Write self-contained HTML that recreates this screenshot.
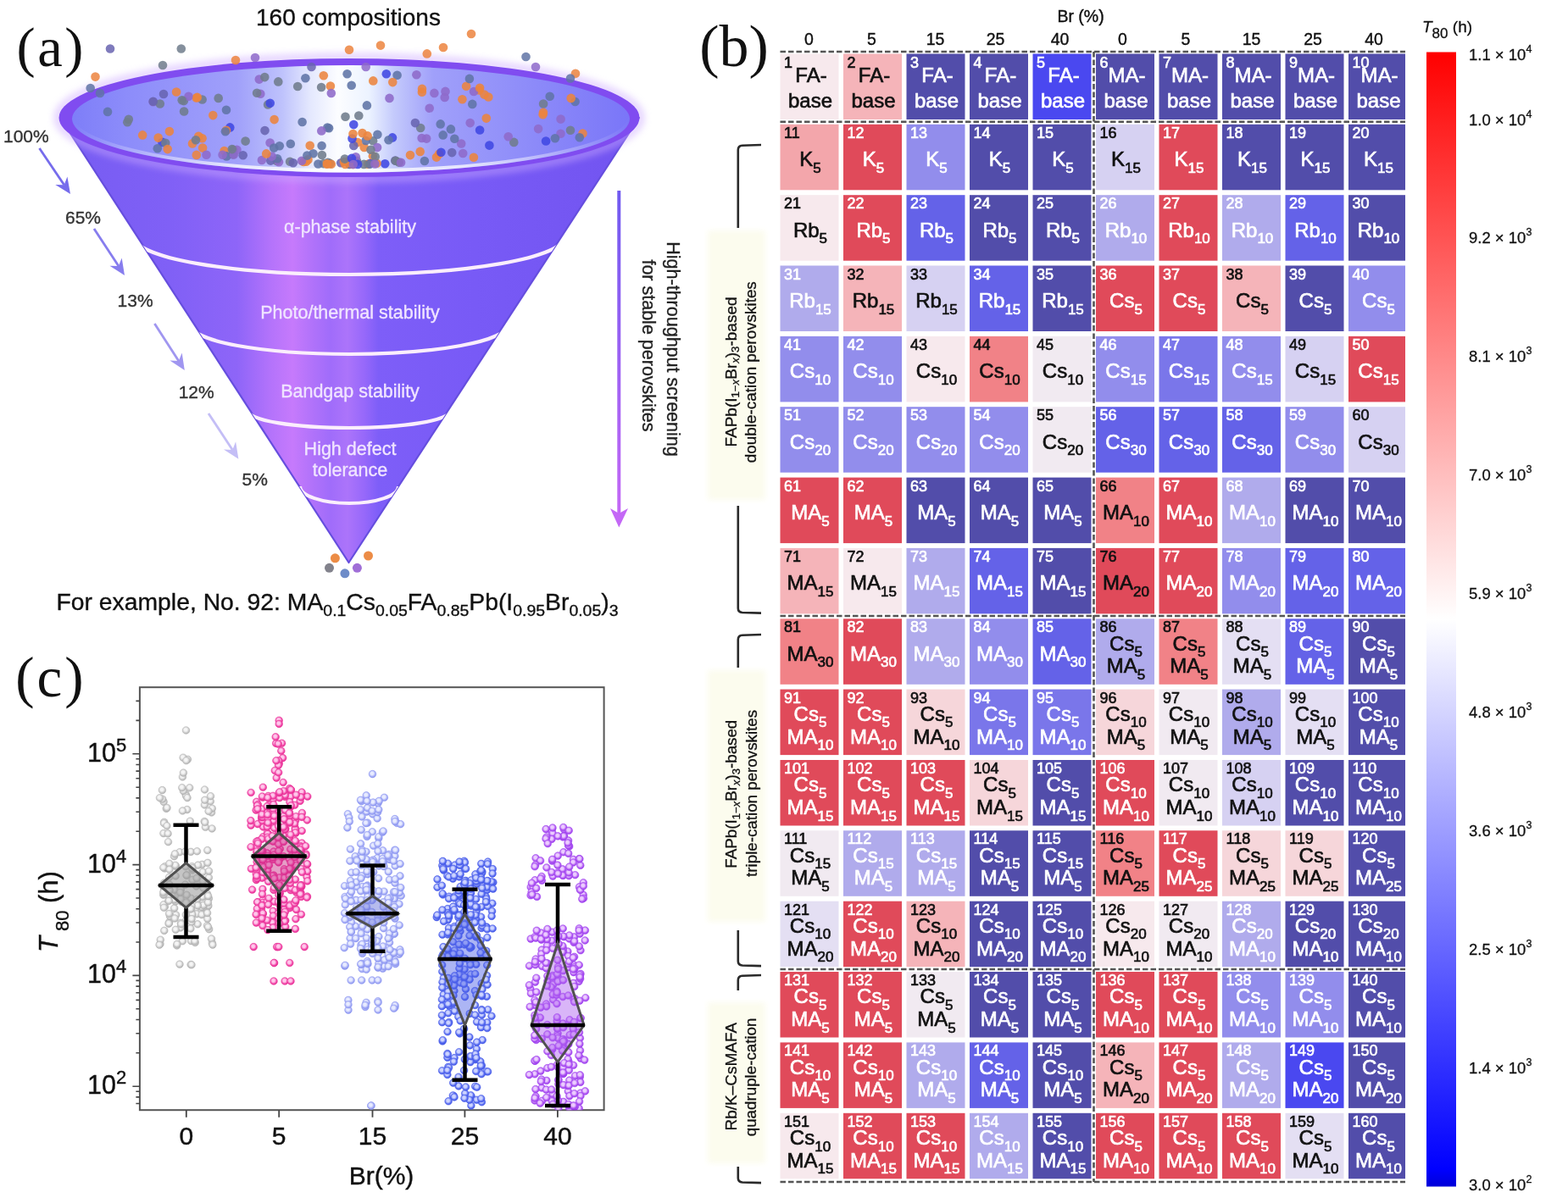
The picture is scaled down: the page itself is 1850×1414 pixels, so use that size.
<!DOCTYPE html>
<html><head><meta charset="utf-8"><title>Figure</title>
<style>html,body{margin:0;padding:0;background:#fff;}svg{display:block;}</style></head>
<body>
<svg width="1850" height="1414" viewBox="0 0 1850 1414" font-family="'Liberation Sans', Arial, Helvetica, sans-serif" fill="#111">
<rect width="1850" height="1414" fill="#fff"/>
<text x="19.6" y="77.5" font-family="'Liberation Serif', 'Times New Roman', serif" font-size="66.5" letter-spacing="2.5">(a)</text>
<text x="825.2" y="77.8" font-family="'Liberation Serif', 'Times New Roman', serif" font-size="70">(b)</text>
<text x="18.3" y="821.7" font-family="'Liberation Serif', 'Times New Roman', serif" font-size="67" letter-spacing="3">(c)</text>
<defs>
<linearGradient id="cone" gradientUnits="userSpaceOnUse" x1="72" y1="0" x2="753" y2="0">
<stop offset="0" stop-color="rgb(118,92,242)"/>
<stop offset="0.188" stop-color="rgb(128,96,246)"/>
<stop offset="0.305" stop-color="rgb(142,101,248)"/>
<stop offset="0.364" stop-color="rgb(180,115,251)"/>
<stop offset="0.401" stop-color="rgb(198,122,252)"/>
<stop offset="0.437" stop-color="rgb(176,114,250)"/>
<stop offset="0.467" stop-color="rgb(160,108,250)"/>
<stop offset="0.496" stop-color="rgb(172,116,250)"/>
<stop offset="0.526" stop-color="rgb(150,104,250)"/>
<stop offset="0.55" stop-color="rgb(126,94,248)"/>
<stop offset="0.717" stop-color="rgb(120,90,246)"/>
<stop offset="1" stop-color="rgb(114,84,240)"/>
</linearGradient>
<linearGradient id="mouth" gradientUnits="userSpaceOnUse" x1="82" y1="0" x2="742" y2="0">
<stop offset="0" stop-color="rgb(125,125,248)"/>
<stop offset="0.10" stop-color="rgb(140,140,250)"/>
<stop offset="0.30" stop-color="rgb(160,160,250)"/>
<stop offset="0.38" stop-color="rgb(190,194,252)"/>
<stop offset="0.43" stop-color="rgb(228,232,254)"/>
<stop offset="0.48" stop-color="rgb(252,253,255)"/>
<stop offset="0.535" stop-color="rgb(236,243,255)"/>
<stop offset="0.58" stop-color="rgb(196,202,252)"/>
<stop offset="0.65" stop-color="rgb(160,160,250)"/>
<stop offset="1" stop-color="rgb(122,118,248)"/>
</linearGradient>
<linearGradient id="varrow" x1="0" y1="0" x2="0" y2="1">
<stop offset="0" stop-color="rgb(112,90,240)"/><stop offset="1" stop-color="rgb(196,104,246)"/>
</linearGradient>
<filter id="glow" x="-10%" y="-30%" width="120%" height="160%"><feGaussianBlur stdDeviation="4"/></filter>
<filter id="soft" x="-10%" y="-10%" width="120%" height="120%"><feGaussianBlur stdDeviation="0.6"/></filter>
</defs>
<path d="M71 139 L411.5 664 L754 139 Z" fill="url(#cone)" stroke="rgb(102,78,222)" stroke-width="2.2" stroke-linejoin="round"/>
<ellipse cx="412" cy="139" rx="344" ry="72" fill="none" stroke="rgb(205,170,255)" stroke-width="8" filter="url(#glow)" opacity="0.6"/>
<ellipse cx="412" cy="139" rx="342.5" ry="70" fill="rgb(128,76,240)"/>
<ellipse cx="414" cy="140.3" rx="329" ry="63.3" fill="url(#mouth)"/>
<defs><linearGradient id="lip" gradientUnits="userSpaceOnUse" x1="85" y1="0" x2="743" y2="0"><stop offset="0" stop-color="#fff" stop-opacity="0"/><stop offset="0.3" stop-color="#fff" stop-opacity="0.75"/><stop offset="0.7" stop-color="#fff" stop-opacity="0.75"/><stop offset="1" stop-color="#fff" stop-opacity="0"/></linearGradient></defs>
<path d="M85 140.3 A329 63.3 0 0 0 743 140.3" fill="none" stroke="url(#lip)" stroke-width="4" transform="translate(0 -2.2)"/>
<defs><clipPath id="coneclip"><path d="M71 139 L411.5 664 L754 139 Z"/></clipPath><clipPath id="mouthclip"><ellipse cx="414" cy="140.3" rx="329" ry="63.3"/></clipPath></defs><g clip-path="url(#coneclip)">
<path d="M159.0 280.0 A253.0 44.0 0 0 0 665.0 280.0" fill="none" stroke="#fbeefc" stroke-width="4.2"/>
<path d="M226.0 384.0 A186.0 34.0 0 0 0 598.0 384.0" fill="none" stroke="#fbeefc" stroke-width="4.2"/>
<path d="M293.0 485.0 A119.0 20.0 0 0 0 531.0 485.0" fill="none" stroke="#fbeefc" stroke-width="4.2"/>
<path d="M354.0 574.0 A58.0 20.0 0 0 0 470.0 574.0" fill="none" stroke="#fbeefc" stroke-width="4.2"/>
</g>
<g clip-path="url(#mouthclip)">
<circle cx="264.6" cy="178.1" r="5.3" fill="rgb(236,132,62)" opacity="0.88"/>
<circle cx="418.6" cy="192.8" r="5.3" fill="rgb(96,116,166)" opacity="0.88"/>
<circle cx="414.6" cy="193.1" r="5.3" fill="rgb(236,132,62)" opacity="0.88"/>
<circle cx="191.5" cy="167.9" r="5.3" fill="rgb(64,72,226)" opacity="0.88"/>
<circle cx="402.2" cy="192.2" r="5.3" fill="rgb(104,100,176)" opacity="0.88"/>
<circle cx="358.2" cy="190.9" r="5.3" fill="rgb(236,132,62)" opacity="0.88"/>
<circle cx="440.3" cy="95.4" r="5.3" fill="rgb(236,132,62)" opacity="0.88"/>
<circle cx="577.4" cy="171.6" r="5.3" fill="rgb(64,72,226)" opacity="0.88"/>
<circle cx="307.3" cy="110.7" r="5.3" fill="rgb(142,106,202)" opacity="0.88"/>
<circle cx="326.6" cy="190.0" r="5.3" fill="rgb(112,124,140)" opacity="0.88"/>
<circle cx="238.6" cy="117.5" r="5.3" fill="rgb(112,124,140)" opacity="0.88"/>
<circle cx="496.2" cy="151.0" r="5.3" fill="rgb(112,124,140)" opacity="0.88"/>
<circle cx="429.7" cy="173.9" r="5.3" fill="rgb(236,132,62)" opacity="0.88"/>
<circle cx="381.8" cy="193.1" r="5.3" fill="rgb(112,124,140)" opacity="0.88"/>
<circle cx="318.6" cy="168.5" r="5.3" fill="rgb(142,106,202)" opacity="0.88"/>
<circle cx="386.3" cy="150.5" r="5.3" fill="rgb(96,116,166)" opacity="0.88"/>
<circle cx="533.2" cy="180.1" r="5.3" fill="rgb(104,100,176)" opacity="0.88"/>
<circle cx="439.9" cy="184.2" r="5.3" fill="rgb(236,132,62)" opacity="0.88"/>
<circle cx="525.5" cy="107.9" r="5.3" fill="rgb(142,106,202)" opacity="0.88"/>
<circle cx="546.2" cy="181.0" r="5.3" fill="rgb(142,106,202)" opacity="0.88"/>
<circle cx="544.2" cy="169.5" r="5.3" fill="rgb(142,106,202)" opacity="0.88"/>
<circle cx="412.2" cy="189.6" r="5.3" fill="rgb(236,132,62)" opacity="0.88"/>
<circle cx="573.8" cy="139.6" r="5.3" fill="rgb(236,132,62)" opacity="0.88"/>
<circle cx="635.1" cy="152.1" r="5.3" fill="rgb(142,106,202)" opacity="0.88"/>
<circle cx="495.7" cy="178.9" r="5.3" fill="rgb(236,132,62)" opacity="0.88"/>
<circle cx="388.1" cy="151.2" r="5.3" fill="rgb(96,116,166)" opacity="0.88"/>
<circle cx="648.7" cy="113.7" r="5.3" fill="rgb(96,116,166)" opacity="0.88"/>
<circle cx="503.2" cy="163.6" r="5.3" fill="rgb(142,106,202)" opacity="0.88"/>
<circle cx="436.4" cy="193.1" r="5.3" fill="rgb(64,72,226)" opacity="0.88"/>
<circle cx="455.8" cy="87.3" r="5.3" fill="rgb(64,72,226)" opacity="0.88"/>
<circle cx="369.5" cy="181.2" r="5.3" fill="rgb(96,116,166)" opacity="0.88"/>
<circle cx="412.7" cy="193.8" r="5.3" fill="rgb(142,106,202)" opacity="0.88"/>
<circle cx="329.0" cy="191.2" r="5.3" fill="rgb(142,106,202)" opacity="0.88"/>
<circle cx="361.2" cy="190.7" r="5.3" fill="rgb(236,132,62)" opacity="0.88"/>
<circle cx="208.1" cy="108.5" r="5.3" fill="rgb(236,132,62)" opacity="0.88"/>
<circle cx="440.1" cy="166.3" r="5.3" fill="rgb(112,124,140)" opacity="0.88"/>
<circle cx="565.4" cy="106.5" r="5.3" fill="rgb(236,132,62)" opacity="0.88"/>
<circle cx="303.1" cy="109.8" r="5.3" fill="rgb(112,124,140)" opacity="0.88"/>
<circle cx="342.8" cy="169.8" r="5.3" fill="rgb(96,116,166)" opacity="0.88"/>
<circle cx="305.8" cy="93.6" r="5.3" fill="rgb(142,106,202)" opacity="0.88"/>
<circle cx="363.5" cy="188.4" r="5.3" fill="rgb(236,132,62)" opacity="0.88"/>
<circle cx="463.0" cy="162.4" r="5.3" fill="rgb(64,72,226)" opacity="0.88"/>
<circle cx="231.8" cy="182.9" r="5.3" fill="rgb(236,132,62)" opacity="0.88"/>
<circle cx="445.1" cy="174.1" r="5.3" fill="rgb(142,106,202)" opacity="0.88"/>
<circle cx="423.3" cy="136.5" r="5.3" fill="rgb(112,124,140)" opacity="0.88"/>
<circle cx="519.7" cy="146.4" r="5.3" fill="rgb(96,116,166)" opacity="0.88"/>
<circle cx="454.2" cy="193.2" r="5.3" fill="rgb(64,72,226)" opacity="0.88"/>
<circle cx="559.0" cy="108.0" r="5.3" fill="rgb(142,106,202)" opacity="0.88"/>
<circle cx="379.6" cy="172.0" r="5.3" fill="rgb(96,116,166)" opacity="0.88"/>
<circle cx="150.3" cy="144.2" r="5.3" fill="rgb(112,124,140)" opacity="0.88"/>
<circle cx="389.3" cy="192.9" r="5.3" fill="rgb(112,124,140)" opacity="0.88"/>
<circle cx="275.3" cy="176.7" r="5.3" fill="rgb(112,124,140)" opacity="0.88"/>
<circle cx="319.3" cy="189.6" r="5.3" fill="rgb(104,100,176)" opacity="0.88"/>
<circle cx="434.0" cy="193.8" r="5.3" fill="rgb(236,132,62)" opacity="0.88"/>
<circle cx="356.0" cy="189.8" r="5.3" fill="rgb(142,106,202)" opacity="0.88"/>
<circle cx="239.1" cy="174.6" r="5.3" fill="rgb(236,132,62)" opacity="0.88"/>
<circle cx="409.6" cy="87.3" r="5.3" fill="rgb(96,116,166)" opacity="0.88"/>
<circle cx="186.7" cy="162.6" r="5.3" fill="rgb(236,132,62)" opacity="0.88"/>
<circle cx="386.9" cy="191.8" r="5.3" fill="rgb(112,124,140)" opacity="0.88"/>
<circle cx="231.7" cy="115.5" r="5.3" fill="rgb(236,132,62)" opacity="0.88"/>
<circle cx="436.1" cy="193.8" r="5.3" fill="rgb(96,116,166)" opacity="0.88"/>
<circle cx="421.0" cy="189.9" r="5.3" fill="rgb(112,124,140)" opacity="0.88"/>
<circle cx="687.5" cy="157.5" r="5.3" fill="rgb(236,132,62)" opacity="0.88"/>
<circle cx="512.4" cy="109.9" r="5.3" fill="rgb(142,106,202)" opacity="0.88"/>
<circle cx="379.9" cy="183.0" r="5.3" fill="rgb(112,124,140)" opacity="0.88"/>
<circle cx="432.9" cy="124.4" r="5.3" fill="rgb(96,116,166)" opacity="0.88"/>
<circle cx="316.1" cy="123.4" r="5.3" fill="rgb(112,124,140)" opacity="0.88"/>
<circle cx="515.0" cy="185.6" r="5.3" fill="rgb(236,132,62)" opacity="0.88"/>
<circle cx="571.4" cy="111.6" r="5.3" fill="rgb(236,132,62)" opacity="0.88"/>
<circle cx="545.4" cy="117.2" r="5.3" fill="rgb(236,132,62)" opacity="0.88"/>
<circle cx="419.8" cy="185.3" r="5.3" fill="rgb(142,106,202)" opacity="0.88"/>
<circle cx="385.9" cy="193.7" r="5.3" fill="rgb(236,132,62)" opacity="0.88"/>
<circle cx="484.0" cy="183.1" r="5.3" fill="rgb(236,132,62)" opacity="0.88"/>
<circle cx="644.1" cy="166.5" r="5.3" fill="rgb(64,72,226)" opacity="0.88"/>
<circle cx="491.4" cy="88.2" r="5.3" fill="rgb(142,106,202)" opacity="0.88"/>
<circle cx="323.2" cy="174.6" r="5.3" fill="rgb(96,116,166)" opacity="0.88"/>
<circle cx="327.2" cy="187.2" r="5.3" fill="rgb(96,116,166)" opacity="0.88"/>
<circle cx="566.1" cy="103.7" r="5.3" fill="rgb(236,132,62)" opacity="0.88"/>
<circle cx="497.6" cy="163.0" r="5.3" fill="rgb(142,106,202)" opacity="0.88"/>
<circle cx="180.7" cy="120.2" r="5.3" fill="rgb(142,106,202)" opacity="0.88"/>
<circle cx="661.6" cy="140.6" r="5.3" fill="rgb(142,106,202)" opacity="0.88"/>
<circle cx="557.3" cy="122.9" r="5.3" fill="rgb(96,116,166)" opacity="0.88"/>
<circle cx="238.6" cy="163.2" r="5.3" fill="rgb(236,132,62)" opacity="0.88"/>
<circle cx="318.7" cy="121.8" r="5.3" fill="rgb(64,72,226)" opacity="0.88"/>
<circle cx="678.6" cy="120.0" r="5.3" fill="rgb(96,116,166)" opacity="0.88"/>
<circle cx="365.7" cy="171.7" r="5.3" fill="rgb(236,132,62)" opacity="0.88"/>
<circle cx="217.1" cy="131.5" r="5.3" fill="rgb(112,124,140)" opacity="0.88"/>
<circle cx="342.1" cy="190.8" r="5.3" fill="rgb(112,124,140)" opacity="0.88"/>
<circle cx="216.9" cy="119.1" r="5.3" fill="rgb(112,124,140)" opacity="0.88"/>
<circle cx="673.7" cy="115.9" r="5.3" fill="rgb(236,132,62)" opacity="0.88"/>
<circle cx="323.6" cy="141.1" r="5.3" fill="rgb(236,132,62)" opacity="0.88"/>
<circle cx="199.9" cy="155.1" r="5.3" fill="rgb(236,132,62)" opacity="0.88"/>
<circle cx="429.3" cy="193.9" r="5.3" fill="rgb(112,124,140)" opacity="0.88"/>
<circle cx="661.5" cy="157.7" r="5.3" fill="rgb(142,106,202)" opacity="0.88"/>
<circle cx="606.3" cy="167.9" r="5.3" fill="rgb(112,124,140)" opacity="0.88"/>
<circle cx="257.7" cy="115.9" r="5.3" fill="rgb(112,124,140)" opacity="0.88"/>
<circle cx="362.4" cy="183.6" r="5.3" fill="rgb(96,116,166)" opacity="0.88"/>
<circle cx="271.3" cy="150.4" r="5.3" fill="rgb(64,72,226)" opacity="0.88"/>
<circle cx="227.0" cy="169.4" r="5.3" fill="rgb(236,132,62)" opacity="0.88"/>
<circle cx="351.2" cy="102.0" r="5.3" fill="rgb(112,124,140)" opacity="0.88"/>
<circle cx="458.5" cy="165.3" r="5.3" fill="rgb(96,116,166)" opacity="0.88"/>
<circle cx="379.1" cy="103.0" r="5.3" fill="rgb(112,124,140)" opacity="0.88"/>
<circle cx="414.7" cy="100.7" r="5.3" fill="rgb(96,116,166)" opacity="0.88"/>
<circle cx="427.5" cy="157.1" r="5.3" fill="rgb(236,132,62)" opacity="0.88"/>
<circle cx="412.3" cy="193.9" r="5.3" fill="rgb(96,116,166)" opacity="0.88"/>
<circle cx="416.3" cy="194.0" r="5.3" fill="rgb(236,132,62)" opacity="0.88"/>
<circle cx="536.3" cy="163.7" r="5.3" fill="rgb(96,116,166)" opacity="0.88"/>
<circle cx="312.5" cy="154.1" r="5.3" fill="rgb(104,100,176)" opacity="0.88"/>
<circle cx="445.4" cy="158.7" r="5.3" fill="rgb(96,116,166)" opacity="0.88"/>
<circle cx="188.8" cy="122.5" r="5.3" fill="rgb(112,124,140)" opacity="0.88"/>
<circle cx="267.0" cy="153.7" r="5.3" fill="rgb(236,132,62)" opacity="0.88"/>
<circle cx="518.0" cy="181.8" r="5.3" fill="rgb(236,132,62)" opacity="0.88"/>
<circle cx="566.1" cy="153.5" r="5.3" fill="rgb(64,72,226)" opacity="0.88"/>
<circle cx="389.9" cy="101.6" r="5.3" fill="rgb(236,132,62)" opacity="0.88"/>
<circle cx="417.3" cy="147.1" r="5.3" fill="rgb(64,72,226)" opacity="0.88"/>
<circle cx="522.7" cy="159.4" r="5.3" fill="rgb(96,116,166)" opacity="0.88"/>
<circle cx="431.6" cy="166.0" r="5.3" fill="rgb(96,116,166)" opacity="0.88"/>
<circle cx="654.9" cy="163.2" r="5.3" fill="rgb(96,116,166)" opacity="0.88"/>
<circle cx="640.6" cy="135.2" r="5.3" fill="rgb(236,132,62)" opacity="0.88"/>
<circle cx="328.3" cy="96.4" r="5.3" fill="rgb(112,124,140)" opacity="0.88"/>
<circle cx="673.0" cy="153.8" r="5.3" fill="rgb(112,124,140)" opacity="0.88"/>
<circle cx="222.5" cy="113.7" r="5.3" fill="rgb(142,106,202)" opacity="0.88"/>
<circle cx="405.9" cy="191.0" r="5.3" fill="rgb(236,132,62)" opacity="0.88"/>
<circle cx="267.3" cy="184.4" r="5.3" fill="rgb(96,116,166)" opacity="0.88"/>
<circle cx="641.1" cy="122.6" r="5.3" fill="rgb(112,124,140)" opacity="0.88"/>
<circle cx="466.3" cy="189.5" r="5.3" fill="rgb(104,100,176)" opacity="0.88"/>
<circle cx="500.9" cy="190.0" r="5.3" fill="rgb(96,116,166)" opacity="0.88"/>
<circle cx="558.9" cy="185.8" r="5.3" fill="rgb(236,132,62)" opacity="0.88"/>
<circle cx="683.8" cy="162.2" r="5.3" fill="rgb(96,116,166)" opacity="0.88"/>
<circle cx="232.8" cy="114.9" r="5.3" fill="rgb(236,132,62)" opacity="0.88"/>
<circle cx="422.0" cy="168.1" r="5.3" fill="rgb(236,132,62)" opacity="0.88"/>
<circle cx="279.5" cy="176.8" r="5.3" fill="rgb(142,106,202)" opacity="0.88"/>
<circle cx="127.0" cy="131.9" r="5.3" fill="rgb(96,116,166)" opacity="0.88"/>
<circle cx="379.3" cy="154.4" r="5.3" fill="rgb(142,106,202)" opacity="0.88"/>
<circle cx="407.3" cy="193.9" r="5.3" fill="rgb(236,132,62)" opacity="0.88"/>
<circle cx="168.2" cy="159.4" r="5.3" fill="rgb(236,132,62)" opacity="0.88"/>
<circle cx="468.6" cy="88.7" r="5.3" fill="rgb(96,116,166)" opacity="0.88"/>
<circle cx="312.3" cy="91.1" r="5.3" fill="rgb(112,124,140)" opacity="0.88"/>
<circle cx="243.5" cy="182.7" r="5.3" fill="rgb(142,106,202)" opacity="0.88"/>
<circle cx="274.9" cy="182.3" r="5.3" fill="rgb(96,116,166)" opacity="0.88"/>
<circle cx="550.1" cy="101.8" r="5.3" fill="rgb(236,132,62)" opacity="0.88"/>
<circle cx="286.7" cy="183.2" r="5.3" fill="rgb(104,100,176)" opacity="0.88"/>
<circle cx="531.9" cy="152.4" r="5.3" fill="rgb(96,116,166)" opacity="0.88"/>
<circle cx="345.9" cy="192.2" r="5.3" fill="rgb(104,100,176)" opacity="0.88"/>
<circle cx="195.3" cy="168.8" r="5.3" fill="rgb(112,124,140)" opacity="0.88"/>
<circle cx="463.3" cy="97.1" r="5.3" fill="rgb(236,132,62)" opacity="0.88"/>
<circle cx="180.7" cy="119.8" r="5.3" fill="rgb(104,100,176)" opacity="0.88"/>
<circle cx="193.0" cy="111.0" r="5.3" fill="rgb(104,100,176)" opacity="0.88"/>
<circle cx="390.8" cy="110.0" r="5.3" fill="rgb(142,106,202)" opacity="0.88"/>
<circle cx="437.5" cy="176.8" r="5.3" fill="rgb(112,124,140)" opacity="0.88"/>
<circle cx="275.8" cy="182.5" r="5.3" fill="rgb(142,106,202)" opacity="0.88"/>
<circle cx="320.7" cy="184.6" r="5.3" fill="rgb(142,106,202)" opacity="0.88"/>
<circle cx="385.7" cy="193.3" r="5.3" fill="rgb(236,132,62)" opacity="0.88"/>
<circle cx="520.4" cy="179.7" r="5.3" fill="rgb(64,72,226)" opacity="0.88"/>
<circle cx="234.3" cy="160.7" r="5.3" fill="rgb(236,132,62)" opacity="0.88"/>
<circle cx="197.7" cy="176.1" r="5.3" fill="rgb(236,132,62)" opacity="0.88"/>
<circle cx="422.1" cy="193.9" r="5.3" fill="rgb(64,72,226)" opacity="0.88"/>
<circle cx="406.8" cy="187.6" r="5.3" fill="rgb(112,124,140)" opacity="0.88"/>
<circle cx="470.7" cy="191.6" r="5.3" fill="rgb(112,124,140)" opacity="0.88"/>
<circle cx="599.7" cy="161.3" r="5.3" fill="rgb(142,106,202)" opacity="0.88"/>
<circle cx="417.3" cy="171.9" r="5.3" fill="rgb(104,100,176)" opacity="0.88"/>
<circle cx="381.8" cy="89.2" r="5.3" fill="rgb(236,132,62)" opacity="0.88"/>
<circle cx="524.7" cy="115.0" r="5.3" fill="rgb(142,106,202)" opacity="0.88"/>
<circle cx="356.6" cy="144.0" r="5.3" fill="rgb(96,116,166)" opacity="0.88"/>
<circle cx="273.8" cy="176.1" r="5.3" fill="rgb(112,124,140)" opacity="0.88"/>
<circle cx="444.5" cy="192.8" r="5.3" fill="rgb(236,132,62)" opacity="0.88"/>
<circle cx="308.9" cy="189.0" r="5.3" fill="rgb(142,106,202)" opacity="0.88"/>
<circle cx="497.9" cy="108.7" r="5.3" fill="rgb(236,132,62)" opacity="0.88"/>
<circle cx="314.2" cy="181.4" r="5.3" fill="rgb(236,132,62)" opacity="0.88"/>
<circle cx="231.0" cy="165.2" r="5.3" fill="rgb(112,124,140)" opacity="0.88"/>
<circle cx="289.6" cy="166.6" r="5.3" fill="rgb(112,124,140)" opacity="0.88"/>
<circle cx="553.9" cy="92.9" r="5.3" fill="rgb(96,116,166)" opacity="0.88"/>
<circle cx="265.9" cy="155.3" r="5.3" fill="rgb(96,116,166)" opacity="0.88"/>
<circle cx="360.4" cy="92.2" r="5.3" fill="rgb(96,116,166)" opacity="0.88"/>
<circle cx="185.8" cy="175.3" r="5.3" fill="rgb(96,116,166)" opacity="0.88"/>
<circle cx="415.5" cy="163.6" r="5.3" fill="rgb(64,72,226)" opacity="0.88"/>
<circle cx="415.0" cy="186.9" r="5.3" fill="rgb(64,72,226)" opacity="0.88"/>
<circle cx="262.6" cy="182.8" r="5.3" fill="rgb(142,106,202)" opacity="0.88"/>
<circle cx="375.4" cy="193.5" r="5.3" fill="rgb(96,116,166)" opacity="0.88"/>
<circle cx="442.7" cy="184.9" r="5.3" fill="rgb(112,124,140)" opacity="0.88"/>
<circle cx="506.7" cy="127.7" r="5.3" fill="rgb(142,106,202)" opacity="0.88"/>
<circle cx="641.0" cy="132.8" r="5.3" fill="rgb(236,132,62)" opacity="0.88"/>
<circle cx="329.8" cy="172.3" r="5.3" fill="rgb(96,116,166)" opacity="0.88"/>
<circle cx="466.8" cy="189.7" r="5.3" fill="rgb(112,124,140)" opacity="0.88"/>
<circle cx="442.3" cy="193.5" r="5.3" fill="rgb(142,106,202)" opacity="0.88"/>
<circle cx="554.7" cy="145.1" r="5.3" fill="rgb(142,106,202)" opacity="0.88"/>
<circle cx="214.7" cy="118.2" r="5.3" fill="rgb(112,124,140)" opacity="0.88"/>
<circle cx="416.5" cy="158.0" r="5.3" fill="rgb(236,132,62)" opacity="0.88"/>
<circle cx="576.3" cy="114.5" r="5.3" fill="rgb(236,132,62)" opacity="0.88"/>
<circle cx="459.5" cy="115.9" r="5.3" fill="rgb(142,106,202)" opacity="0.88"/>
<circle cx="498.0" cy="104.9" r="5.3" fill="rgb(236,132,62)" opacity="0.88"/>
<circle cx="251.3" cy="136.1" r="5.3" fill="rgb(236,132,62)" opacity="0.88"/>
<circle cx="390.8" cy="193.7" r="5.3" fill="rgb(236,132,62)" opacity="0.88"/>
<circle cx="473.1" cy="191.7" r="5.3" fill="rgb(142,106,202)" opacity="0.88"/>
<circle cx="489.9" cy="145.1" r="5.3" fill="rgb(104,100,176)" opacity="0.88"/>
<circle cx="407.5" cy="137.8" r="5.3" fill="rgb(112,124,140)" opacity="0.88"/>
<circle cx="416.8" cy="194.0" r="5.3" fill="rgb(142,106,202)" opacity="0.88"/>
<circle cx="433.7" cy="160.4" r="5.3" fill="rgb(236,132,62)" opacity="0.88"/>
<circle cx="151.8" cy="140.8" r="5.3" fill="rgb(112,124,140)" opacity="0.88"/>
<circle cx="267.0" cy="129.7" r="5.3" fill="rgb(96,116,166)" opacity="0.88"/>
</g>
<circle cx="130.0" cy="57.5" r="5.3" fill="rgb(104,100,176)" opacity="0.85"/>
<circle cx="213.8" cy="57.5" r="5.3" fill="rgb(112,124,140)" opacity="0.85"/>
<circle cx="192.0" cy="77.0" r="5.3" fill="rgb(112,124,140)" opacity="0.85"/>
<circle cx="278.0" cy="71.0" r="5.3" fill="rgb(236,132,62)" opacity="0.85"/>
<circle cx="301.0" cy="68.0" r="5.3" fill="rgb(142,106,202)" opacity="0.85"/>
<circle cx="412.0" cy="58.7" r="5.3" fill="rgb(236,132,62)" opacity="0.85"/>
<circle cx="449.0" cy="53.6" r="5.3" fill="rgb(236,132,62)" opacity="0.85"/>
<circle cx="503.8" cy="63.4" r="5.3" fill="rgb(236,132,62)" opacity="0.85"/>
<circle cx="523.0" cy="56.0" r="5.3" fill="rgb(236,132,62)" opacity="0.85"/>
<circle cx="620.5" cy="67.0" r="5.3" fill="rgb(96,116,166)" opacity="0.85"/>
<circle cx="632.0" cy="79.0" r="5.3" fill="rgb(142,106,202)" opacity="0.85"/>
<circle cx="679.0" cy="86.7" r="5.3" fill="rgb(236,132,62)" opacity="0.85"/>
<circle cx="673.0" cy="92.5" r="5.3" fill="rgb(96,116,166)" opacity="0.85"/>
<circle cx="112.5" cy="90.6" r="5.3" fill="rgb(236,132,62)" opacity="0.85"/>
<circle cx="118.0" cy="110.0" r="5.3" fill="rgb(96,116,166)" opacity="0.85"/>
<circle cx="106.7" cy="104.0" r="5.3" fill="rgb(96,116,166)" opacity="0.85"/>
<circle cx="367.5" cy="79.0" r="5.3" fill="rgb(104,100,176)" opacity="0.85"/>
<circle cx="431.7" cy="79.0" r="5.3" fill="rgb(142,106,202)" opacity="0.85"/>
<circle cx="556.0" cy="40.0" r="5.3" fill="rgb(236,132,62)" opacity="0.85"/>
<circle cx="395.4" cy="658.8" r="5.5" fill="rgb(236,140,70)"/>
<circle cx="434.5" cy="656.0" r="5.5" fill="rgb(236,140,70)"/>
<circle cx="388.5" cy="670.3" r="5.5" fill="rgb(130,130,140)"/>
<circle cx="406.9" cy="676.8" r="5.5" fill="rgb(110,140,200)"/>
<circle cx="421.4" cy="670.3" r="5.5" fill="rgb(160,110,215)"/>
<text x="413" y="275" fill="rgb(240,228,255)" font-size="21.5" text-anchor="middle" stroke="rgb(240,228,255)" stroke-width="0.35">α-phase stability</text>
<text x="413" y="376" fill="rgb(240,228,255)" font-size="21.5" text-anchor="middle" stroke="rgb(240,228,255)" stroke-width="0.35">Photo/thermal stability</text>
<text x="413" y="469" fill="rgb(240,228,255)" font-size="21.5" text-anchor="middle" stroke="rgb(240,228,255)" stroke-width="0.35">Bandgap stability</text>
<text x="413" y="537" fill="rgb(240,228,255)" font-size="21.5" text-anchor="middle" stroke="rgb(240,228,255)" stroke-width="0.35">High defect</text>
<text x="413" y="562" fill="rgb(240,228,255)" font-size="21.5" text-anchor="middle" stroke="rgb(240,228,255)" stroke-width="0.35">tolerance</text>
<text x="4.0" y="168.0" fill="#333" font-size="21" stroke="#333" stroke-width="0.35">100%</text>
<text x="77.0" y="264.0" fill="#333" font-size="21" stroke="#333" stroke-width="0.35">65%</text>
<text x="138.6" y="362.0" fill="#333" font-size="21" stroke="#333" stroke-width="0.35">13%</text>
<text x="210.7" y="470.0" fill="#333" font-size="21" stroke="#333" stroke-width="0.35">12%</text>
<text x="285.6" y="573.0" fill="#333" font-size="21" stroke="#333" stroke-width="0.35">5%</text>
<line x1="46.5" y1="175.0" x2="75.7" y2="218.2" stroke="rgb(118,108,236)" stroke-width="2.8"/>
<path d="M83.0 229.0 L65.3 218.0 L75.7 218.2 L79.4 208.5 Z" fill="rgb(118,108,236)"/>
<line x1="111.0" y1="270.0" x2="139.9" y2="314.1" stroke="rgb(135,125,238)" stroke-width="2.8"/>
<path d="M147.0 325.0 L129.5 313.8 L139.9 314.1 L143.7 304.4 Z" fill="rgb(135,125,238)"/>
<line x1="182.4" y1="382.0" x2="210.8" y2="426.1" stroke="rgb(160,150,240)" stroke-width="2.8"/>
<path d="M217.8 437.0 L200.4 425.6 L210.8 426.1 L214.7 416.4 Z" fill="rgb(160,150,240)"/>
<line x1="246.0" y1="488.0" x2="274.3" y2="530.9" stroke="rgb(196,190,246)" stroke-width="2.8"/>
<path d="M281.4 541.8 L263.9 530.6 L274.3 530.9 L278.1 521.3 Z" fill="rgb(196,190,246)"/>
<rect x="728.3" y="225" width="4" height="382" fill="url(#varrow)"/>
<path d="M720 600 L730.3 622.5 L741 600 L730.3 606 Z" fill="rgb(196,104,246)"/>
<text transform="translate(787 412) rotate(90)" font-size="21.5" text-anchor="middle" fill="#222" stroke="#222" stroke-width="0.35">High-throughput screening</text>
<text transform="translate(758 408) rotate(90)" font-size="21.5" text-anchor="middle" fill="#222" stroke="#222" stroke-width="0.35">for stable perovskites</text>
<text x="302" y="29.8" font-size="28" fill="#111" stroke="#111" stroke-width="0.35">160 compositions</text>
<text x="66.5" y="720" font-size="27.7" fill="#111" textLength="663" lengthAdjust="spacingAndGlyphs" stroke="#111" stroke-width="0.35">For example, No. 92: MA<tspan font-size="19" dy="7">0.1</tspan><tspan dy="-7">Cs</tspan><tspan font-size="19" dy="7">0.05</tspan><tspan dy="-7">FA</tspan><tspan font-size="19" dy="7">0.85</tspan><tspan dy="-7">Pb(I</tspan><tspan font-size="19" dy="7">0.95</tspan><tspan dy="-7">Br</tspan><tspan font-size="19" dy="7">0.05</tspan><tspan dy="-7">)</tspan><tspan font-size="19" dy="7">3</tspan></text>
<line x1="920.5" y1="61.0" x2="1658" y2="61.0" stroke="#555" stroke-width="2.6" stroke-dasharray="6.5 3" fill="none"/>
<line x1="920.5" y1="143.8" x2="1658" y2="143.8" stroke="#555" stroke-width="2.6" stroke-dasharray="6.5 3" fill="none"/>
<line x1="920.5" y1="727.0" x2="1658" y2="727.0" stroke="#555" stroke-width="2.6" stroke-dasharray="6.5 3" fill="none"/>
<line x1="920.5" y1="1144.0" x2="1658" y2="1144.0" stroke="#555" stroke-width="2.6" stroke-dasharray="6.5 3" fill="none"/>
<line x1="920.5" y1="1395.0" x2="1658" y2="1395.0" stroke="#555" stroke-width="2.6" stroke-dasharray="6.5 3" fill="none"/>
<line x1="1290.5" y1="61" x2="1290.5" y2="1395" stroke="#555" stroke-width="2.6" stroke-dasharray="6.5 3" fill="none"/>
<rect x="920.5" y="63.5" width="69.0" height="77.5" fill="rgb(247,233,237)"/>
<g fill="#111" stroke="#111" stroke-width="0.65">
<text x="925.0" y="79.5" font-size="18">1</text>
<text x="957.0" y="97.0" font-size="24" text-anchor="middle">FA-</text>
<text x="956.0" y="127.0" font-size="24" text-anchor="middle">base</text>
</g>
<rect x="995.0" y="63.5" width="69.0" height="77.5" fill="rgb(245,180,185)"/>
<g fill="#111" stroke="#111" stroke-width="0.65">
<text x="999.5" y="79.5" font-size="18">2</text>
<text x="1031.5" y="97.0" font-size="24" text-anchor="middle">FA-</text>
<text x="1030.5" y="127.0" font-size="24" text-anchor="middle">base</text>
</g>
<rect x="1069.5" y="63.5" width="69.0" height="77.5" fill="rgb(82,77,170)"/>
<g fill="#fff" stroke="#fff" stroke-width="0.65">
<text x="1074.0" y="79.5" font-size="18">3</text>
<text x="1106.0" y="97.0" font-size="24" text-anchor="middle">FA-</text>
<text x="1105.0" y="127.0" font-size="24" text-anchor="middle">base</text>
</g>
<rect x="1144.0" y="63.5" width="69.0" height="77.5" fill="rgb(82,77,170)"/>
<g fill="#fff" stroke="#fff" stroke-width="0.65">
<text x="1148.5" y="79.5" font-size="18">4</text>
<text x="1180.5" y="97.0" font-size="24" text-anchor="middle">FA-</text>
<text x="1179.5" y="127.0" font-size="24" text-anchor="middle">base</text>
</g>
<rect x="1218.5" y="63.5" width="69.0" height="77.5" fill="rgb(74,72,240)"/>
<g fill="#fff" stroke="#fff" stroke-width="0.65">
<text x="1223.0" y="79.5" font-size="18">5</text>
<text x="1255.0" y="97.0" font-size="24" text-anchor="middle">FA-</text>
<text x="1254.0" y="127.0" font-size="24" text-anchor="middle">base</text>
</g>
<rect x="1293.0" y="63.5" width="69.0" height="77.5" fill="rgb(82,77,170)"/>
<g fill="#fff" stroke="#fff" stroke-width="0.65">
<text x="1297.5" y="79.5" font-size="18">6</text>
<text x="1329.5" y="97.0" font-size="24" text-anchor="middle">MA-</text>
<text x="1328.5" y="127.0" font-size="24" text-anchor="middle">base</text>
</g>
<rect x="1367.5" y="63.5" width="69.0" height="77.5" fill="rgb(82,77,170)"/>
<g fill="#fff" stroke="#fff" stroke-width="0.65">
<text x="1372.0" y="79.5" font-size="18">7</text>
<text x="1404.0" y="97.0" font-size="24" text-anchor="middle">MA-</text>
<text x="1403.0" y="127.0" font-size="24" text-anchor="middle">base</text>
</g>
<rect x="1442.0" y="63.5" width="69.0" height="77.5" fill="rgb(82,77,170)"/>
<g fill="#fff" stroke="#fff" stroke-width="0.65">
<text x="1446.5" y="79.5" font-size="18">8</text>
<text x="1478.5" y="97.0" font-size="24" text-anchor="middle">MA-</text>
<text x="1477.5" y="127.0" font-size="24" text-anchor="middle">base</text>
</g>
<rect x="1516.5" y="63.5" width="69.0" height="77.5" fill="rgb(82,77,170)"/>
<g fill="#fff" stroke="#fff" stroke-width="0.65">
<text x="1521.0" y="79.5" font-size="18">9</text>
<text x="1553.0" y="97.0" font-size="24" text-anchor="middle">MA-</text>
<text x="1552.0" y="127.0" font-size="24" text-anchor="middle">base</text>
</g>
<rect x="1591.0" y="63.5" width="67.0" height="77.5" fill="rgb(82,77,170)"/>
<g fill="#fff" stroke="#fff" stroke-width="0.65">
<text x="1595.5" y="79.5" font-size="18">10</text>
<text x="1627.5" y="97.0" font-size="24" text-anchor="middle">MA-</text>
<text x="1626.5" y="127.0" font-size="24" text-anchor="middle">base</text>
</g>
<rect x="920.5" y="146.8" width="69.0" height="77.5" fill="rgb(243,166,171)"/>
<g fill="#111" stroke="#111" stroke-width="0.65">
<text x="925.0" y="162.8" font-size="18">11</text>
<text x="956.0" y="196.3" font-size="24" text-anchor="middle">K<tspan font-size="17" dy="7.5">5</tspan></text>
</g>
<rect x="995.0" y="146.8" width="69.0" height="77.5" fill="rgb(224,74,90)"/>
<g fill="#fff" stroke="#fff" stroke-width="0.65">
<text x="999.5" y="162.8" font-size="18">12</text>
<text x="1030.5" y="196.3" font-size="24" text-anchor="middle">K<tspan font-size="17" dy="7.5">5</tspan></text>
</g>
<rect x="1069.5" y="146.8" width="69.0" height="77.5" fill="rgb(146,141,236)"/>
<g fill="#fff" stroke="#fff" stroke-width="0.65">
<text x="1074.0" y="162.8" font-size="18">13</text>
<text x="1105.0" y="196.3" font-size="24" text-anchor="middle">K<tspan font-size="17" dy="7.5">5</tspan></text>
</g>
<rect x="1144.0" y="146.8" width="69.0" height="77.5" fill="rgb(82,77,170)"/>
<g fill="#fff" stroke="#fff" stroke-width="0.65">
<text x="1148.5" y="162.8" font-size="18">14</text>
<text x="1179.5" y="196.3" font-size="24" text-anchor="middle">K<tspan font-size="17" dy="7.5">5</tspan></text>
</g>
<rect x="1218.5" y="146.8" width="69.0" height="77.5" fill="rgb(82,77,170)"/>
<g fill="#fff" stroke="#fff" stroke-width="0.65">
<text x="1223.0" y="162.8" font-size="18">15</text>
<text x="1254.0" y="196.3" font-size="24" text-anchor="middle">K<tspan font-size="17" dy="7.5">5</tspan></text>
</g>
<rect x="1293.0" y="146.8" width="69.0" height="77.5" fill="rgb(214,209,242)"/>
<g fill="#111" stroke="#111" stroke-width="0.65">
<text x="1297.5" y="162.8" font-size="18">16</text>
<text x="1328.5" y="196.3" font-size="24" text-anchor="middle">K<tspan font-size="17" dy="7.5">15</tspan></text>
</g>
<rect x="1367.5" y="146.8" width="69.0" height="77.5" fill="rgb(224,74,90)"/>
<g fill="#fff" stroke="#fff" stroke-width="0.65">
<text x="1372.0" y="162.8" font-size="18">17</text>
<text x="1403.0" y="196.3" font-size="24" text-anchor="middle">K<tspan font-size="17" dy="7.5">15</tspan></text>
</g>
<rect x="1442.0" y="146.8" width="69.0" height="77.5" fill="rgb(82,77,170)"/>
<g fill="#fff" stroke="#fff" stroke-width="0.65">
<text x="1446.5" y="162.8" font-size="18">18</text>
<text x="1477.5" y="196.3" font-size="24" text-anchor="middle">K<tspan font-size="17" dy="7.5">15</tspan></text>
</g>
<rect x="1516.5" y="146.8" width="69.0" height="77.5" fill="rgb(82,77,170)"/>
<g fill="#fff" stroke="#fff" stroke-width="0.65">
<text x="1521.0" y="162.8" font-size="18">19</text>
<text x="1552.0" y="196.3" font-size="24" text-anchor="middle">K<tspan font-size="17" dy="7.5">15</tspan></text>
</g>
<rect x="1591.0" y="146.8" width="67.0" height="77.5" fill="rgb(82,77,170)"/>
<g fill="#fff" stroke="#fff" stroke-width="0.65">
<text x="1595.5" y="162.8" font-size="18">20</text>
<text x="1626.5" y="196.3" font-size="24" text-anchor="middle">K<tspan font-size="17" dy="7.5">15</tspan></text>
</g>
<rect x="920.5" y="230.2" width="69.0" height="77.5" fill="rgb(247,233,237)"/>
<g fill="#111" stroke="#111" stroke-width="0.65">
<text x="925.0" y="246.2" font-size="18">21</text>
<text x="956.0" y="279.7" font-size="24" text-anchor="middle">Rb<tspan font-size="17" dy="7.5">5</tspan></text>
</g>
<rect x="995.0" y="230.2" width="69.0" height="77.5" fill="rgb(224,74,90)"/>
<g fill="#fff" stroke="#fff" stroke-width="0.65">
<text x="999.5" y="246.2" font-size="18">22</text>
<text x="1030.5" y="279.7" font-size="24" text-anchor="middle">Rb<tspan font-size="17" dy="7.5">5</tspan></text>
</g>
<rect x="1069.5" y="230.2" width="69.0" height="77.5" fill="rgb(100,98,232)"/>
<g fill="#fff" stroke="#fff" stroke-width="0.65">
<text x="1074.0" y="246.2" font-size="18">23</text>
<text x="1105.0" y="279.7" font-size="24" text-anchor="middle">Rb<tspan font-size="17" dy="7.5">5</tspan></text>
</g>
<rect x="1144.0" y="230.2" width="69.0" height="77.5" fill="rgb(82,77,170)"/>
<g fill="#fff" stroke="#fff" stroke-width="0.65">
<text x="1148.5" y="246.2" font-size="18">24</text>
<text x="1179.5" y="279.7" font-size="24" text-anchor="middle">Rb<tspan font-size="17" dy="7.5">5</tspan></text>
</g>
<rect x="1218.5" y="230.2" width="69.0" height="77.5" fill="rgb(82,77,170)"/>
<g fill="#fff" stroke="#fff" stroke-width="0.65">
<text x="1223.0" y="246.2" font-size="18">25</text>
<text x="1254.0" y="279.7" font-size="24" text-anchor="middle">Rb<tspan font-size="17" dy="7.5">5</tspan></text>
</g>
<rect x="1293.0" y="230.2" width="69.0" height="77.5" fill="rgb(176,171,236)"/>
<g fill="#fff" stroke="#fff" stroke-width="0.65">
<text x="1297.5" y="246.2" font-size="18">26</text>
<text x="1328.5" y="279.7" font-size="24" text-anchor="middle">Rb<tspan font-size="17" dy="7.5">10</tspan></text>
</g>
<rect x="1367.5" y="230.2" width="69.0" height="77.5" fill="rgb(224,74,90)"/>
<g fill="#fff" stroke="#fff" stroke-width="0.65">
<text x="1372.0" y="246.2" font-size="18">27</text>
<text x="1403.0" y="279.7" font-size="24" text-anchor="middle">Rb<tspan font-size="17" dy="7.5">10</tspan></text>
</g>
<rect x="1442.0" y="230.2" width="69.0" height="77.5" fill="rgb(176,171,236)"/>
<g fill="#fff" stroke="#fff" stroke-width="0.65">
<text x="1446.5" y="246.2" font-size="18">28</text>
<text x="1477.5" y="279.7" font-size="24" text-anchor="middle">Rb<tspan font-size="17" dy="7.5">10</tspan></text>
</g>
<rect x="1516.5" y="230.2" width="69.0" height="77.5" fill="rgb(100,98,232)"/>
<g fill="#fff" stroke="#fff" stroke-width="0.65">
<text x="1521.0" y="246.2" font-size="18">29</text>
<text x="1552.0" y="279.7" font-size="24" text-anchor="middle">Rb<tspan font-size="17" dy="7.5">10</tspan></text>
</g>
<rect x="1591.0" y="230.2" width="67.0" height="77.5" fill="rgb(82,77,170)"/>
<g fill="#fff" stroke="#fff" stroke-width="0.65">
<text x="1595.5" y="246.2" font-size="18">30</text>
<text x="1626.5" y="279.7" font-size="24" text-anchor="middle">Rb<tspan font-size="17" dy="7.5">10</tspan></text>
</g>
<rect x="920.5" y="313.5" width="69.0" height="77.5" fill="rgb(176,171,236)"/>
<g fill="#fff" stroke="#fff" stroke-width="0.65">
<text x="925.0" y="329.5" font-size="18">31</text>
<text x="956.0" y="363.0" font-size="24" text-anchor="middle">Rb<tspan font-size="17" dy="7.5">15</tspan></text>
</g>
<rect x="995.0" y="313.5" width="69.0" height="77.5" fill="rgb(245,180,185)"/>
<g fill="#111" stroke="#111" stroke-width="0.65">
<text x="999.5" y="329.5" font-size="18">32</text>
<text x="1030.5" y="363.0" font-size="24" text-anchor="middle">Rb<tspan font-size="17" dy="7.5">15</tspan></text>
</g>
<rect x="1069.5" y="313.5" width="69.0" height="77.5" fill="rgb(214,209,242)"/>
<g fill="#111" stroke="#111" stroke-width="0.65">
<text x="1074.0" y="329.5" font-size="18">33</text>
<text x="1105.0" y="363.0" font-size="24" text-anchor="middle">Rb<tspan font-size="17" dy="7.5">15</tspan></text>
</g>
<rect x="1144.0" y="313.5" width="69.0" height="77.5" fill="rgb(100,98,232)"/>
<g fill="#fff" stroke="#fff" stroke-width="0.65">
<text x="1148.5" y="329.5" font-size="18">34</text>
<text x="1179.5" y="363.0" font-size="24" text-anchor="middle">Rb<tspan font-size="17" dy="7.5">15</tspan></text>
</g>
<rect x="1218.5" y="313.5" width="69.0" height="77.5" fill="rgb(82,77,170)"/>
<g fill="#fff" stroke="#fff" stroke-width="0.65">
<text x="1223.0" y="329.5" font-size="18">35</text>
<text x="1254.0" y="363.0" font-size="24" text-anchor="middle">Rb<tspan font-size="17" dy="7.5">15</tspan></text>
</g>
<rect x="1293.0" y="313.5" width="69.0" height="77.5" fill="rgb(224,74,90)"/>
<g fill="#fff" stroke="#fff" stroke-width="0.65">
<text x="1297.5" y="329.5" font-size="18">36</text>
<text x="1328.5" y="363.0" font-size="24" text-anchor="middle">Cs<tspan font-size="17" dy="7.5">5</tspan></text>
</g>
<rect x="1367.5" y="313.5" width="69.0" height="77.5" fill="rgb(224,74,90)"/>
<g fill="#fff" stroke="#fff" stroke-width="0.65">
<text x="1372.0" y="329.5" font-size="18">37</text>
<text x="1403.0" y="363.0" font-size="24" text-anchor="middle">Cs<tspan font-size="17" dy="7.5">5</tspan></text>
</g>
<rect x="1442.0" y="313.5" width="69.0" height="77.5" fill="rgb(245,180,185)"/>
<g fill="#111" stroke="#111" stroke-width="0.65">
<text x="1446.5" y="329.5" font-size="18">38</text>
<text x="1477.5" y="363.0" font-size="24" text-anchor="middle">Cs<tspan font-size="17" dy="7.5">5</tspan></text>
</g>
<rect x="1516.5" y="313.5" width="69.0" height="77.5" fill="rgb(82,77,170)"/>
<g fill="#fff" stroke="#fff" stroke-width="0.65">
<text x="1521.0" y="329.5" font-size="18">39</text>
<text x="1552.0" y="363.0" font-size="24" text-anchor="middle">Cs<tspan font-size="17" dy="7.5">5</tspan></text>
</g>
<rect x="1591.0" y="313.5" width="67.0" height="77.5" fill="rgb(146,141,236)"/>
<g fill="#fff" stroke="#fff" stroke-width="0.65">
<text x="1595.5" y="329.5" font-size="18">40</text>
<text x="1626.5" y="363.0" font-size="24" text-anchor="middle">Cs<tspan font-size="17" dy="7.5">5</tspan></text>
</g>
<rect x="920.5" y="396.9" width="69.0" height="77.5" fill="rgb(146,141,236)"/>
<g fill="#fff" stroke="#fff" stroke-width="0.65">
<text x="925.0" y="412.9" font-size="18">41</text>
<text x="956.0" y="446.4" font-size="24" text-anchor="middle">Cs<tspan font-size="17" dy="7.5">10</tspan></text>
</g>
<rect x="995.0" y="396.9" width="69.0" height="77.5" fill="rgb(146,141,236)"/>
<g fill="#fff" stroke="#fff" stroke-width="0.65">
<text x="999.5" y="412.9" font-size="18">42</text>
<text x="1030.5" y="446.4" font-size="24" text-anchor="middle">Cs<tspan font-size="17" dy="7.5">10</tspan></text>
</g>
<rect x="1069.5" y="396.9" width="69.0" height="77.5" fill="rgb(247,233,237)"/>
<g fill="#111" stroke="#111" stroke-width="0.65">
<text x="1074.0" y="412.9" font-size="18">43</text>
<text x="1105.0" y="446.4" font-size="24" text-anchor="middle">Cs<tspan font-size="17" dy="7.5">10</tspan></text>
</g>
<rect x="1144.0" y="396.9" width="69.0" height="77.5" fill="rgb(241,130,135)"/>
<g fill="#111" stroke="#111" stroke-width="0.65">
<text x="1148.5" y="412.9" font-size="18">44</text>
<text x="1179.5" y="446.4" font-size="24" text-anchor="middle">Cs<tspan font-size="17" dy="7.5">10</tspan></text>
</g>
<rect x="1218.5" y="396.9" width="69.0" height="77.5" fill="rgb(241,234,241)"/>
<g fill="#111" stroke="#111" stroke-width="0.65">
<text x="1223.0" y="412.9" font-size="18">45</text>
<text x="1254.0" y="446.4" font-size="24" text-anchor="middle">Cs<tspan font-size="17" dy="7.5">10</tspan></text>
</g>
<rect x="1293.0" y="396.9" width="69.0" height="77.5" fill="rgb(146,141,236)"/>
<g fill="#fff" stroke="#fff" stroke-width="0.65">
<text x="1297.5" y="412.9" font-size="18">46</text>
<text x="1328.5" y="446.4" font-size="24" text-anchor="middle">Cs<tspan font-size="17" dy="7.5">15</tspan></text>
</g>
<rect x="1367.5" y="396.9" width="69.0" height="77.5" fill="rgb(122,118,234)"/>
<g fill="#fff" stroke="#fff" stroke-width="0.65">
<text x="1372.0" y="412.9" font-size="18">47</text>
<text x="1403.0" y="446.4" font-size="24" text-anchor="middle">Cs<tspan font-size="17" dy="7.5">15</tspan></text>
</g>
<rect x="1442.0" y="396.9" width="69.0" height="77.5" fill="rgb(146,141,236)"/>
<g fill="#fff" stroke="#fff" stroke-width="0.65">
<text x="1446.5" y="412.9" font-size="18">48</text>
<text x="1477.5" y="446.4" font-size="24" text-anchor="middle">Cs<tspan font-size="17" dy="7.5">15</tspan></text>
</g>
<rect x="1516.5" y="396.9" width="69.0" height="77.5" fill="rgb(214,209,242)"/>
<g fill="#111" stroke="#111" stroke-width="0.65">
<text x="1521.0" y="412.9" font-size="18">49</text>
<text x="1552.0" y="446.4" font-size="24" text-anchor="middle">Cs<tspan font-size="17" dy="7.5">15</tspan></text>
</g>
<rect x="1591.0" y="396.9" width="67.0" height="77.5" fill="rgb(224,74,90)"/>
<g fill="#fff" stroke="#fff" stroke-width="0.65">
<text x="1595.5" y="412.9" font-size="18">50</text>
<text x="1626.5" y="446.4" font-size="24" text-anchor="middle">Cs<tspan font-size="17" dy="7.5">15</tspan></text>
</g>
<rect x="920.5" y="480.2" width="69.0" height="77.5" fill="rgb(146,141,236)"/>
<g fill="#fff" stroke="#fff" stroke-width="0.65">
<text x="925.0" y="496.2" font-size="18">51</text>
<text x="956.0" y="529.8" font-size="24" text-anchor="middle">Cs<tspan font-size="17" dy="7.5">20</tspan></text>
</g>
<rect x="995.0" y="480.2" width="69.0" height="77.5" fill="rgb(146,141,236)"/>
<g fill="#fff" stroke="#fff" stroke-width="0.65">
<text x="999.5" y="496.2" font-size="18">52</text>
<text x="1030.5" y="529.8" font-size="24" text-anchor="middle">Cs<tspan font-size="17" dy="7.5">20</tspan></text>
</g>
<rect x="1069.5" y="480.2" width="69.0" height="77.5" fill="rgb(146,141,236)"/>
<g fill="#fff" stroke="#fff" stroke-width="0.65">
<text x="1074.0" y="496.2" font-size="18">53</text>
<text x="1105.0" y="529.8" font-size="24" text-anchor="middle">Cs<tspan font-size="17" dy="7.5">20</tspan></text>
</g>
<rect x="1144.0" y="480.2" width="69.0" height="77.5" fill="rgb(146,141,236)"/>
<g fill="#fff" stroke="#fff" stroke-width="0.65">
<text x="1148.5" y="496.2" font-size="18">54</text>
<text x="1179.5" y="529.8" font-size="24" text-anchor="middle">Cs<tspan font-size="17" dy="7.5">20</tspan></text>
</g>
<rect x="1218.5" y="480.2" width="69.0" height="77.5" fill="rgb(241,234,241)"/>
<g fill="#111" stroke="#111" stroke-width="0.65">
<text x="1223.0" y="496.2" font-size="18">55</text>
<text x="1254.0" y="529.8" font-size="24" text-anchor="middle">Cs<tspan font-size="17" dy="7.5">20</tspan></text>
</g>
<rect x="1293.0" y="480.2" width="69.0" height="77.5" fill="rgb(100,98,232)"/>
<g fill="#fff" stroke="#fff" stroke-width="0.65">
<text x="1297.5" y="496.2" font-size="18">56</text>
<text x="1328.5" y="529.8" font-size="24" text-anchor="middle">Cs<tspan font-size="17" dy="7.5">30</tspan></text>
</g>
<rect x="1367.5" y="480.2" width="69.0" height="77.5" fill="rgb(100,98,232)"/>
<g fill="#fff" stroke="#fff" stroke-width="0.65">
<text x="1372.0" y="496.2" font-size="18">57</text>
<text x="1403.0" y="529.8" font-size="24" text-anchor="middle">Cs<tspan font-size="17" dy="7.5">30</tspan></text>
</g>
<rect x="1442.0" y="480.2" width="69.0" height="77.5" fill="rgb(100,98,232)"/>
<g fill="#fff" stroke="#fff" stroke-width="0.65">
<text x="1446.5" y="496.2" font-size="18">58</text>
<text x="1477.5" y="529.8" font-size="24" text-anchor="middle">Cs<tspan font-size="17" dy="7.5">30</tspan></text>
</g>
<rect x="1516.5" y="480.2" width="69.0" height="77.5" fill="rgb(146,141,236)"/>
<g fill="#fff" stroke="#fff" stroke-width="0.65">
<text x="1521.0" y="496.2" font-size="18">59</text>
<text x="1552.0" y="529.8" font-size="24" text-anchor="middle">Cs<tspan font-size="17" dy="7.5">30</tspan></text>
</g>
<rect x="1591.0" y="480.2" width="67.0" height="77.5" fill="rgb(214,209,242)"/>
<g fill="#111" stroke="#111" stroke-width="0.65">
<text x="1595.5" y="496.2" font-size="18">60</text>
<text x="1626.5" y="529.8" font-size="24" text-anchor="middle">Cs<tspan font-size="17" dy="7.5">30</tspan></text>
</g>
<rect x="920.5" y="563.6" width="69.0" height="77.5" fill="rgb(224,74,90)"/>
<g fill="#fff" stroke="#fff" stroke-width="0.65">
<text x="925.0" y="579.6" font-size="18">61</text>
<text x="956.0" y="613.1" font-size="24" text-anchor="middle">MA<tspan font-size="17" dy="7.5">5</tspan></text>
</g>
<rect x="995.0" y="563.6" width="69.0" height="77.5" fill="rgb(224,74,90)"/>
<g fill="#fff" stroke="#fff" stroke-width="0.65">
<text x="999.5" y="579.6" font-size="18">62</text>
<text x="1030.5" y="613.1" font-size="24" text-anchor="middle">MA<tspan font-size="17" dy="7.5">5</tspan></text>
</g>
<rect x="1069.5" y="563.6" width="69.0" height="77.5" fill="rgb(82,77,170)"/>
<g fill="#fff" stroke="#fff" stroke-width="0.65">
<text x="1074.0" y="579.6" font-size="18">63</text>
<text x="1105.0" y="613.1" font-size="24" text-anchor="middle">MA<tspan font-size="17" dy="7.5">5</tspan></text>
</g>
<rect x="1144.0" y="563.6" width="69.0" height="77.5" fill="rgb(82,77,170)"/>
<g fill="#fff" stroke="#fff" stroke-width="0.65">
<text x="1148.5" y="579.6" font-size="18">64</text>
<text x="1179.5" y="613.1" font-size="24" text-anchor="middle">MA<tspan font-size="17" dy="7.5">5</tspan></text>
</g>
<rect x="1218.5" y="563.6" width="69.0" height="77.5" fill="rgb(82,77,170)"/>
<g fill="#fff" stroke="#fff" stroke-width="0.65">
<text x="1223.0" y="579.6" font-size="18">65</text>
<text x="1254.0" y="613.1" font-size="24" text-anchor="middle">MA<tspan font-size="17" dy="7.5">5</tspan></text>
</g>
<rect x="1293.0" y="563.6" width="69.0" height="77.5" fill="rgb(241,130,135)"/>
<g fill="#111" stroke="#111" stroke-width="0.65">
<text x="1297.5" y="579.6" font-size="18">66</text>
<text x="1328.5" y="613.1" font-size="24" text-anchor="middle">MA<tspan font-size="17" dy="7.5">10</tspan></text>
</g>
<rect x="1367.5" y="563.6" width="69.0" height="77.5" fill="rgb(224,74,90)"/>
<g fill="#fff" stroke="#fff" stroke-width="0.65">
<text x="1372.0" y="579.6" font-size="18">67</text>
<text x="1403.0" y="613.1" font-size="24" text-anchor="middle">MA<tspan font-size="17" dy="7.5">10</tspan></text>
</g>
<rect x="1442.0" y="563.6" width="69.0" height="77.5" fill="rgb(176,171,236)"/>
<g fill="#fff" stroke="#fff" stroke-width="0.65">
<text x="1446.5" y="579.6" font-size="18">68</text>
<text x="1477.5" y="613.1" font-size="24" text-anchor="middle">MA<tspan font-size="17" dy="7.5">10</tspan></text>
</g>
<rect x="1516.5" y="563.6" width="69.0" height="77.5" fill="rgb(82,77,170)"/>
<g fill="#fff" stroke="#fff" stroke-width="0.65">
<text x="1521.0" y="579.6" font-size="18">69</text>
<text x="1552.0" y="613.1" font-size="24" text-anchor="middle">MA<tspan font-size="17" dy="7.5">10</tspan></text>
</g>
<rect x="1591.0" y="563.6" width="67.0" height="77.5" fill="rgb(82,77,170)"/>
<g fill="#fff" stroke="#fff" stroke-width="0.65">
<text x="1595.5" y="579.6" font-size="18">70</text>
<text x="1626.5" y="613.1" font-size="24" text-anchor="middle">MA<tspan font-size="17" dy="7.5">10</tspan></text>
</g>
<rect x="920.5" y="646.9" width="69.0" height="77.5" fill="rgb(245,180,185)"/>
<g fill="#111" stroke="#111" stroke-width="0.65">
<text x="925.0" y="662.9" font-size="18">71</text>
<text x="956.0" y="696.4" font-size="24" text-anchor="middle">MA<tspan font-size="17" dy="7.5">15</tspan></text>
</g>
<rect x="995.0" y="646.9" width="69.0" height="77.5" fill="rgb(247,233,237)"/>
<g fill="#111" stroke="#111" stroke-width="0.65">
<text x="999.5" y="662.9" font-size="18">72</text>
<text x="1030.5" y="696.4" font-size="24" text-anchor="middle">MA<tspan font-size="17" dy="7.5">15</tspan></text>
</g>
<rect x="1069.5" y="646.9" width="69.0" height="77.5" fill="rgb(176,171,236)"/>
<g fill="#fff" stroke="#fff" stroke-width="0.65">
<text x="1074.0" y="662.9" font-size="18">73</text>
<text x="1105.0" y="696.4" font-size="24" text-anchor="middle">MA<tspan font-size="17" dy="7.5">15</tspan></text>
</g>
<rect x="1144.0" y="646.9" width="69.0" height="77.5" fill="rgb(100,98,232)"/>
<g fill="#fff" stroke="#fff" stroke-width="0.65">
<text x="1148.5" y="662.9" font-size="18">74</text>
<text x="1179.5" y="696.4" font-size="24" text-anchor="middle">MA<tspan font-size="17" dy="7.5">15</tspan></text>
</g>
<rect x="1218.5" y="646.9" width="69.0" height="77.5" fill="rgb(82,77,170)"/>
<g fill="#fff" stroke="#fff" stroke-width="0.65">
<text x="1223.0" y="662.9" font-size="18">75</text>
<text x="1254.0" y="696.4" font-size="24" text-anchor="middle">MA<tspan font-size="17" dy="7.5">15</tspan></text>
</g>
<rect x="1293.0" y="646.9" width="69.0" height="77.5" fill="rgb(224,74,90)"/>
<g fill="#111" stroke="#111" stroke-width="0.65">
<text x="1297.5" y="662.9" font-size="18">76</text>
<text x="1328.5" y="696.4" font-size="24" text-anchor="middle">MA<tspan font-size="17" dy="7.5">20</tspan></text>
</g>
<rect x="1367.5" y="646.9" width="69.0" height="77.5" fill="rgb(224,74,90)"/>
<g fill="#fff" stroke="#fff" stroke-width="0.65">
<text x="1372.0" y="662.9" font-size="18">77</text>
<text x="1403.0" y="696.4" font-size="24" text-anchor="middle">MA<tspan font-size="17" dy="7.5">20</tspan></text>
</g>
<rect x="1442.0" y="646.9" width="69.0" height="77.5" fill="rgb(146,141,236)"/>
<g fill="#fff" stroke="#fff" stroke-width="0.65">
<text x="1446.5" y="662.9" font-size="18">78</text>
<text x="1477.5" y="696.4" font-size="24" text-anchor="middle">MA<tspan font-size="17" dy="7.5">20</tspan></text>
</g>
<rect x="1516.5" y="646.9" width="69.0" height="77.5" fill="rgb(100,98,232)"/>
<g fill="#fff" stroke="#fff" stroke-width="0.65">
<text x="1521.0" y="662.9" font-size="18">79</text>
<text x="1552.0" y="696.4" font-size="24" text-anchor="middle">MA<tspan font-size="17" dy="7.5">20</tspan></text>
</g>
<rect x="1591.0" y="646.9" width="67.0" height="77.5" fill="rgb(100,98,232)"/>
<g fill="#fff" stroke="#fff" stroke-width="0.65">
<text x="1595.5" y="662.9" font-size="18">80</text>
<text x="1626.5" y="696.4" font-size="24" text-anchor="middle">MA<tspan font-size="17" dy="7.5">20</tspan></text>
</g>
<rect x="920.5" y="730.3" width="69.0" height="77.5" fill="rgb(241,130,135)"/>
<g fill="#111" stroke="#111" stroke-width="0.65">
<text x="925.0" y="746.3" font-size="18">81</text>
<text x="956.0" y="779.8" font-size="24" text-anchor="middle">MA<tspan font-size="17" dy="7.5">30</tspan></text>
</g>
<rect x="995.0" y="730.3" width="69.0" height="77.5" fill="rgb(224,74,90)"/>
<g fill="#fff" stroke="#fff" stroke-width="0.65">
<text x="999.5" y="746.3" font-size="18">82</text>
<text x="1030.5" y="779.8" font-size="24" text-anchor="middle">MA<tspan font-size="17" dy="7.5">30</tspan></text>
</g>
<rect x="1069.5" y="730.3" width="69.0" height="77.5" fill="rgb(176,171,236)"/>
<g fill="#fff" stroke="#fff" stroke-width="0.65">
<text x="1074.0" y="746.3" font-size="18">83</text>
<text x="1105.0" y="779.8" font-size="24" text-anchor="middle">MA<tspan font-size="17" dy="7.5">30</tspan></text>
</g>
<rect x="1144.0" y="730.3" width="69.0" height="77.5" fill="rgb(146,141,236)"/>
<g fill="#fff" stroke="#fff" stroke-width="0.65">
<text x="1148.5" y="746.3" font-size="18">84</text>
<text x="1179.5" y="779.8" font-size="24" text-anchor="middle">MA<tspan font-size="17" dy="7.5">30</tspan></text>
</g>
<rect x="1218.5" y="730.3" width="69.0" height="77.5" fill="rgb(100,98,232)"/>
<g fill="#fff" stroke="#fff" stroke-width="0.65">
<text x="1223.0" y="746.3" font-size="18">85</text>
<text x="1254.0" y="779.8" font-size="24" text-anchor="middle">MA<tspan font-size="17" dy="7.5">30</tspan></text>
</g>
<rect x="1293.0" y="730.3" width="69.0" height="77.5" fill="rgb(176,171,236)"/>
<g fill="#111" stroke="#111" stroke-width="0.65">
<text x="1297.5" y="746.3" font-size="18">86</text>
<text x="1328.5" y="767.5" font-size="24" text-anchor="middle">Cs<tspan font-size="17" dy="7.5">5</tspan></text>
<text x="1328.5" y="794.3" font-size="24" text-anchor="middle">MA<tspan font-size="17" dy="7.5">5</tspan></text>
</g>
<rect x="1367.5" y="730.3" width="69.0" height="77.5" fill="rgb(241,130,135)"/>
<g fill="#111" stroke="#111" stroke-width="0.65">
<text x="1372.0" y="746.3" font-size="18">87</text>
<text x="1403.0" y="767.5" font-size="24" text-anchor="middle">Cs<tspan font-size="17" dy="7.5">5</tspan></text>
<text x="1403.0" y="794.3" font-size="24" text-anchor="middle">MA<tspan font-size="17" dy="7.5">5</tspan></text>
</g>
<rect x="1442.0" y="730.3" width="69.0" height="77.5" fill="rgb(228,223,243)"/>
<g fill="#111" stroke="#111" stroke-width="0.65">
<text x="1446.5" y="746.3" font-size="18">88</text>
<text x="1477.5" y="767.5" font-size="24" text-anchor="middle">Cs<tspan font-size="17" dy="7.5">5</tspan></text>
<text x="1477.5" y="794.3" font-size="24" text-anchor="middle">MA<tspan font-size="17" dy="7.5">5</tspan></text>
</g>
<rect x="1516.5" y="730.3" width="69.0" height="77.5" fill="rgb(100,98,232)"/>
<g fill="#fff" stroke="#fff" stroke-width="0.65">
<text x="1521.0" y="746.3" font-size="18">89</text>
<text x="1552.0" y="767.5" font-size="24" text-anchor="middle">Cs<tspan font-size="17" dy="7.5">5</tspan></text>
<text x="1552.0" y="794.3" font-size="24" text-anchor="middle">MA<tspan font-size="17" dy="7.5">5</tspan></text>
</g>
<rect x="1591.0" y="730.3" width="67.0" height="77.5" fill="rgb(82,77,170)"/>
<g fill="#fff" stroke="#fff" stroke-width="0.65">
<text x="1595.5" y="746.3" font-size="18">90</text>
<text x="1626.5" y="767.5" font-size="24" text-anchor="middle">Cs<tspan font-size="17" dy="7.5">5</tspan></text>
<text x="1626.5" y="794.3" font-size="24" text-anchor="middle">MA<tspan font-size="17" dy="7.5">5</tspan></text>
</g>
<rect x="920.5" y="813.6" width="69.0" height="77.5" fill="rgb(224,74,90)"/>
<g fill="#fff" stroke="#fff" stroke-width="0.65">
<text x="925.0" y="829.6" font-size="18">91</text>
<text x="956.0" y="850.9" font-size="24" text-anchor="middle">Cs<tspan font-size="17" dy="7.5">5</tspan></text>
<text x="956.0" y="877.6" font-size="24" text-anchor="middle">MA<tspan font-size="17" dy="7.5">10</tspan></text>
</g>
<rect x="995.0" y="813.6" width="69.0" height="77.5" fill="rgb(224,74,90)"/>
<g fill="#fff" stroke="#fff" stroke-width="0.65">
<text x="999.5" y="829.6" font-size="18">92</text>
<text x="1030.5" y="850.9" font-size="24" text-anchor="middle">Cs<tspan font-size="17" dy="7.5">5</tspan></text>
<text x="1030.5" y="877.6" font-size="24" text-anchor="middle">MA<tspan font-size="17" dy="7.5">10</tspan></text>
</g>
<rect x="1069.5" y="813.6" width="69.0" height="77.5" fill="rgb(246,214,218)"/>
<g fill="#111" stroke="#111" stroke-width="0.65">
<text x="1074.0" y="829.6" font-size="18">93</text>
<text x="1105.0" y="850.9" font-size="24" text-anchor="middle">Cs<tspan font-size="17" dy="7.5">5</tspan></text>
<text x="1105.0" y="877.6" font-size="24" text-anchor="middle">MA<tspan font-size="17" dy="7.5">10</tspan></text>
</g>
<rect x="1144.0" y="813.6" width="69.0" height="77.5" fill="rgb(122,118,234)"/>
<g fill="#fff" stroke="#fff" stroke-width="0.65">
<text x="1148.5" y="829.6" font-size="18">94</text>
<text x="1179.5" y="850.9" font-size="24" text-anchor="middle">Cs<tspan font-size="17" dy="7.5">5</tspan></text>
<text x="1179.5" y="877.6" font-size="24" text-anchor="middle">MA<tspan font-size="17" dy="7.5">10</tspan></text>
</g>
<rect x="1218.5" y="813.6" width="69.0" height="77.5" fill="rgb(122,118,234)"/>
<g fill="#fff" stroke="#fff" stroke-width="0.65">
<text x="1223.0" y="829.6" font-size="18">95</text>
<text x="1254.0" y="850.9" font-size="24" text-anchor="middle">Cs<tspan font-size="17" dy="7.5">5</tspan></text>
<text x="1254.0" y="877.6" font-size="24" text-anchor="middle">MA<tspan font-size="17" dy="7.5">10</tspan></text>
</g>
<rect x="1293.0" y="813.6" width="69.0" height="77.5" fill="rgb(246,214,218)"/>
<g fill="#111" stroke="#111" stroke-width="0.65">
<text x="1297.5" y="829.6" font-size="18">96</text>
<text x="1328.5" y="850.9" font-size="24" text-anchor="middle">Cs<tspan font-size="17" dy="7.5">10</tspan></text>
<text x="1328.5" y="877.6" font-size="24" text-anchor="middle">MA<tspan font-size="17" dy="7.5">5</tspan></text>
</g>
<rect x="1367.5" y="813.6" width="69.0" height="77.5" fill="rgb(241,234,241)"/>
<g fill="#111" stroke="#111" stroke-width="0.65">
<text x="1372.0" y="829.6" font-size="18">97</text>
<text x="1403.0" y="850.9" font-size="24" text-anchor="middle">Cs<tspan font-size="17" dy="7.5">10</tspan></text>
<text x="1403.0" y="877.6" font-size="24" text-anchor="middle">MA<tspan font-size="17" dy="7.5">5</tspan></text>
</g>
<rect x="1442.0" y="813.6" width="69.0" height="77.5" fill="rgb(176,171,236)"/>
<g fill="#111" stroke="#111" stroke-width="0.65">
<text x="1446.5" y="829.6" font-size="18">98</text>
<text x="1477.5" y="850.9" font-size="24" text-anchor="middle">Cs<tspan font-size="17" dy="7.5">10</tspan></text>
<text x="1477.5" y="877.6" font-size="24" text-anchor="middle">MA<tspan font-size="17" dy="7.5">5</tspan></text>
</g>
<rect x="1516.5" y="813.6" width="69.0" height="77.5" fill="rgb(228,223,243)"/>
<g fill="#111" stroke="#111" stroke-width="0.65">
<text x="1521.0" y="829.6" font-size="18">99</text>
<text x="1552.0" y="850.9" font-size="24" text-anchor="middle">Cs<tspan font-size="17" dy="7.5">10</tspan></text>
<text x="1552.0" y="877.6" font-size="24" text-anchor="middle">MA<tspan font-size="17" dy="7.5">5</tspan></text>
</g>
<rect x="1591.0" y="813.6" width="67.0" height="77.5" fill="rgb(82,77,170)"/>
<g fill="#fff" stroke="#fff" stroke-width="0.65">
<text x="1595.5" y="829.6" font-size="18">100</text>
<text x="1626.5" y="850.9" font-size="24" text-anchor="middle">Cs<tspan font-size="17" dy="7.5">10</tspan></text>
<text x="1626.5" y="877.6" font-size="24" text-anchor="middle">MA<tspan font-size="17" dy="7.5">5</tspan></text>
</g>
<rect x="920.5" y="897.0" width="69.0" height="77.5" fill="rgb(224,74,90)"/>
<g fill="#fff" stroke="#fff" stroke-width="0.65">
<text x="925.0" y="913.0" font-size="18">101</text>
<text x="956.0" y="934.2" font-size="24" text-anchor="middle">Cs<tspan font-size="17" dy="7.5">5</tspan></text>
<text x="956.0" y="961.0" font-size="24" text-anchor="middle">MA<tspan font-size="17" dy="7.5">15</tspan></text>
</g>
<rect x="995.0" y="897.0" width="69.0" height="77.5" fill="rgb(224,74,90)"/>
<g fill="#fff" stroke="#fff" stroke-width="0.65">
<text x="999.5" y="913.0" font-size="18">102</text>
<text x="1030.5" y="934.2" font-size="24" text-anchor="middle">Cs<tspan font-size="17" dy="7.5">5</tspan></text>
<text x="1030.5" y="961.0" font-size="24" text-anchor="middle">MA<tspan font-size="17" dy="7.5">15</tspan></text>
</g>
<rect x="1069.5" y="897.0" width="69.0" height="77.5" fill="rgb(224,74,90)"/>
<g fill="#fff" stroke="#fff" stroke-width="0.65">
<text x="1074.0" y="913.0" font-size="18">103</text>
<text x="1105.0" y="934.2" font-size="24" text-anchor="middle">Cs<tspan font-size="17" dy="7.5">5</tspan></text>
<text x="1105.0" y="961.0" font-size="24" text-anchor="middle">MA<tspan font-size="17" dy="7.5">15</tspan></text>
</g>
<rect x="1144.0" y="897.0" width="69.0" height="77.5" fill="rgb(246,214,218)"/>
<g fill="#111" stroke="#111" stroke-width="0.65">
<text x="1148.5" y="913.0" font-size="18">104</text>
<text x="1179.5" y="934.2" font-size="24" text-anchor="middle">Cs<tspan font-size="17" dy="7.5">5</tspan></text>
<text x="1179.5" y="961.0" font-size="24" text-anchor="middle">MA<tspan font-size="17" dy="7.5">15</tspan></text>
</g>
<rect x="1218.5" y="897.0" width="69.0" height="77.5" fill="rgb(82,77,170)"/>
<g fill="#fff" stroke="#fff" stroke-width="0.65">
<text x="1223.0" y="913.0" font-size="18">105</text>
<text x="1254.0" y="934.2" font-size="24" text-anchor="middle">Cs<tspan font-size="17" dy="7.5">5</tspan></text>
<text x="1254.0" y="961.0" font-size="24" text-anchor="middle">MA<tspan font-size="17" dy="7.5">15</tspan></text>
</g>
<rect x="1293.0" y="897.0" width="69.0" height="77.5" fill="rgb(224,74,90)"/>
<g fill="#fff" stroke="#fff" stroke-width="0.65">
<text x="1297.5" y="913.0" font-size="18">106</text>
<text x="1328.5" y="934.2" font-size="24" text-anchor="middle">Cs<tspan font-size="17" dy="7.5">10</tspan></text>
<text x="1328.5" y="961.0" font-size="24" text-anchor="middle">MA<tspan font-size="17" dy="7.5">10</tspan></text>
</g>
<rect x="1367.5" y="897.0" width="69.0" height="77.5" fill="rgb(241,234,241)"/>
<g fill="#111" stroke="#111" stroke-width="0.65">
<text x="1372.0" y="913.0" font-size="18">107</text>
<text x="1403.0" y="934.2" font-size="24" text-anchor="middle">Cs<tspan font-size="17" dy="7.5">10</tspan></text>
<text x="1403.0" y="961.0" font-size="24" text-anchor="middle">MA<tspan font-size="17" dy="7.5">10</tspan></text>
</g>
<rect x="1442.0" y="897.0" width="69.0" height="77.5" fill="rgb(214,209,242)"/>
<g fill="#111" stroke="#111" stroke-width="0.65">
<text x="1446.5" y="913.0" font-size="18">108</text>
<text x="1477.5" y="934.2" font-size="24" text-anchor="middle">Cs<tspan font-size="17" dy="7.5">10</tspan></text>
<text x="1477.5" y="961.0" font-size="24" text-anchor="middle">MA<tspan font-size="17" dy="7.5">10</tspan></text>
</g>
<rect x="1516.5" y="897.0" width="69.0" height="77.5" fill="rgb(82,77,170)"/>
<g fill="#fff" stroke="#fff" stroke-width="0.65">
<text x="1521.0" y="913.0" font-size="18">109</text>
<text x="1552.0" y="934.2" font-size="24" text-anchor="middle">Cs<tspan font-size="17" dy="7.5">10</tspan></text>
<text x="1552.0" y="961.0" font-size="24" text-anchor="middle">MA<tspan font-size="17" dy="7.5">10</tspan></text>
</g>
<rect x="1591.0" y="897.0" width="67.0" height="77.5" fill="rgb(82,77,170)"/>
<g fill="#fff" stroke="#fff" stroke-width="0.65">
<text x="1595.5" y="913.0" font-size="18">110</text>
<text x="1626.5" y="934.2" font-size="24" text-anchor="middle">Cs<tspan font-size="17" dy="7.5">10</tspan></text>
<text x="1626.5" y="961.0" font-size="24" text-anchor="middle">MA<tspan font-size="17" dy="7.5">10</tspan></text>
</g>
<rect x="920.5" y="980.3" width="69.0" height="77.5" fill="rgb(241,234,241)"/>
<g fill="#111" stroke="#111" stroke-width="0.65">
<text x="925.0" y="996.3" font-size="18">111</text>
<text x="956.0" y="1017.5" font-size="24" text-anchor="middle">Cs<tspan font-size="17" dy="7.5">15</tspan></text>
<text x="956.0" y="1044.3" font-size="24" text-anchor="middle">MA<tspan font-size="17" dy="7.5">5</tspan></text>
</g>
<rect x="995.0" y="980.3" width="69.0" height="77.5" fill="rgb(176,171,236)"/>
<g fill="#fff" stroke="#fff" stroke-width="0.65">
<text x="999.5" y="996.3" font-size="18">112</text>
<text x="1030.5" y="1017.5" font-size="24" text-anchor="middle">Cs<tspan font-size="17" dy="7.5">15</tspan></text>
<text x="1030.5" y="1044.3" font-size="24" text-anchor="middle">MA<tspan font-size="17" dy="7.5">5</tspan></text>
</g>
<rect x="1069.5" y="980.3" width="69.0" height="77.5" fill="rgb(176,171,236)"/>
<g fill="#fff" stroke="#fff" stroke-width="0.65">
<text x="1074.0" y="996.3" font-size="18">113</text>
<text x="1105.0" y="1017.5" font-size="24" text-anchor="middle">Cs<tspan font-size="17" dy="7.5">15</tspan></text>
<text x="1105.0" y="1044.3" font-size="24" text-anchor="middle">MA<tspan font-size="17" dy="7.5">5</tspan></text>
</g>
<rect x="1144.0" y="980.3" width="69.0" height="77.5" fill="rgb(82,77,170)"/>
<g fill="#fff" stroke="#fff" stroke-width="0.65">
<text x="1148.5" y="996.3" font-size="18">114</text>
<text x="1179.5" y="1017.5" font-size="24" text-anchor="middle">Cs<tspan font-size="17" dy="7.5">15</tspan></text>
<text x="1179.5" y="1044.3" font-size="24" text-anchor="middle">MA<tspan font-size="17" dy="7.5">5</tspan></text>
</g>
<rect x="1218.5" y="980.3" width="69.0" height="77.5" fill="rgb(82,77,170)"/>
<g fill="#fff" stroke="#fff" stroke-width="0.65">
<text x="1223.0" y="996.3" font-size="18">115</text>
<text x="1254.0" y="1017.5" font-size="24" text-anchor="middle">Cs<tspan font-size="17" dy="7.5">15</tspan></text>
<text x="1254.0" y="1044.3" font-size="24" text-anchor="middle">MA<tspan font-size="17" dy="7.5">5</tspan></text>
</g>
<rect x="1293.0" y="980.3" width="69.0" height="77.5" fill="rgb(241,130,135)"/>
<g fill="#111" stroke="#111" stroke-width="0.65">
<text x="1297.5" y="996.3" font-size="18">116</text>
<text x="1328.5" y="1017.5" font-size="24" text-anchor="middle">Cs<tspan font-size="17" dy="7.5">5</tspan></text>
<text x="1328.5" y="1044.3" font-size="24" text-anchor="middle">MA<tspan font-size="17" dy="7.5">25</tspan></text>
</g>
<rect x="1367.5" y="980.3" width="69.0" height="77.5" fill="rgb(224,74,90)"/>
<g fill="#fff" stroke="#fff" stroke-width="0.65">
<text x="1372.0" y="996.3" font-size="18">117</text>
<text x="1403.0" y="1017.5" font-size="24" text-anchor="middle">Cs<tspan font-size="17" dy="7.5">5</tspan></text>
<text x="1403.0" y="1044.3" font-size="24" text-anchor="middle">MA<tspan font-size="17" dy="7.5">25</tspan></text>
</g>
<rect x="1442.0" y="980.3" width="69.0" height="77.5" fill="rgb(246,214,218)"/>
<g fill="#111" stroke="#111" stroke-width="0.65">
<text x="1446.5" y="996.3" font-size="18">118</text>
<text x="1477.5" y="1017.5" font-size="24" text-anchor="middle">Cs<tspan font-size="17" dy="7.5">5</tspan></text>
<text x="1477.5" y="1044.3" font-size="24" text-anchor="middle">MA<tspan font-size="17" dy="7.5">25</tspan></text>
</g>
<rect x="1516.5" y="980.3" width="69.0" height="77.5" fill="rgb(246,214,218)"/>
<g fill="#111" stroke="#111" stroke-width="0.65">
<text x="1521.0" y="996.3" font-size="18">119</text>
<text x="1552.0" y="1017.5" font-size="24" text-anchor="middle">Cs<tspan font-size="17" dy="7.5">5</tspan></text>
<text x="1552.0" y="1044.3" font-size="24" text-anchor="middle">MA<tspan font-size="17" dy="7.5">25</tspan></text>
</g>
<rect x="1591.0" y="980.3" width="67.0" height="77.5" fill="rgb(82,77,170)"/>
<g fill="#fff" stroke="#fff" stroke-width="0.65">
<text x="1595.5" y="996.3" font-size="18">120</text>
<text x="1626.5" y="1017.5" font-size="24" text-anchor="middle">Cs<tspan font-size="17" dy="7.5">5</tspan></text>
<text x="1626.5" y="1044.3" font-size="24" text-anchor="middle">MA<tspan font-size="17" dy="7.5">25</tspan></text>
</g>
<rect x="920.5" y="1063.7" width="69.0" height="77.5" fill="rgb(228,223,243)"/>
<g fill="#111" stroke="#111" stroke-width="0.65">
<text x="925.0" y="1079.7" font-size="18">121</text>
<text x="956.0" y="1100.9" font-size="24" text-anchor="middle">Cs<tspan font-size="17" dy="7.5">10</tspan></text>
<text x="956.0" y="1127.7" font-size="24" text-anchor="middle">MA<tspan font-size="17" dy="7.5">20</tspan></text>
</g>
<rect x="995.0" y="1063.7" width="69.0" height="77.5" fill="rgb(224,74,90)"/>
<g fill="#fff" stroke="#fff" stroke-width="0.65">
<text x="999.5" y="1079.7" font-size="18">122</text>
<text x="1030.5" y="1100.9" font-size="24" text-anchor="middle">Cs<tspan font-size="17" dy="7.5">10</tspan></text>
<text x="1030.5" y="1127.7" font-size="24" text-anchor="middle">MA<tspan font-size="17" dy="7.5">20</tspan></text>
</g>
<rect x="1069.5" y="1063.7" width="69.0" height="77.5" fill="rgb(245,180,185)"/>
<g fill="#111" stroke="#111" stroke-width="0.65">
<text x="1074.0" y="1079.7" font-size="18">123</text>
<text x="1105.0" y="1100.9" font-size="24" text-anchor="middle">Cs<tspan font-size="17" dy="7.5">10</tspan></text>
<text x="1105.0" y="1127.7" font-size="24" text-anchor="middle">MA<tspan font-size="17" dy="7.5">20</tspan></text>
</g>
<rect x="1144.0" y="1063.7" width="69.0" height="77.5" fill="rgb(82,77,170)"/>
<g fill="#fff" stroke="#fff" stroke-width="0.65">
<text x="1148.5" y="1079.7" font-size="18">124</text>
<text x="1179.5" y="1100.9" font-size="24" text-anchor="middle">Cs<tspan font-size="17" dy="7.5">10</tspan></text>
<text x="1179.5" y="1127.7" font-size="24" text-anchor="middle">MA<tspan font-size="17" dy="7.5">20</tspan></text>
</g>
<rect x="1218.5" y="1063.7" width="69.0" height="77.5" fill="rgb(82,77,170)"/>
<g fill="#fff" stroke="#fff" stroke-width="0.65">
<text x="1223.0" y="1079.7" font-size="18">125</text>
<text x="1254.0" y="1100.9" font-size="24" text-anchor="middle">Cs<tspan font-size="17" dy="7.5">10</tspan></text>
<text x="1254.0" y="1127.7" font-size="24" text-anchor="middle">MA<tspan font-size="17" dy="7.5">20</tspan></text>
</g>
<rect x="1293.0" y="1063.7" width="69.0" height="77.5" fill="rgb(247,233,237)"/>
<g fill="#111" stroke="#111" stroke-width="0.65">
<text x="1297.5" y="1079.7" font-size="18">126</text>
<text x="1328.5" y="1100.9" font-size="24" text-anchor="middle">Cs<tspan font-size="17" dy="7.5">20</tspan></text>
<text x="1328.5" y="1127.7" font-size="24" text-anchor="middle">MA<tspan font-size="17" dy="7.5">10</tspan></text>
</g>
<rect x="1367.5" y="1063.7" width="69.0" height="77.5" fill="rgb(241,234,241)"/>
<g fill="#111" stroke="#111" stroke-width="0.65">
<text x="1372.0" y="1079.7" font-size="18">127</text>
<text x="1403.0" y="1100.9" font-size="24" text-anchor="middle">Cs<tspan font-size="17" dy="7.5">20</tspan></text>
<text x="1403.0" y="1127.7" font-size="24" text-anchor="middle">MA<tspan font-size="17" dy="7.5">10</tspan></text>
</g>
<rect x="1442.0" y="1063.7" width="69.0" height="77.5" fill="rgb(176,171,236)"/>
<g fill="#fff" stroke="#fff" stroke-width="0.65">
<text x="1446.5" y="1079.7" font-size="18">128</text>
<text x="1477.5" y="1100.9" font-size="24" text-anchor="middle">Cs<tspan font-size="17" dy="7.5">20</tspan></text>
<text x="1477.5" y="1127.7" font-size="24" text-anchor="middle">MA<tspan font-size="17" dy="7.5">10</tspan></text>
</g>
<rect x="1516.5" y="1063.7" width="69.0" height="77.5" fill="rgb(82,77,170)"/>
<g fill="#fff" stroke="#fff" stroke-width="0.65">
<text x="1521.0" y="1079.7" font-size="18">129</text>
<text x="1552.0" y="1100.9" font-size="24" text-anchor="middle">Cs<tspan font-size="17" dy="7.5">20</tspan></text>
<text x="1552.0" y="1127.7" font-size="24" text-anchor="middle">MA<tspan font-size="17" dy="7.5">10</tspan></text>
</g>
<rect x="1591.0" y="1063.7" width="67.0" height="77.5" fill="rgb(82,77,170)"/>
<g fill="#fff" stroke="#fff" stroke-width="0.65">
<text x="1595.5" y="1079.7" font-size="18">130</text>
<text x="1626.5" y="1100.9" font-size="24" text-anchor="middle">Cs<tspan font-size="17" dy="7.5">20</tspan></text>
<text x="1626.5" y="1127.7" font-size="24" text-anchor="middle">MA<tspan font-size="17" dy="7.5">10</tspan></text>
</g>
<rect x="920.5" y="1147.0" width="69.0" height="77.5" fill="rgb(224,74,90)"/>
<g fill="#fff" stroke="#fff" stroke-width="0.65">
<text x="925.0" y="1163.0" font-size="18">131</text>
<text x="956.0" y="1184.2" font-size="24" text-anchor="middle">Cs<tspan font-size="17" dy="7.5">5</tspan></text>
<text x="956.0" y="1211.0" font-size="24" text-anchor="middle">MA<tspan font-size="17" dy="7.5">5</tspan></text>
</g>
<rect x="995.0" y="1147.0" width="69.0" height="77.5" fill="rgb(224,74,90)"/>
<g fill="#fff" stroke="#fff" stroke-width="0.65">
<text x="999.5" y="1163.0" font-size="18">132</text>
<text x="1030.5" y="1184.2" font-size="24" text-anchor="middle">Cs<tspan font-size="17" dy="7.5">5</tspan></text>
<text x="1030.5" y="1211.0" font-size="24" text-anchor="middle">MA<tspan font-size="17" dy="7.5">5</tspan></text>
</g>
<rect x="1069.5" y="1147.0" width="69.0" height="77.5" fill="rgb(241,234,241)"/>
<g fill="#111" stroke="#111" stroke-width="0.65">
<text x="1074.0" y="1163.0" font-size="18">133</text>
<text x="1105.0" y="1184.2" font-size="24" text-anchor="middle">Cs<tspan font-size="17" dy="7.5">5</tspan></text>
<text x="1105.0" y="1211.0" font-size="24" text-anchor="middle">MA<tspan font-size="17" dy="7.5">5</tspan></text>
</g>
<rect x="1144.0" y="1147.0" width="69.0" height="77.5" fill="rgb(82,77,170)"/>
<g fill="#fff" stroke="#fff" stroke-width="0.65">
<text x="1148.5" y="1163.0" font-size="18">134</text>
<text x="1179.5" y="1184.2" font-size="24" text-anchor="middle">Cs<tspan font-size="17" dy="7.5">5</tspan></text>
<text x="1179.5" y="1211.0" font-size="24" text-anchor="middle">MA<tspan font-size="17" dy="7.5">5</tspan></text>
</g>
<rect x="1218.5" y="1147.0" width="69.0" height="77.5" fill="rgb(82,77,170)"/>
<g fill="#fff" stroke="#fff" stroke-width="0.65">
<text x="1223.0" y="1163.0" font-size="18">135</text>
<text x="1254.0" y="1184.2" font-size="24" text-anchor="middle">Cs<tspan font-size="17" dy="7.5">5</tspan></text>
<text x="1254.0" y="1211.0" font-size="24" text-anchor="middle">MA<tspan font-size="17" dy="7.5">5</tspan></text>
</g>
<rect x="1293.0" y="1147.0" width="69.0" height="77.5" fill="rgb(224,74,90)"/>
<g fill="#fff" stroke="#fff" stroke-width="0.65">
<text x="1297.5" y="1163.0" font-size="18">136</text>
<text x="1328.5" y="1184.2" font-size="24" text-anchor="middle">Cs<tspan font-size="17" dy="7.5">5</tspan></text>
<text x="1328.5" y="1211.0" font-size="24" text-anchor="middle">MA<tspan font-size="17" dy="7.5">10</tspan></text>
</g>
<rect x="1367.5" y="1147.0" width="69.0" height="77.5" fill="rgb(224,74,90)"/>
<g fill="#fff" stroke="#fff" stroke-width="0.65">
<text x="1372.0" y="1163.0" font-size="18">137</text>
<text x="1403.0" y="1184.2" font-size="24" text-anchor="middle">Cs<tspan font-size="17" dy="7.5">5</tspan></text>
<text x="1403.0" y="1211.0" font-size="24" text-anchor="middle">MA<tspan font-size="17" dy="7.5">10</tspan></text>
</g>
<rect x="1442.0" y="1147.0" width="69.0" height="77.5" fill="rgb(146,141,236)"/>
<g fill="#fff" stroke="#fff" stroke-width="0.65">
<text x="1446.5" y="1163.0" font-size="18">138</text>
<text x="1477.5" y="1184.2" font-size="24" text-anchor="middle">Cs<tspan font-size="17" dy="7.5">5</tspan></text>
<text x="1477.5" y="1211.0" font-size="24" text-anchor="middle">MA<tspan font-size="17" dy="7.5">10</tspan></text>
</g>
<rect x="1516.5" y="1147.0" width="69.0" height="77.5" fill="rgb(146,141,236)"/>
<g fill="#fff" stroke="#fff" stroke-width="0.65">
<text x="1521.0" y="1163.0" font-size="18">139</text>
<text x="1552.0" y="1184.2" font-size="24" text-anchor="middle">Cs<tspan font-size="17" dy="7.5">5</tspan></text>
<text x="1552.0" y="1211.0" font-size="24" text-anchor="middle">MA<tspan font-size="17" dy="7.5">10</tspan></text>
</g>
<rect x="1591.0" y="1147.0" width="67.0" height="77.5" fill="rgb(82,77,170)"/>
<g fill="#fff" stroke="#fff" stroke-width="0.65">
<text x="1595.5" y="1163.0" font-size="18">140</text>
<text x="1626.5" y="1184.2" font-size="24" text-anchor="middle">Cs<tspan font-size="17" dy="7.5">5</tspan></text>
<text x="1626.5" y="1211.0" font-size="24" text-anchor="middle">MA<tspan font-size="17" dy="7.5">10</tspan></text>
</g>
<rect x="920.5" y="1230.4" width="69.0" height="77.5" fill="rgb(224,74,90)"/>
<g fill="#fff" stroke="#fff" stroke-width="0.65">
<text x="925.0" y="1246.4" font-size="18">141</text>
<text x="956.0" y="1267.6" font-size="24" text-anchor="middle">Cs<tspan font-size="17" dy="7.5">10</tspan></text>
<text x="956.0" y="1294.4" font-size="24" text-anchor="middle">MA<tspan font-size="17" dy="7.5">5</tspan></text>
</g>
<rect x="995.0" y="1230.4" width="69.0" height="77.5" fill="rgb(224,74,90)"/>
<g fill="#fff" stroke="#fff" stroke-width="0.65">
<text x="999.5" y="1246.4" font-size="18">142</text>
<text x="1030.5" y="1267.6" font-size="24" text-anchor="middle">Cs<tspan font-size="17" dy="7.5">10</tspan></text>
<text x="1030.5" y="1294.4" font-size="24" text-anchor="middle">MA<tspan font-size="17" dy="7.5">5</tspan></text>
</g>
<rect x="1069.5" y="1230.4" width="69.0" height="77.5" fill="rgb(176,171,236)"/>
<g fill="#fff" stroke="#fff" stroke-width="0.65">
<text x="1074.0" y="1246.4" font-size="18">143</text>
<text x="1105.0" y="1267.6" font-size="24" text-anchor="middle">Cs<tspan font-size="17" dy="7.5">10</tspan></text>
<text x="1105.0" y="1294.4" font-size="24" text-anchor="middle">MA<tspan font-size="17" dy="7.5">5</tspan></text>
</g>
<rect x="1144.0" y="1230.4" width="69.0" height="77.5" fill="rgb(100,98,232)"/>
<g fill="#fff" stroke="#fff" stroke-width="0.65">
<text x="1148.5" y="1246.4" font-size="18">144</text>
<text x="1179.5" y="1267.6" font-size="24" text-anchor="middle">Cs<tspan font-size="17" dy="7.5">10</tspan></text>
<text x="1179.5" y="1294.4" font-size="24" text-anchor="middle">MA<tspan font-size="17" dy="7.5">5</tspan></text>
</g>
<rect x="1218.5" y="1230.4" width="69.0" height="77.5" fill="rgb(82,77,170)"/>
<g fill="#fff" stroke="#fff" stroke-width="0.65">
<text x="1223.0" y="1246.4" font-size="18">145</text>
<text x="1254.0" y="1267.6" font-size="24" text-anchor="middle">Cs<tspan font-size="17" dy="7.5">10</tspan></text>
<text x="1254.0" y="1294.4" font-size="24" text-anchor="middle">MA<tspan font-size="17" dy="7.5">5</tspan></text>
</g>
<rect x="1293.0" y="1230.4" width="69.0" height="77.5" fill="rgb(245,180,185)"/>
<g fill="#111" stroke="#111" stroke-width="0.65">
<text x="1297.5" y="1246.4" font-size="18">146</text>
<text x="1328.5" y="1267.6" font-size="24" text-anchor="middle">Cs<tspan font-size="17" dy="7.5">5</tspan></text>
<text x="1328.5" y="1294.4" font-size="24" text-anchor="middle">MA<tspan font-size="17" dy="7.5">20</tspan></text>
</g>
<rect x="1367.5" y="1230.4" width="69.0" height="77.5" fill="rgb(224,74,90)"/>
<g fill="#fff" stroke="#fff" stroke-width="0.65">
<text x="1372.0" y="1246.4" font-size="18">147</text>
<text x="1403.0" y="1267.6" font-size="24" text-anchor="middle">Cs<tspan font-size="17" dy="7.5">5</tspan></text>
<text x="1403.0" y="1294.4" font-size="24" text-anchor="middle">MA<tspan font-size="17" dy="7.5">20</tspan></text>
</g>
<rect x="1442.0" y="1230.4" width="69.0" height="77.5" fill="rgb(176,171,236)"/>
<g fill="#fff" stroke="#fff" stroke-width="0.65">
<text x="1446.5" y="1246.4" font-size="18">148</text>
<text x="1477.5" y="1267.6" font-size="24" text-anchor="middle">Cs<tspan font-size="17" dy="7.5">5</tspan></text>
<text x="1477.5" y="1294.4" font-size="24" text-anchor="middle">MA<tspan font-size="17" dy="7.5">20</tspan></text>
</g>
<rect x="1516.5" y="1230.4" width="69.0" height="77.5" fill="rgb(74,72,240)"/>
<g fill="#fff" stroke="#fff" stroke-width="0.65">
<text x="1521.0" y="1246.4" font-size="18">149</text>
<text x="1552.0" y="1267.6" font-size="24" text-anchor="middle">Cs<tspan font-size="17" dy="7.5">5</tspan></text>
<text x="1552.0" y="1294.4" font-size="24" text-anchor="middle">MA<tspan font-size="17" dy="7.5">20</tspan></text>
</g>
<rect x="1591.0" y="1230.4" width="67.0" height="77.5" fill="rgb(82,77,170)"/>
<g fill="#fff" stroke="#fff" stroke-width="0.65">
<text x="1595.5" y="1246.4" font-size="18">150</text>
<text x="1626.5" y="1267.6" font-size="24" text-anchor="middle">Cs<tspan font-size="17" dy="7.5">5</tspan></text>
<text x="1626.5" y="1294.4" font-size="24" text-anchor="middle">MA<tspan font-size="17" dy="7.5">20</tspan></text>
</g>
<rect x="920.5" y="1313.8" width="69.0" height="77.5" fill="rgb(247,233,237)"/>
<g fill="#111" stroke="#111" stroke-width="0.65">
<text x="925.0" y="1329.8" font-size="18">151</text>
<text x="956.0" y="1351.0" font-size="24" text-anchor="middle">Cs<tspan font-size="17" dy="7.5">10</tspan></text>
<text x="956.0" y="1377.8" font-size="24" text-anchor="middle">MA<tspan font-size="17" dy="7.5">15</tspan></text>
</g>
<rect x="995.0" y="1313.8" width="69.0" height="77.5" fill="rgb(224,74,90)"/>
<g fill="#fff" stroke="#fff" stroke-width="0.65">
<text x="999.5" y="1329.8" font-size="18">152</text>
<text x="1030.5" y="1351.0" font-size="24" text-anchor="middle">Cs<tspan font-size="17" dy="7.5">10</tspan></text>
<text x="1030.5" y="1377.8" font-size="24" text-anchor="middle">MA<tspan font-size="17" dy="7.5">15</tspan></text>
</g>
<rect x="1069.5" y="1313.8" width="69.0" height="77.5" fill="rgb(224,74,90)"/>
<g fill="#fff" stroke="#fff" stroke-width="0.65">
<text x="1074.0" y="1329.8" font-size="18">153</text>
<text x="1105.0" y="1351.0" font-size="24" text-anchor="middle">Cs<tspan font-size="17" dy="7.5">10</tspan></text>
<text x="1105.0" y="1377.8" font-size="24" text-anchor="middle">MA<tspan font-size="17" dy="7.5">15</tspan></text>
</g>
<rect x="1144.0" y="1313.8" width="69.0" height="77.5" fill="rgb(176,171,236)"/>
<g fill="#fff" stroke="#fff" stroke-width="0.65">
<text x="1148.5" y="1329.8" font-size="18">154</text>
<text x="1179.5" y="1351.0" font-size="24" text-anchor="middle">Cs<tspan font-size="17" dy="7.5">10</tspan></text>
<text x="1179.5" y="1377.8" font-size="24" text-anchor="middle">MA<tspan font-size="17" dy="7.5">15</tspan></text>
</g>
<rect x="1218.5" y="1313.8" width="69.0" height="77.5" fill="rgb(82,77,170)"/>
<g fill="#fff" stroke="#fff" stroke-width="0.65">
<text x="1223.0" y="1329.8" font-size="18">155</text>
<text x="1254.0" y="1351.0" font-size="24" text-anchor="middle">Cs<tspan font-size="17" dy="7.5">10</tspan></text>
<text x="1254.0" y="1377.8" font-size="24" text-anchor="middle">MA<tspan font-size="17" dy="7.5">15</tspan></text>
</g>
<rect x="1293.0" y="1313.8" width="69.0" height="77.5" fill="rgb(224,74,90)"/>
<g fill="#fff" stroke="#fff" stroke-width="0.65">
<text x="1297.5" y="1329.8" font-size="18">156</text>
<text x="1328.5" y="1351.0" font-size="24" text-anchor="middle">Cs<tspan font-size="17" dy="7.5">5</tspan></text>
<text x="1328.5" y="1377.8" font-size="24" text-anchor="middle">MA<tspan font-size="17" dy="7.5">10</tspan></text>
</g>
<rect x="1367.5" y="1313.8" width="69.0" height="77.5" fill="rgb(224,74,90)"/>
<g fill="#fff" stroke="#fff" stroke-width="0.65">
<text x="1372.0" y="1329.8" font-size="18">157</text>
<text x="1403.0" y="1351.0" font-size="24" text-anchor="middle">Cs<tspan font-size="17" dy="7.5">5</tspan></text>
<text x="1403.0" y="1377.8" font-size="24" text-anchor="middle">MA<tspan font-size="17" dy="7.5">10</tspan></text>
</g>
<rect x="1442.0" y="1313.8" width="69.0" height="77.5" fill="rgb(224,74,90)"/>
<g fill="#fff" stroke="#fff" stroke-width="0.65">
<text x="1446.5" y="1329.8" font-size="18">158</text>
<text x="1477.5" y="1351.0" font-size="24" text-anchor="middle">Cs<tspan font-size="17" dy="7.5">5</tspan></text>
<text x="1477.5" y="1377.8" font-size="24" text-anchor="middle">MA<tspan font-size="17" dy="7.5">10</tspan></text>
</g>
<rect x="1516.5" y="1313.8" width="69.0" height="77.5" fill="rgb(228,223,243)"/>
<g fill="#111" stroke="#111" stroke-width="0.65">
<text x="1521.0" y="1329.8" font-size="18">159</text>
<text x="1552.0" y="1351.0" font-size="24" text-anchor="middle">Cs<tspan font-size="17" dy="7.5">5</tspan></text>
<text x="1552.0" y="1377.8" font-size="24" text-anchor="middle">MA<tspan font-size="17" dy="7.5">10</tspan></text>
</g>
<rect x="1591.0" y="1313.8" width="67.0" height="77.5" fill="rgb(82,77,170)"/>
<g fill="#fff" stroke="#fff" stroke-width="0.65">
<text x="1595.5" y="1329.8" font-size="18">160</text>
<text x="1626.5" y="1351.0" font-size="24" text-anchor="middle">Cs<tspan font-size="17" dy="7.5">5</tspan></text>
<text x="1626.5" y="1377.8" font-size="24" text-anchor="middle">MA<tspan font-size="17" dy="7.5">10</tspan></text>
</g>
<text x="1275" y="25.8" font-size="19.5" text-anchor="middle" stroke="#111" stroke-width="0.4">Br (%)</text>
<text x="954.5" y="53" font-size="19.5" text-anchor="middle" stroke="#111" stroke-width="0.4">0</text>
<text x="1028.5" y="53" font-size="19.5" text-anchor="middle" stroke="#111" stroke-width="0.4">5</text>
<text x="1103.5" y="53" font-size="19.5" text-anchor="middle" stroke="#111" stroke-width="0.4">15</text>
<text x="1174.5" y="53" font-size="19.5" text-anchor="middle" stroke="#111" stroke-width="0.4">25</text>
<text x="1250.5" y="53" font-size="19.5" text-anchor="middle" stroke="#111" stroke-width="0.4">40</text>
<text x="1324.5" y="53" font-size="19.5" text-anchor="middle" stroke="#111" stroke-width="0.4">0</text>
<text x="1399.0" y="53" font-size="19.5" text-anchor="middle" stroke="#111" stroke-width="0.4">5</text>
<text x="1476.6" y="53" font-size="19.5" text-anchor="middle" stroke="#111" stroke-width="0.4">15</text>
<text x="1549.0" y="53" font-size="19.5" text-anchor="middle" stroke="#111" stroke-width="0.4">25</text>
<text x="1621.0" y="53" font-size="19.5" text-anchor="middle" stroke="#111" stroke-width="0.4">40</text>
<defs><filter id="cream" x="-20%" y="-5%" width="140%" height="110%"><feGaussianBlur stdDeviation="3"/></filter></defs>
<rect x="835" y="272" width="68" height="318" fill="#fcfcee" filter="url(#cream)"/>
<rect x="835" y="791" width="68" height="297" fill="#fcfcee" filter="url(#cream)"/>
<rect x="835" y="1183" width="68" height="190" fill="#fcfcee" filter="url(#cream)"/>
<path d="M898.0 171.0 L875.8 171.8 Q870.8 172.2 870.8 177.0 L870.8 269.0" stroke="#2a2a2a" stroke-width="2.6" fill="none" stroke-linejoin="round"/>
<path d="M870.8 597.0 L870.8 718.0 Q870.8 722.5 875.8 723.0 L898.0 723.6" stroke="#2a2a2a" stroke-width="2.6" fill="none" stroke-linejoin="round"/>
<path d="M898.0 749.0 L875.8 749.8 Q870.8 750.2 870.8 755.0 L870.8 788.0" stroke="#2a2a2a" stroke-width="2.6" fill="none" stroke-linejoin="round"/>
<path d="M870.8 1098.0 L870.8 1134.5 Q870.8 1139.0 875.8 1139.5 L898.0 1140.1" stroke="#2a2a2a" stroke-width="2.6" fill="none" stroke-linejoin="round"/>
<path d="M898.0 1151.0 L875.8 1151.8 Q870.8 1152.2 870.8 1157.0 L870.8 1169.0" stroke="#2a2a2a" stroke-width="2.6" fill="none" stroke-linejoin="round"/>
<path d="M870.8 1377.0 L870.8 1390.5 Q870.8 1395.0 875.8 1395.5 L898.0 1396.1" stroke="#2a2a2a" stroke-width="2.6" fill="none" stroke-linejoin="round"/>
<text transform="translate(868.5 439.0) rotate(-90)" font-size="18.6" text-anchor="middle" textLength="177.0" lengthAdjust="spacingAndGlyphs" stroke="#111" stroke-width="0.3">FAPb(I<tspan font-size="13" dy="3.5">1−<tspan font-style="italic">x</tspan></tspan><tspan dy="-3.5">Br</tspan><tspan font-size="13" dy="3.5" font-style="italic">x</tspan><tspan dy="-3.5">)</tspan><tspan font-size="13" dy="3.5">3</tspan><tspan dy="-3.5">-based</tspan></text>
<text transform="translate(892.4 439.2) rotate(-90)" font-size="18.6" text-anchor="middle" textLength="214.0" lengthAdjust="spacingAndGlyphs" stroke="#111" stroke-width="0.3">double-cation perovskites</text>
<text transform="translate(869.0 937.2) rotate(-90)" font-size="18.6" text-anchor="middle" textLength="175.0" lengthAdjust="spacingAndGlyphs" stroke="#111" stroke-width="0.3">FAPb(I<tspan font-size="13" dy="3.5">1−<tspan font-style="italic">x</tspan></tspan><tspan dy="-3.5">Br</tspan><tspan font-size="13" dy="3.5" font-style="italic">x</tspan><tspan dy="-3.5">)</tspan><tspan font-size="13" dy="3.5">3</tspan><tspan dy="-3.5">-based</tspan></text>
<text transform="translate(892.8 936.4) rotate(-90)" font-size="18.6" text-anchor="middle" textLength="197.0" lengthAdjust="spacingAndGlyphs" stroke="#111" stroke-width="0.3">triple-cation perovskites</text>
<text transform="translate(868.5 1270.7) rotate(-90)" font-size="18.6" text-anchor="middle" textLength="127.6" lengthAdjust="spacingAndGlyphs" stroke="#111" stroke-width="0.3">Rb/K–CsMAFA</text>
<text transform="translate(891.5 1271.4) rotate(-90)" font-size="18.6" text-anchor="middle" textLength="139.7" lengthAdjust="spacingAndGlyphs" stroke="#111" stroke-width="0.3">quadruple-cation</text>
<defs><linearGradient id="cb" x1="0" y1="0" x2="0" y2="1"><stop offset="0" stop-color="#ff0000"/><stop offset="0.5" stop-color="#ffffff"/><stop offset="0.985" stop-color="#0000ff"/><stop offset="1" stop-color="#0000d8"/></linearGradient></defs>
<rect x="1683" y="61.5" width="35" height="1339" fill="url(#cb)"/>
<text x="1733" y="70.5" font-size="18.5" stroke="#111" stroke-width="0.3">1.1 × 10<tspan font-size="12.5" dy="-8.5">4</tspan></text>
<text x="1733" y="147.5" font-size="18.5" stroke="#111" stroke-width="0.3">1.0 × 10<tspan font-size="12.5" dy="-8.5">4</tspan></text>
<text x="1733" y="286.5" font-size="18.5" stroke="#111" stroke-width="0.3">9.2 × 10<tspan font-size="12.5" dy="-8.5">3</tspan></text>
<text x="1733" y="426.5" font-size="18.5" stroke="#111" stroke-width="0.3">8.1 × 10<tspan font-size="12.5" dy="-8.5">3</tspan></text>
<text x="1733" y="566.5" font-size="18.5" stroke="#111" stroke-width="0.3">7.0 × 10<tspan font-size="12.5" dy="-8.5">3</tspan></text>
<text x="1733" y="706.5" font-size="18.5" stroke="#111" stroke-width="0.3">5.9 × 10<tspan font-size="12.5" dy="-8.5">3</tspan></text>
<text x="1733" y="846.5" font-size="18.5" stroke="#111" stroke-width="0.3">4.8 × 10<tspan font-size="12.5" dy="-8.5">3</tspan></text>
<text x="1733" y="986.5" font-size="18.5" stroke="#111" stroke-width="0.3">3.6 × 10<tspan font-size="12.5" dy="-8.5">3</tspan></text>
<text x="1733" y="1126.5" font-size="18.5" stroke="#111" stroke-width="0.3">2.5 × 10<tspan font-size="12.5" dy="-8.5">3</tspan></text>
<text x="1733" y="1266.5" font-size="18.5" stroke="#111" stroke-width="0.3">1.4 × 10<tspan font-size="12.5" dy="-8.5">3</tspan></text>
<text x="1733" y="1404.5" font-size="18.5" stroke="#111" stroke-width="0.3">3.0 × 10<tspan font-size="12.5" dy="-8.5">2</tspan></text>
<text x="1678" y="37.7" font-size="19" stroke="#111" stroke-width="0.3"><tspan font-style="italic">T</tspan><tspan font-size="17" dy="7.5">80</tspan><tspan dy="-7.5"> (h)</tspan></text>
<rect x="164.9" y="811.2" width="547.7" height="499.0" fill="none" stroke="#555" stroke-width="2"/>
<defs><clipPath id="pc"><rect x="164.9" y="811.2" width="547.7" height="499.0"/></clipPath></defs>
<g clip-path="url(#pc)">
<defs><radialGradient id="pg0" cx="0.45" cy="0.42" r="0.55"><stop offset="0" stop-color="rgb(245,245,245)"/><stop offset="0.35" stop-color="rgb(245,245,245)"/><stop offset="0.8" stop-color="rgb(200,200,200)"/><stop offset="1" stop-color="rgb(178,178,178)"/></radialGradient><radialGradient id="pg1" cx="0.45" cy="0.42" r="0.55"><stop offset="0" stop-color="rgb(255,200,235)"/><stop offset="0.35" stop-color="rgb(255,200,235)"/><stop offset="0.8" stop-color="rgb(242,72,168)"/><stop offset="1" stop-color="rgb(232,48,150)"/></radialGradient><radialGradient id="pg2" cx="0.45" cy="0.42" r="0.55"><stop offset="0" stop-color="rgb(232,236,255)"/><stop offset="0.35" stop-color="rgb(232,236,255)"/><stop offset="0.8" stop-color="rgb(165,172,246)"/><stop offset="1" stop-color="rgb(140,150,240)"/></radialGradient><radialGradient id="pg3" cx="0.45" cy="0.42" r="0.55"><stop offset="0" stop-color="rgb(205,212,255)"/><stop offset="0.35" stop-color="rgb(205,212,255)"/><stop offset="0.8" stop-color="rgb(88,108,240)"/><stop offset="1" stop-color="rgb(70,90,232)"/></radialGradient><radialGradient id="pg4" cx="0.45" cy="0.42" r="0.55"><stop offset="0" stop-color="rgb(236,205,255)"/><stop offset="0.35" stop-color="rgb(236,205,255)"/><stop offset="0.8" stop-color="rgb(176,88,242)"/><stop offset="1" stop-color="rgb(158,66,238)"/></radialGradient></defs>
<g fill="url(#pg0)" stroke="rgb(178,178,178)" stroke-width="0.8" stroke-opacity="0.7">
<circle cx="219.5" cy="862.0" r="4.3"/>
<circle cx="219.0" cy="937.2" r="4.3"/>
<circle cx="223.7" cy="929.8" r="4.3"/>
<circle cx="219.6" cy="939.4" r="4.3"/>
<circle cx="216.3" cy="933.4" r="4.3"/>
<circle cx="220.8" cy="955.6" r="4.3"/>
<circle cx="215.4" cy="917.0" r="4.3"/>
<circle cx="215.4" cy="957.0" r="4.3"/>
<circle cx="221.4" cy="896.3" r="4.3"/>
<circle cx="224.3" cy="969.2" r="4.3"/>
<circle cx="221.0" cy="941.6" r="4.3"/>
<circle cx="216.1" cy="894.2" r="4.3"/>
<circle cx="219.8" cy="897.7" r="4.3"/>
<circle cx="216.4" cy="912.1" r="4.3"/>
<circle cx="214.8" cy="929.7" r="4.3"/>
<circle cx="192.9" cy="983.6" r="4.3"/>
<circle cx="193.7" cy="970.3" r="4.3"/>
<circle cx="193.5" cy="971.7" r="4.3"/>
<circle cx="193.1" cy="946.4" r="4.3"/>
<circle cx="198.5" cy="993.7" r="4.3"/>
<circle cx="196.9" cy="974.7" r="4.3"/>
<circle cx="191.7" cy="943.2" r="4.3"/>
<circle cx="191.4" cy="932.6" r="4.3"/>
<circle cx="196.2" cy="954.4" r="4.3"/>
<circle cx="197.0" cy="953.5" r="4.3"/>
<circle cx="198.1" cy="983.9" r="4.3"/>
<circle cx="188.5" cy="941.8" r="4.3"/>
<circle cx="249.6" cy="959.0" r="4.3"/>
<circle cx="250.3" cy="954.2" r="4.3"/>
<circle cx="241.2" cy="969.5" r="4.3"/>
<circle cx="248.3" cy="945.8" r="4.3"/>
<circle cx="241.4" cy="950.0" r="4.3"/>
<circle cx="250.1" cy="978.0" r="4.3"/>
<circle cx="241.7" cy="944.3" r="4.3"/>
<circle cx="241.5" cy="932.0" r="4.3"/>
<circle cx="248.5" cy="939.7" r="4.3"/>
<circle cx="246.1" cy="957.5" r="4.3"/>
<circle cx="242.4" cy="976.3" r="4.3"/>
<circle cx="241.8" cy="970.5" r="4.3"/>
<circle cx="199.8" cy="1022.6" r="4.3"/>
<circle cx="207.6" cy="1079.9" r="4.3"/>
<circle cx="207.4" cy="1022.4" r="4.3"/>
<circle cx="213.9" cy="1064.3" r="4.3"/>
<circle cx="194.7" cy="1022.7" r="4.3"/>
<circle cx="207.2" cy="1033.9" r="4.3"/>
<circle cx="205.5" cy="1010.7" r="4.3"/>
<circle cx="225.4" cy="1060.3" r="4.3"/>
<circle cx="212.9" cy="1095.0" r="4.3"/>
<circle cx="219.7" cy="1086.1" r="4.3"/>
<circle cx="199.2" cy="1090.1" r="4.3"/>
<circle cx="238.4" cy="1020.4" r="4.3"/>
<circle cx="233.6" cy="1021.1" r="4.3"/>
<circle cx="246.4" cy="1060.5" r="4.3"/>
<circle cx="212.0" cy="1005.8" r="4.3"/>
<circle cx="244.9" cy="1070.3" r="4.3"/>
<circle cx="207.3" cy="1059.9" r="4.3"/>
<circle cx="205.7" cy="1071.9" r="4.3"/>
<circle cx="192.8" cy="1056.3" r="4.3"/>
<circle cx="239.3" cy="1029.2" r="4.3"/>
<circle cx="244.8" cy="1003.6" r="4.3"/>
<circle cx="206.4" cy="1007.9" r="4.3"/>
<circle cx="199.7" cy="1057.5" r="4.3"/>
<circle cx="199.7" cy="1088.4" r="4.3"/>
<circle cx="245.9" cy="1069.0" r="4.3"/>
<circle cx="225.1" cy="1005.4" r="4.3"/>
<circle cx="194.5" cy="1070.0" r="4.3"/>
<circle cx="244.4" cy="1063.7" r="4.3"/>
<circle cx="220.1" cy="1032.9" r="4.3"/>
<circle cx="244.5" cy="1055.0" r="4.3"/>
<circle cx="233.5" cy="1073.5" r="4.3"/>
<circle cx="233.2" cy="1090.8" r="4.3"/>
<circle cx="213.4" cy="1089.4" r="4.3"/>
<circle cx="238.8" cy="1078.7" r="4.3"/>
<circle cx="239.2" cy="1062.6" r="4.3"/>
<circle cx="213.2" cy="1061.1" r="4.3"/>
<circle cx="193.8" cy="1098.4" r="4.3"/>
<circle cx="239.5" cy="1039.7" r="4.3"/>
<circle cx="232.7" cy="1044.7" r="4.3"/>
<circle cx="238.0" cy="1074.8" r="4.3"/>
<circle cx="193.7" cy="1048.7" r="4.3"/>
<circle cx="207.0" cy="1050.2" r="4.3"/>
<circle cx="227.0" cy="1026.8" r="4.3"/>
<circle cx="193.0" cy="1067.8" r="4.3"/>
<circle cx="199.2" cy="1089.9" r="4.3"/>
<circle cx="225.9" cy="1088.5" r="4.3"/>
<circle cx="206.9" cy="1021.3" r="4.3"/>
<circle cx="213.7" cy="1090.7" r="4.3"/>
<circle cx="238.7" cy="1058.6" r="4.3"/>
<circle cx="205.6" cy="1050.2" r="4.3"/>
<circle cx="239.8" cy="1071.0" r="4.3"/>
<circle cx="245.0" cy="1018.4" r="4.3"/>
<circle cx="219.0" cy="1022.8" r="4.3"/>
<circle cx="213.3" cy="1049.9" r="4.3"/>
<circle cx="207.3" cy="1097.3" r="4.3"/>
<circle cx="218.5" cy="1005.1" r="4.3"/>
<circle cx="237.9" cy="1070.7" r="4.3"/>
<circle cx="225.5" cy="1078.8" r="4.3"/>
<circle cx="192.6" cy="1046.1" r="4.3"/>
<circle cx="194.3" cy="1025.0" r="4.3"/>
<circle cx="198.9" cy="1063.0" r="4.3"/>
<circle cx="219.8" cy="1065.5" r="4.3"/>
<circle cx="240.1" cy="1068.4" r="4.3"/>
<circle cx="199.9" cy="1019.3" r="4.3"/>
<circle cx="193.4" cy="1071.3" r="4.3"/>
<circle cx="199.5" cy="1035.5" r="4.3"/>
<circle cx="232.5" cy="1061.6" r="4.3"/>
<circle cx="232.2" cy="1078.8" r="4.3"/>
<circle cx="244.5" cy="1092.5" r="4.3"/>
<circle cx="231.6" cy="1046.0" r="4.3"/>
<circle cx="227.0" cy="1038.5" r="4.3"/>
<circle cx="226.9" cy="1079.3" r="4.3"/>
<circle cx="245.4" cy="1065.2" r="4.3"/>
<circle cx="200.5" cy="1081.4" r="4.3"/>
<circle cx="226.5" cy="1022.7" r="4.3"/>
<circle cx="246.7" cy="1096.8" r="4.3"/>
<circle cx="220.2" cy="1033.1" r="4.3"/>
<circle cx="246.4" cy="1035.8" r="4.3"/>
<circle cx="193.4" cy="1055.4" r="4.3"/>
<circle cx="232.5" cy="1004.8" r="4.3"/>
<circle cx="238.0" cy="1079.6" r="4.3"/>
<circle cx="199.6" cy="1078.4" r="4.3"/>
<circle cx="199.2" cy="1052.1" r="4.3"/>
<circle cx="233.3" cy="1068.9" r="4.3"/>
<circle cx="245.5" cy="1094.1" r="4.3"/>
<circle cx="192.8" cy="1053.1" r="4.3"/>
<circle cx="207.0" cy="1064.0" r="4.3"/>
<circle cx="220.3" cy="1056.3" r="4.3"/>
<circle cx="206.2" cy="1084.0" r="4.3"/>
<circle cx="244.8" cy="1084.5" r="4.3"/>
<circle cx="245.6" cy="1057.6" r="4.3"/>
<circle cx="200.1" cy="1050.8" r="4.3"/>
<circle cx="224.9" cy="1096.0" r="4.3"/>
<circle cx="219.3" cy="1079.7" r="4.3"/>
<circle cx="226.0" cy="1069.0" r="4.3"/>
<circle cx="193.6" cy="1042.1" r="4.3"/>
<circle cx="246.5" cy="1028.1" r="4.3"/>
<circle cx="218.6" cy="1044.1" r="4.3"/>
<circle cx="240.0" cy="1048.2" r="4.3"/>
<circle cx="205.8" cy="1061.9" r="4.3"/>
<circle cx="244.6" cy="1077.6" r="4.3"/>
<circle cx="192.8" cy="1024.0" r="4.3"/>
<circle cx="232.1" cy="1036.5" r="4.3"/>
<circle cx="225.1" cy="1072.9" r="4.3"/>
<circle cx="200.0" cy="1026.3" r="4.3"/>
<circle cx="200.1" cy="1044.4" r="4.3"/>
<circle cx="212.8" cy="1053.3" r="4.3"/>
<circle cx="199.3" cy="1063.2" r="4.3"/>
<circle cx="226.1" cy="1084.6" r="4.3"/>
<circle cx="226.9" cy="1024.6" r="4.3"/>
<circle cx="189.0" cy="1114.1" r="4.3"/>
<circle cx="189.3" cy="1109.2" r="4.3"/>
<circle cx="188.1" cy="1115.2" r="4.3"/>
<circle cx="208.7" cy="1116.0" r="4.3"/>
<circle cx="215.4" cy="1110.8" r="4.3"/>
<circle cx="208.9" cy="1114.4" r="4.3"/>
<circle cx="225.6" cy="1110.6" r="4.3"/>
<circle cx="230.2" cy="1112.5" r="4.3"/>
<circle cx="229.8" cy="1110.8" r="4.3"/>
<circle cx="250.3" cy="1112.9" r="4.3"/>
<circle cx="249.5" cy="1108.0" r="4.3"/>
<circle cx="250.9" cy="1115.1" r="4.3"/>
<circle cx="225.1" cy="1138.5" r="4.3"/>
<circle cx="226.0" cy="1138.7" r="4.3"/>
<circle cx="212.0" cy="1138.1" r="4.3"/>
</g>
<g fill="url(#pg1)" stroke="rgb(232,48,150)" stroke-width="0.8" stroke-opacity="0.7">
<circle cx="329.2" cy="850.3" r="4.3"/>
<circle cx="329.2" cy="854.4" r="4.3"/>
<circle cx="329.3" cy="901.3" r="4.3"/>
<circle cx="325.7" cy="877.4" r="4.3"/>
<circle cx="326.2" cy="918.1" r="4.3"/>
<circle cx="334.1" cy="923.5" r="4.3"/>
<circle cx="325.2" cy="869.8" r="4.3"/>
<circle cx="333.7" cy="894.6" r="4.3"/>
<circle cx="331.8" cy="886.3" r="4.3"/>
<circle cx="328.9" cy="897.9" r="4.3"/>
<circle cx="328.5" cy="903.3" r="4.3"/>
<circle cx="324.3" cy="909.5" r="4.3"/>
<circle cx="332.6" cy="877.2" r="4.3"/>
<circle cx="328.7" cy="911.8" r="4.3"/>
<circle cx="328.3" cy="878.1" r="4.3"/>
<circle cx="325.9" cy="897.8" r="4.3"/>
<circle cx="297.6" cy="1050.1" r="4.3"/>
<circle cx="343.1" cy="1024.0" r="4.3"/>
<circle cx="322.9" cy="1005.1" r="4.3"/>
<circle cx="362.4" cy="968.0" r="4.3"/>
<circle cx="355.8" cy="1046.5" r="4.3"/>
<circle cx="348.5" cy="1064.4" r="4.3"/>
<circle cx="355.7" cy="1044.9" r="4.3"/>
<circle cx="348.5" cy="1038.1" r="4.3"/>
<circle cx="302.8" cy="999.8" r="4.3"/>
<circle cx="296.4" cy="1025.4" r="4.3"/>
<circle cx="335.1" cy="1071.6" r="4.3"/>
<circle cx="341.8" cy="1028.6" r="4.3"/>
<circle cx="335.8" cy="987.8" r="4.3"/>
<circle cx="362.0" cy="1034.9" r="4.3"/>
<circle cx="343.4" cy="932.4" r="4.3"/>
<circle cx="336.3" cy="967.8" r="4.3"/>
<circle cx="321.6" cy="958.5" r="4.3"/>
<circle cx="321.7" cy="966.9" r="4.3"/>
<circle cx="355.3" cy="1005.7" r="4.3"/>
<circle cx="355.4" cy="1079.3" r="4.3"/>
<circle cx="336.4" cy="940.5" r="4.3"/>
<circle cx="336.3" cy="935.8" r="4.3"/>
<circle cx="354.4" cy="1000.2" r="4.3"/>
<circle cx="309.7" cy="1021.3" r="4.3"/>
<circle cx="304.3" cy="992.5" r="4.3"/>
<circle cx="329.4" cy="984.2" r="4.3"/>
<circle cx="316.6" cy="1013.7" r="4.3"/>
<circle cx="316.7" cy="973.7" r="4.3"/>
<circle cx="296.1" cy="935.5" r="4.3"/>
<circle cx="310.3" cy="987.9" r="4.3"/>
<circle cx="355.8" cy="936.6" r="4.3"/>
<circle cx="362.8" cy="940.1" r="4.3"/>
<circle cx="355.0" cy="1001.1" r="4.3"/>
<circle cx="361.1" cy="1008.0" r="4.3"/>
<circle cx="355.7" cy="999.7" r="4.3"/>
<circle cx="362.5" cy="1020.1" r="4.3"/>
<circle cx="303.5" cy="997.8" r="4.3"/>
<circle cx="308.6" cy="1008.7" r="4.3"/>
<circle cx="303.1" cy="1029.9" r="4.3"/>
<circle cx="328.6" cy="1016.9" r="4.3"/>
<circle cx="323.4" cy="1009.1" r="4.3"/>
<circle cx="362.8" cy="1039.9" r="4.3"/>
<circle cx="315.3" cy="1063.8" r="4.3"/>
<circle cx="349.0" cy="983.2" r="4.3"/>
<circle cx="316.6" cy="1014.3" r="4.3"/>
<circle cx="336.0" cy="1042.8" r="4.3"/>
<circle cx="309.1" cy="1076.9" r="4.3"/>
<circle cx="356.1" cy="935.0" r="4.3"/>
<circle cx="302.7" cy="993.2" r="4.3"/>
<circle cx="334.7" cy="1010.8" r="4.3"/>
<circle cx="302.2" cy="1031.1" r="4.3"/>
<circle cx="329.5" cy="985.4" r="4.3"/>
<circle cx="328.5" cy="980.9" r="4.3"/>
<circle cx="343.0" cy="940.2" r="4.3"/>
<circle cx="303.9" cy="1023.2" r="4.3"/>
<circle cx="348.0" cy="993.1" r="4.3"/>
<circle cx="316.9" cy="984.7" r="4.3"/>
<circle cx="336.9" cy="978.1" r="4.3"/>
<circle cx="329.8" cy="1068.0" r="4.3"/>
<circle cx="322.4" cy="943.6" r="4.3"/>
<circle cx="354.2" cy="941.5" r="4.3"/>
<circle cx="335.7" cy="1032.5" r="4.3"/>
<circle cx="316.9" cy="940.5" r="4.3"/>
<circle cx="310.1" cy="941.3" r="4.3"/>
<circle cx="316.7" cy="1033.8" r="4.3"/>
<circle cx="315.3" cy="983.0" r="4.3"/>
<circle cx="341.9" cy="946.7" r="4.3"/>
<circle cx="342.4" cy="1067.7" r="4.3"/>
<circle cx="356.2" cy="995.1" r="4.3"/>
<circle cx="348.2" cy="977.0" r="4.3"/>
<circle cx="323.7" cy="1064.1" r="4.3"/>
<circle cx="315.9" cy="984.2" r="4.3"/>
<circle cx="322.4" cy="987.5" r="4.3"/>
<circle cx="309.9" cy="1049.4" r="4.3"/>
<circle cx="330.0" cy="1014.0" r="4.3"/>
<circle cx="310.3" cy="1062.0" r="4.3"/>
<circle cx="315.1" cy="1006.9" r="4.3"/>
<circle cx="329.4" cy="1074.9" r="4.3"/>
<circle cx="336.4" cy="938.7" r="4.3"/>
<circle cx="329.9" cy="941.7" r="4.3"/>
<circle cx="303.8" cy="1064.8" r="4.3"/>
<circle cx="303.5" cy="950.7" r="4.3"/>
<circle cx="342.6" cy="966.1" r="4.3"/>
<circle cx="310.3" cy="1007.8" r="4.3"/>
<circle cx="348.4" cy="980.0" r="4.3"/>
<circle cx="355.6" cy="1003.5" r="4.3"/>
<circle cx="329.7" cy="1035.9" r="4.3"/>
<circle cx="355.0" cy="1053.8" r="4.3"/>
<circle cx="343.0" cy="1050.7" r="4.3"/>
<circle cx="349.6" cy="1073.6" r="4.3"/>
<circle cx="335.8" cy="1036.2" r="4.3"/>
<circle cx="348.5" cy="992.5" r="4.3"/>
<circle cx="310.3" cy="1078.6" r="4.3"/>
<circle cx="321.9" cy="959.9" r="4.3"/>
<circle cx="322.2" cy="1075.4" r="4.3"/>
<circle cx="302.7" cy="946.3" r="4.3"/>
<circle cx="336.4" cy="956.1" r="4.3"/>
<circle cx="303.1" cy="1017.2" r="4.3"/>
<circle cx="354.1" cy="945.4" r="4.3"/>
<circle cx="309.0" cy="964.5" r="4.3"/>
<circle cx="342.4" cy="962.8" r="4.3"/>
<circle cx="309.2" cy="955.0" r="4.3"/>
<circle cx="341.7" cy="1011.8" r="4.3"/>
<circle cx="348.7" cy="968.3" r="4.3"/>
<circle cx="356.2" cy="980.7" r="4.3"/>
<circle cx="330.3" cy="1001.9" r="4.3"/>
<circle cx="308.6" cy="1072.1" r="4.3"/>
<circle cx="348.4" cy="1008.7" r="4.3"/>
<circle cx="328.7" cy="1078.5" r="4.3"/>
<circle cx="341.6" cy="930.6" r="4.3"/>
<circle cx="328.9" cy="1049.3" r="4.3"/>
<circle cx="342.5" cy="952.8" r="4.3"/>
<circle cx="309.3" cy="968.2" r="4.3"/>
<circle cx="355.2" cy="1025.2" r="4.3"/>
<circle cx="361.1" cy="1009.7" r="4.3"/>
<circle cx="310.3" cy="929.2" r="4.3"/>
<circle cx="349.5" cy="1053.1" r="4.3"/>
<circle cx="302.6" cy="1037.2" r="4.3"/>
<circle cx="303.2" cy="999.8" r="4.3"/>
<circle cx="355.4" cy="1058.5" r="4.3"/>
<circle cx="316.9" cy="992.0" r="4.3"/>
<circle cx="354.2" cy="1053.8" r="4.3"/>
<circle cx="309.8" cy="1008.4" r="4.3"/>
<circle cx="310.5" cy="976.0" r="4.3"/>
<circle cx="315.2" cy="975.2" r="4.3"/>
<circle cx="329.7" cy="983.3" r="4.3"/>
<circle cx="341.3" cy="988.5" r="4.3"/>
<circle cx="330.3" cy="1054.3" r="4.3"/>
<circle cx="334.5" cy="985.9" r="4.3"/>
<circle cx="341.6" cy="1014.2" r="4.3"/>
<circle cx="328.0" cy="1078.7" r="4.3"/>
<circle cx="348.0" cy="1022.0" r="4.3"/>
<circle cx="315.9" cy="1010.5" r="4.3"/>
<circle cx="315.8" cy="988.2" r="4.3"/>
<circle cx="341.6" cy="959.2" r="4.3"/>
<circle cx="341.8" cy="1071.7" r="4.3"/>
<circle cx="336.2" cy="979.1" r="4.3"/>
<circle cx="347.7" cy="950.3" r="4.3"/>
<circle cx="303.6" cy="1036.0" r="4.3"/>
<circle cx="309.5" cy="1055.4" r="4.3"/>
<circle cx="334.7" cy="963.2" r="4.3"/>
<circle cx="308.8" cy="990.4" r="4.3"/>
<circle cx="304.2" cy="993.5" r="4.3"/>
<circle cx="329.6" cy="1044.8" r="4.3"/>
<circle cx="348.4" cy="979.0" r="4.3"/>
<circle cx="321.5" cy="989.5" r="4.3"/>
<circle cx="343.4" cy="1048.2" r="4.3"/>
<circle cx="342.5" cy="931.8" r="4.3"/>
<circle cx="315.8" cy="1027.3" r="4.3"/>
<circle cx="302.9" cy="1005.9" r="4.3"/>
<circle cx="349.5" cy="1021.3" r="4.3"/>
<circle cx="310.3" cy="1065.4" r="4.3"/>
<circle cx="328.8" cy="1004.6" r="4.3"/>
<circle cx="310.2" cy="1078.0" r="4.3"/>
<circle cx="329.7" cy="1055.2" r="4.3"/>
<circle cx="310.8" cy="1023.7" r="4.3"/>
<circle cx="308.7" cy="965.9" r="4.3"/>
<circle cx="336.2" cy="978.7" r="4.3"/>
<circle cx="354.9" cy="998.9" r="4.3"/>
<circle cx="304.3" cy="949.5" r="4.3"/>
<circle cx="355.3" cy="1013.7" r="4.3"/>
<circle cx="335.1" cy="1066.3" r="4.3"/>
<circle cx="362.5" cy="1019.8" r="4.3"/>
<circle cx="304.0" cy="972.6" r="4.3"/>
<circle cx="354.6" cy="1015.6" r="4.3"/>
<circle cx="347.9" cy="1011.7" r="4.3"/>
<circle cx="302.1" cy="956.2" r="4.3"/>
<circle cx="362.8" cy="1028.4" r="4.3"/>
<circle cx="316.6" cy="1040.4" r="4.3"/>
<circle cx="322.9" cy="1050.4" r="4.3"/>
<circle cx="296.0" cy="999.7" r="4.3"/>
<circle cx="309.4" cy="1015.0" r="4.3"/>
<circle cx="309.7" cy="968.8" r="4.3"/>
<circle cx="335.3" cy="1025.9" r="4.3"/>
<circle cx="303.6" cy="950.9" r="4.3"/>
<circle cx="355.4" cy="1000.0" r="4.3"/>
<circle cx="323.0" cy="1033.1" r="4.3"/>
<circle cx="342.8" cy="1002.4" r="4.3"/>
<circle cx="362.5" cy="1058.1" r="4.3"/>
<circle cx="322.5" cy="1014.5" r="4.3"/>
<circle cx="355.3" cy="1008.3" r="4.3"/>
<circle cx="323.7" cy="977.4" r="4.3"/>
<circle cx="303.7" cy="1064.9" r="4.3"/>
<circle cx="342.4" cy="1042.5" r="4.3"/>
<circle cx="316.4" cy="939.5" r="4.3"/>
<circle cx="303.1" cy="1004.9" r="4.3"/>
<circle cx="321.6" cy="1033.9" r="4.3"/>
<circle cx="328.6" cy="975.3" r="4.3"/>
<circle cx="322.1" cy="939.3" r="4.3"/>
<circle cx="356.3" cy="1029.5" r="4.3"/>
<circle cx="348.5" cy="1050.6" r="4.3"/>
<circle cx="310.3" cy="1014.6" r="4.3"/>
<circle cx="354.2" cy="1048.6" r="4.3"/>
<circle cx="303.3" cy="1072.6" r="4.3"/>
<circle cx="296.1" cy="974.2" r="4.3"/>
<circle cx="315.2" cy="1064.2" r="4.3"/>
<circle cx="348.5" cy="982.8" r="4.3"/>
<circle cx="334.6" cy="933.7" r="4.3"/>
<circle cx="354.7" cy="1004.3" r="4.3"/>
<circle cx="356.3" cy="1000.4" r="4.3"/>
<circle cx="309.2" cy="1068.3" r="4.3"/>
<circle cx="354.5" cy="1055.5" r="4.3"/>
<circle cx="322.6" cy="955.0" r="4.3"/>
<circle cx="356.4" cy="959.5" r="4.3"/>
<circle cx="335.0" cy="1061.9" r="4.3"/>
<circle cx="302.3" cy="1038.6" r="4.3"/>
<circle cx="317.2" cy="1060.3" r="4.3"/>
<circle cx="341.3" cy="1034.1" r="4.3"/>
<circle cx="355.1" cy="940.9" r="4.3"/>
<circle cx="309.2" cy="1036.3" r="4.3"/>
<circle cx="308.9" cy="964.6" r="4.3"/>
<circle cx="342.9" cy="985.2" r="4.3"/>
<circle cx="343.1" cy="1018.1" r="4.3"/>
<circle cx="309.2" cy="1068.9" r="4.3"/>
<circle cx="341.7" cy="1025.6" r="4.3"/>
<circle cx="304.4" cy="995.5" r="4.3"/>
<circle cx="329.3" cy="935.8" r="4.3"/>
<circle cx="335.2" cy="966.9" r="4.3"/>
<circle cx="347.7" cy="972.1" r="4.3"/>
<circle cx="341.6" cy="971.1" r="4.3"/>
<circle cx="328.4" cy="1064.5" r="4.3"/>
<circle cx="360.6" cy="998.7" r="4.3"/>
<circle cx="341.9" cy="1069.3" r="4.3"/>
<circle cx="328.4" cy="1013.0" r="4.3"/>
<circle cx="335.4" cy="1028.4" r="4.3"/>
<circle cx="348.7" cy="1005.4" r="4.3"/>
<circle cx="349.1" cy="1007.6" r="4.3"/>
<circle cx="354.4" cy="1046.7" r="4.3"/>
<circle cx="310.0" cy="964.5" r="4.3"/>
<circle cx="323.4" cy="1047.8" r="4.3"/>
<circle cx="348.1" cy="1002.9" r="4.3"/>
<circle cx="309.9" cy="1004.3" r="4.3"/>
<circle cx="303.4" cy="1036.9" r="4.3"/>
<circle cx="336.6" cy="956.2" r="4.3"/>
<circle cx="308.5" cy="1003.9" r="4.3"/>
<circle cx="322.6" cy="968.7" r="4.3"/>
<circle cx="347.7" cy="1066.0" r="4.3"/>
<circle cx="335.8" cy="1048.5" r="4.3"/>
<circle cx="315.4" cy="976.0" r="4.3"/>
<circle cx="302.8" cy="1022.8" r="4.3"/>
<circle cx="328.6" cy="1017.9" r="4.3"/>
<circle cx="304.0" cy="954.9" r="4.3"/>
<circle cx="315.4" cy="1033.3" r="4.3"/>
<circle cx="349.4" cy="938.2" r="4.3"/>
<circle cx="322.4" cy="961.7" r="4.3"/>
<circle cx="354.1" cy="1002.9" r="4.3"/>
<circle cx="343.4" cy="950.8" r="4.3"/>
<circle cx="329.8" cy="934.9" r="4.3"/>
<circle cx="317.1" cy="950.4" r="4.3"/>
<circle cx="322.2" cy="993.1" r="4.3"/>
<circle cx="302.1" cy="1079.4" r="4.3"/>
<circle cx="349.3" cy="963.7" r="4.3"/>
<circle cx="316.3" cy="965.5" r="4.3"/>
<circle cx="330.2" cy="984.0" r="4.3"/>
<circle cx="317.4" cy="1021.2" r="4.3"/>
<circle cx="303.0" cy="1027.1" r="4.3"/>
<circle cx="302.8" cy="1033.9" r="4.3"/>
<circle cx="348.9" cy="1062.8" r="4.3"/>
<circle cx="328.9" cy="1056.3" r="4.3"/>
<circle cx="323.4" cy="961.5" r="4.3"/>
<circle cx="321.9" cy="1012.0" r="4.3"/>
<circle cx="309.0" cy="961.4" r="4.3"/>
<circle cx="328.7" cy="996.5" r="4.3"/>
<circle cx="362.1" cy="1059.3" r="4.3"/>
<circle cx="309.4" cy="940.0" r="4.3"/>
<circle cx="341.9" cy="970.5" r="4.3"/>
<circle cx="295.9" cy="968.6" r="4.3"/>
<circle cx="323.7" cy="1037.0" r="4.3"/>
<circle cx="315.9" cy="952.2" r="4.3"/>
<circle cx="354.9" cy="1044.6" r="4.3"/>
<circle cx="343.2" cy="932.1" r="4.3"/>
<circle cx="315.9" cy="941.6" r="4.3"/>
<circle cx="354.8" cy="1045.4" r="4.3"/>
<circle cx="328.1" cy="988.5" r="4.3"/>
<circle cx="315.1" cy="951.8" r="4.3"/>
<circle cx="334.6" cy="976.2" r="4.3"/>
<circle cx="322.8" cy="949.5" r="4.3"/>
<circle cx="341.6" cy="1038.5" r="4.3"/>
<circle cx="341.4" cy="959.9" r="4.3"/>
<circle cx="316.7" cy="990.2" r="4.3"/>
<circle cx="323.6" cy="963.1" r="4.3"/>
<circle cx="315.8" cy="961.6" r="4.3"/>
<circle cx="302.1" cy="1024.2" r="4.3"/>
<circle cx="336.4" cy="1076.3" r="4.3"/>
<circle cx="316.6" cy="1067.8" r="4.3"/>
<circle cx="310.2" cy="1029.7" r="4.3"/>
<circle cx="356.1" cy="964.4" r="4.3"/>
<circle cx="334.7" cy="993.6" r="4.3"/>
<circle cx="321.6" cy="986.9" r="4.3"/>
<circle cx="316.2" cy="971.3" r="4.3"/>
<circle cx="309.5" cy="1088.6" r="4.3"/>
<circle cx="310.1" cy="1084.3" r="4.3"/>
<circle cx="309.3" cy="1087.6" r="4.3"/>
<circle cx="309.9" cy="1092.6" r="4.3"/>
<circle cx="329.7" cy="1080.4" r="4.3"/>
<circle cx="322.4" cy="1081.1" r="4.3"/>
<circle cx="321.6" cy="1088.9" r="4.3"/>
<circle cx="335.6" cy="1085.9" r="4.3"/>
<circle cx="315.1" cy="1086.2" r="4.3"/>
<circle cx="348.9" cy="1084.7" r="4.3"/>
<circle cx="334.9" cy="1088.4" r="4.3"/>
<circle cx="336.8" cy="1086.5" r="4.3"/>
<circle cx="336.8" cy="1093.9" r="4.3"/>
<circle cx="336.0" cy="1087.4" r="4.3"/>
<circle cx="322.2" cy="1094.9" r="4.3"/>
<circle cx="348.4" cy="1096.4" r="4.3"/>
<circle cx="302.3" cy="1089.1" r="4.3"/>
<circle cx="315.9" cy="1097.6" r="4.3"/>
<circle cx="309.0" cy="1084.1" r="4.3"/>
<circle cx="335.1" cy="1080.0" r="4.3"/>
<circle cx="328.9" cy="1084.3" r="4.3"/>
<circle cx="329.6" cy="1089.9" r="4.3"/>
<circle cx="299.2" cy="1117.6" r="4.3"/>
<circle cx="327.2" cy="1117.6" r="4.3"/>
<circle cx="326.7" cy="1117.6" r="4.3"/>
<circle cx="328.8" cy="1117.6" r="4.3"/>
<circle cx="359.2" cy="1117.6" r="4.3"/>
<circle cx="341.8" cy="1136.5" r="4.3"/>
<circle cx="323.6" cy="1136.5" r="4.3"/>
<circle cx="323.2" cy="1136.5" r="4.3"/>
<circle cx="336.1" cy="1158.0" r="4.3"/>
<circle cx="343.0" cy="1158.0" r="4.3"/>
<circle cx="323.0" cy="1158.0" r="4.3"/>
</g>
<g fill="url(#pg2)" stroke="rgb(140,150,240)" stroke-width="0.8" stroke-opacity="0.7">
<circle cx="439.5" cy="913.6" r="4.3"/>
<circle cx="439.7" cy="960.9" r="4.3"/>
<circle cx="433.6" cy="971.1" r="4.3"/>
<circle cx="432.4" cy="958.1" r="4.3"/>
<circle cx="426.5" cy="945.8" r="4.3"/>
<circle cx="425.5" cy="944.3" r="4.3"/>
<circle cx="445.1" cy="966.0" r="4.3"/>
<circle cx="446.0" cy="948.1" r="4.3"/>
<circle cx="453.4" cy="941.3" r="4.3"/>
<circle cx="433.0" cy="987.4" r="4.3"/>
<circle cx="433.5" cy="953.6" r="4.3"/>
<circle cx="445.6" cy="958.7" r="4.3"/>
<circle cx="446.8" cy="989.4" r="4.3"/>
<circle cx="439.3" cy="981.8" r="4.3"/>
<circle cx="446.8" cy="987.7" r="4.3"/>
<circle cx="426.2" cy="979.5" r="4.3"/>
<circle cx="432.2" cy="938.9" r="4.3"/>
<circle cx="440.6" cy="998.2" r="4.3"/>
<circle cx="427.0" cy="964.0" r="4.3"/>
<circle cx="445.8" cy="995.9" r="4.3"/>
<circle cx="451.4" cy="982.2" r="4.3"/>
<circle cx="425.4" cy="955.7" r="4.3"/>
<circle cx="447.2" cy="945.4" r="4.3"/>
<circle cx="431.9" cy="971.6" r="4.3"/>
<circle cx="439.2" cy="957.2" r="4.3"/>
<circle cx="446.8" cy="955.6" r="4.3"/>
<circle cx="433.3" cy="985.5" r="4.3"/>
<circle cx="452.2" cy="981.0" r="4.3"/>
<circle cx="440.2" cy="947.1" r="4.3"/>
<circle cx="425.6" cy="995.9" r="4.3"/>
<circle cx="433.0" cy="945.5" r="4.3"/>
<circle cx="410.4" cy="960.7" r="4.3"/>
<circle cx="411.9" cy="965.0" r="4.3"/>
<circle cx="412.3" cy="969.6" r="4.3"/>
<circle cx="409.9" cy="976.9" r="4.3"/>
<circle cx="468.4" cy="971.5" r="4.3"/>
<circle cx="465.9" cy="966.6" r="4.3"/>
<circle cx="472.6" cy="972.7" r="4.3"/>
<circle cx="466.1" cy="969.6" r="4.3"/>
<circle cx="440.7" cy="1029.3" r="4.3"/>
<circle cx="465.5" cy="1060.1" r="4.3"/>
<circle cx="458.8" cy="1008.4" r="4.3"/>
<circle cx="439.9" cy="1090.3" r="4.3"/>
<circle cx="427.6" cy="1125.4" r="4.3"/>
<circle cx="471.9" cy="1120.9" r="4.3"/>
<circle cx="451.7" cy="1003.9" r="4.3"/>
<circle cx="419.1" cy="1010.8" r="4.3"/>
<circle cx="433.6" cy="1045.0" r="4.3"/>
<circle cx="438.3" cy="1030.5" r="4.3"/>
<circle cx="464.3" cy="1076.5" r="4.3"/>
<circle cx="459.7" cy="1106.6" r="4.3"/>
<circle cx="433.7" cy="1120.0" r="4.3"/>
<circle cx="460.2" cy="1014.6" r="4.3"/>
<circle cx="465.3" cy="1102.3" r="4.3"/>
<circle cx="427.5" cy="1003.4" r="4.3"/>
<circle cx="445.3" cy="1056.3" r="4.3"/>
<circle cx="433.4" cy="1117.6" r="4.3"/>
<circle cx="433.3" cy="1051.3" r="4.3"/>
<circle cx="427.5" cy="1046.6" r="4.3"/>
<circle cx="413.1" cy="1107.5" r="4.3"/>
<circle cx="420.6" cy="1079.2" r="4.3"/>
<circle cx="451.7" cy="1015.3" r="4.3"/>
<circle cx="419.6" cy="1062.5" r="4.3"/>
<circle cx="407.0" cy="1058.5" r="4.3"/>
<circle cx="426.6" cy="1138.1" r="4.3"/>
<circle cx="420.9" cy="1046.5" r="4.3"/>
<circle cx="451.6" cy="1143.2" r="4.3"/>
<circle cx="434.1" cy="1031.8" r="4.3"/>
<circle cx="433.5" cy="1025.8" r="4.3"/>
<circle cx="426.9" cy="1137.4" r="4.3"/>
<circle cx="425.7" cy="1051.8" r="4.3"/>
<circle cx="471.2" cy="1092.0" r="4.3"/>
<circle cx="433.3" cy="1030.8" r="4.3"/>
<circle cx="446.9" cy="1124.2" r="4.3"/>
<circle cx="446.0" cy="1082.3" r="4.3"/>
<circle cx="414.3" cy="1100.0" r="4.3"/>
<circle cx="439.9" cy="1060.8" r="4.3"/>
<circle cx="432.4" cy="1087.1" r="4.3"/>
<circle cx="446.0" cy="1004.7" r="4.3"/>
<circle cx="445.9" cy="1086.0" r="4.3"/>
<circle cx="447.0" cy="1022.0" r="4.3"/>
<circle cx="440.7" cy="1107.0" r="4.3"/>
<circle cx="427.1" cy="1143.5" r="4.3"/>
<circle cx="433.9" cy="1018.4" r="4.3"/>
<circle cx="472.0" cy="1033.9" r="4.3"/>
<circle cx="459.4" cy="1136.0" r="4.3"/>
<circle cx="459.7" cy="1074.2" r="4.3"/>
<circle cx="471.0" cy="1126.2" r="4.3"/>
<circle cx="451.9" cy="1117.0" r="4.3"/>
<circle cx="439.6" cy="1125.5" r="4.3"/>
<circle cx="419.5" cy="1093.3" r="4.3"/>
<circle cx="413.6" cy="1114.1" r="4.3"/>
<circle cx="438.9" cy="1116.0" r="4.3"/>
<circle cx="459.6" cy="1079.6" r="4.3"/>
<circle cx="466.2" cy="1022.0" r="4.3"/>
<circle cx="432.0" cy="1005.3" r="4.3"/>
<circle cx="433.9" cy="1120.9" r="4.3"/>
<circle cx="412.7" cy="1056.4" r="4.3"/>
<circle cx="459.3" cy="1130.8" r="4.3"/>
<circle cx="414.7" cy="1030.0" r="4.3"/>
<circle cx="446.9" cy="1105.5" r="4.3"/>
<circle cx="420.4" cy="1062.5" r="4.3"/>
<circle cx="406.6" cy="1045.7" r="4.3"/>
<circle cx="445.5" cy="1087.4" r="4.3"/>
<circle cx="451.7" cy="1018.6" r="4.3"/>
<circle cx="452.4" cy="1018.7" r="4.3"/>
<circle cx="414.6" cy="1088.5" r="4.3"/>
<circle cx="432.3" cy="1144.3" r="4.3"/>
<circle cx="453.1" cy="1052.2" r="4.3"/>
<circle cx="426.3" cy="1021.2" r="4.3"/>
<circle cx="445.8" cy="1118.9" r="4.3"/>
<circle cx="432.9" cy="1073.4" r="4.3"/>
<circle cx="465.1" cy="1102.0" r="4.3"/>
<circle cx="420.2" cy="1041.3" r="4.3"/>
<circle cx="465.0" cy="1123.9" r="4.3"/>
<circle cx="452.4" cy="1135.4" r="4.3"/>
<circle cx="433.6" cy="1087.2" r="4.3"/>
<circle cx="438.5" cy="1060.8" r="4.3"/>
<circle cx="426.4" cy="1138.4" r="4.3"/>
<circle cx="427.0" cy="1097.4" r="4.3"/>
<circle cx="426.3" cy="1019.2" r="4.3"/>
<circle cx="464.9" cy="1061.0" r="4.3"/>
<circle cx="427.3" cy="1123.3" r="4.3"/>
<circle cx="446.1" cy="1014.4" r="4.3"/>
<circle cx="464.5" cy="1052.7" r="4.3"/>
<circle cx="433.5" cy="1097.0" r="4.3"/>
<circle cx="434.0" cy="1137.7" r="4.3"/>
<circle cx="407.3" cy="1068.0" r="4.3"/>
<circle cx="432.9" cy="1045.8" r="4.3"/>
<circle cx="452.8" cy="1140.7" r="4.3"/>
<circle cx="473.2" cy="1057.3" r="4.3"/>
<circle cx="459.4" cy="1101.7" r="4.3"/>
<circle cx="471.0" cy="1067.0" r="4.3"/>
<circle cx="433.4" cy="1031.6" r="4.3"/>
<circle cx="471.3" cy="1053.6" r="4.3"/>
<circle cx="419.7" cy="1107.6" r="4.3"/>
<circle cx="412.7" cy="1094.1" r="4.3"/>
<circle cx="446.6" cy="1036.7" r="4.3"/>
<circle cx="459.6" cy="1112.5" r="4.3"/>
<circle cx="413.4" cy="1002.3" r="4.3"/>
<circle cx="460.1" cy="1129.9" r="4.3"/>
<circle cx="406.6" cy="1077.7" r="4.3"/>
<circle cx="438.6" cy="1114.4" r="4.3"/>
<circle cx="426.5" cy="1018.1" r="4.3"/>
<circle cx="445.1" cy="1012.8" r="4.3"/>
<circle cx="439.0" cy="1112.7" r="4.3"/>
<circle cx="426.3" cy="1007.9" r="4.3"/>
<circle cx="419.9" cy="1080.9" r="4.3"/>
<circle cx="440.3" cy="1015.1" r="4.3"/>
<circle cx="458.2" cy="1140.7" r="4.3"/>
<circle cx="439.3" cy="1088.8" r="4.3"/>
<circle cx="460.1" cy="1059.9" r="4.3"/>
<circle cx="406.2" cy="1118.7" r="4.3"/>
<circle cx="453.0" cy="1022.7" r="4.3"/>
<circle cx="438.4" cy="1016.0" r="4.3"/>
<circle cx="427.6" cy="1093.2" r="4.3"/>
<circle cx="457.9" cy="1060.3" r="4.3"/>
<circle cx="412.9" cy="1016.2" r="4.3"/>
<circle cx="465.1" cy="1070.9" r="4.3"/>
<circle cx="446.9" cy="1137.2" r="4.3"/>
<circle cx="446.0" cy="1131.1" r="4.3"/>
<circle cx="432.5" cy="1107.2" r="4.3"/>
<circle cx="426.2" cy="1062.2" r="4.3"/>
<circle cx="439.2" cy="1062.4" r="4.3"/>
<circle cx="438.4" cy="1121.2" r="4.3"/>
<circle cx="413.6" cy="1079.4" r="4.3"/>
<circle cx="432.3" cy="1014.4" r="4.3"/>
<circle cx="432.6" cy="1070.2" r="4.3"/>
<circle cx="420.6" cy="1070.7" r="4.3"/>
<circle cx="406.8" cy="1140.1" r="4.3"/>
<circle cx="407.2" cy="1139.3" r="4.3"/>
<circle cx="433.2" cy="1053.5" r="4.3"/>
<circle cx="426.8" cy="1085.5" r="4.3"/>
<circle cx="426.5" cy="1074.8" r="4.3"/>
<circle cx="451.4" cy="1013.5" r="4.3"/>
<circle cx="425.9" cy="1115.4" r="4.3"/>
<circle cx="433.9" cy="1058.3" r="4.3"/>
<circle cx="426.9" cy="1012.4" r="4.3"/>
<circle cx="472.8" cy="1047.6" r="4.3"/>
<circle cx="427.3" cy="1114.3" r="4.3"/>
<circle cx="444.9" cy="1110.7" r="4.3"/>
<circle cx="413.8" cy="1080.1" r="4.3"/>
<circle cx="465.8" cy="1003.2" r="4.3"/>
<circle cx="466.1" cy="1084.1" r="4.3"/>
<circle cx="407.6" cy="1060.7" r="4.3"/>
<circle cx="453.7" cy="1132.9" r="4.3"/>
<circle cx="414.2" cy="1063.9" r="4.3"/>
<circle cx="452.2" cy="1064.9" r="4.3"/>
<circle cx="432.1" cy="1046.4" r="4.3"/>
<circle cx="451.5" cy="1016.8" r="4.3"/>
<circle cx="459.4" cy="1079.5" r="4.3"/>
<circle cx="412.6" cy="1045.0" r="4.3"/>
<circle cx="465.6" cy="1133.7" r="4.3"/>
<circle cx="419.8" cy="1077.8" r="4.3"/>
<circle cx="458.1" cy="1126.7" r="4.3"/>
<circle cx="438.4" cy="1062.6" r="4.3"/>
<circle cx="433.4" cy="1134.6" r="4.3"/>
<circle cx="440.0" cy="1056.3" r="4.3"/>
<circle cx="458.1" cy="1107.6" r="4.3"/>
<circle cx="420.2" cy="1029.3" r="4.3"/>
<circle cx="432.2" cy="1050.7" r="4.3"/>
<circle cx="446.0" cy="1056.3" r="4.3"/>
<circle cx="446.8" cy="1051.9" r="4.3"/>
<circle cx="446.0" cy="1142.2" r="4.3"/>
<circle cx="427.0" cy="1033.9" r="4.3"/>
<circle cx="427.1" cy="1083.4" r="4.3"/>
<circle cx="425.5" cy="1119.6" r="4.3"/>
<circle cx="433.5" cy="1062.7" r="4.3"/>
<circle cx="446.1" cy="1141.5" r="4.3"/>
<circle cx="465.4" cy="1070.6" r="4.3"/>
<circle cx="420.6" cy="1014.8" r="4.3"/>
<circle cx="427.3" cy="1005.1" r="4.3"/>
<circle cx="452.7" cy="1080.0" r="4.3"/>
<circle cx="425.7" cy="1137.9" r="4.3"/>
<circle cx="459.7" cy="1014.2" r="4.3"/>
<circle cx="458.3" cy="1028.9" r="4.3"/>
<circle cx="439.8" cy="1017.5" r="4.3"/>
<circle cx="459.2" cy="1130.4" r="4.3"/>
<circle cx="466.0" cy="1052.8" r="4.3"/>
<circle cx="466.0" cy="1042.2" r="4.3"/>
<circle cx="459.5" cy="1038.4" r="4.3"/>
<circle cx="425.3" cy="1077.9" r="4.3"/>
<circle cx="426.0" cy="1036.7" r="4.3"/>
<circle cx="413.5" cy="1039.5" r="4.3"/>
<circle cx="426.0" cy="1073.8" r="4.3"/>
<circle cx="464.7" cy="1124.6" r="4.3"/>
<circle cx="459.3" cy="1078.8" r="4.3"/>
<circle cx="452.6" cy="1095.7" r="4.3"/>
<circle cx="466.2" cy="1037.7" r="4.3"/>
<circle cx="414.5" cy="1052.6" r="4.3"/>
<circle cx="458.4" cy="1065.7" r="4.3"/>
<circle cx="433.6" cy="1136.8" r="4.3"/>
<circle cx="439.7" cy="1050.6" r="4.3"/>
<circle cx="421.1" cy="1016.0" r="4.3"/>
<circle cx="465.9" cy="1010.4" r="4.3"/>
<circle cx="464.5" cy="1082.0" r="4.3"/>
<circle cx="414.7" cy="1044.9" r="4.3"/>
<circle cx="464.4" cy="1096.6" r="4.3"/>
<circle cx="412.4" cy="1082.8" r="4.3"/>
<circle cx="472.4" cy="1124.0" r="4.3"/>
<circle cx="459.1" cy="1011.2" r="4.3"/>
<circle cx="438.7" cy="1076.4" r="4.3"/>
<circle cx="433.0" cy="1028.6" r="4.3"/>
<circle cx="452.3" cy="1070.5" r="4.3"/>
<circle cx="413.5" cy="1080.8" r="4.3"/>
<circle cx="472.1" cy="1019.6" r="4.3"/>
<circle cx="426.1" cy="1101.8" r="4.3"/>
<circle cx="466.6" cy="1137.7" r="4.3"/>
<circle cx="466.4" cy="1135.6" r="4.3"/>
<circle cx="407.0" cy="1085.6" r="4.3"/>
<circle cx="452.8" cy="1088.9" r="4.3"/>
<circle cx="464.5" cy="1075.3" r="4.3"/>
<circle cx="464.4" cy="1016.2" r="4.3"/>
<circle cx="466.6" cy="1003.5" r="4.3"/>
<circle cx="414.3" cy="1099.8" r="4.3"/>
<circle cx="439.7" cy="1109.8" r="4.3"/>
<circle cx="457.8" cy="1009.8" r="4.3"/>
<circle cx="460.1" cy="1120.8" r="4.3"/>
<circle cx="432.6" cy="1050.3" r="4.3"/>
<circle cx="414.1" cy="1157.0" r="4.3"/>
<circle cx="426.7" cy="1157.0" r="4.3"/>
<circle cx="439.1" cy="1157.0" r="4.3"/>
<circle cx="445.9" cy="1157.0" r="4.3"/>
<circle cx="411.0" cy="1192.1" r="4.3"/>
<circle cx="410.9" cy="1180.4" r="4.3"/>
<circle cx="411.0" cy="1185.7" r="4.3"/>
<circle cx="432.1" cy="1183.3" r="4.3"/>
<circle cx="431.0" cy="1188.5" r="4.3"/>
<circle cx="431.0" cy="1186.4" r="4.3"/>
<circle cx="446.0" cy="1192.0" r="4.3"/>
<circle cx="445.9" cy="1181.7" r="4.3"/>
<circle cx="446.1" cy="1183.3" r="4.3"/>
<circle cx="466.0" cy="1188.8" r="4.3"/>
<circle cx="466.1" cy="1186.6" r="4.3"/>
<circle cx="464.7" cy="1190.2" r="4.3"/>
<circle cx="438.0" cy="1305.0" r="4.3"/>
<circle cx="437.8" cy="1305.0" r="4.3"/>
</g>
<g fill="url(#pg3)" stroke="rgb(70,90,232)" stroke-width="0.8" stroke-opacity="0.7">
<circle cx="543.2" cy="1046.5" r="4.3"/>
<circle cx="543.0" cy="1099.2" r="4.3"/>
<circle cx="541.1" cy="1082.1" r="4.3"/>
<circle cx="567.6" cy="1082.2" r="4.3"/>
<circle cx="541.5" cy="1065.4" r="4.3"/>
<circle cx="561.4" cy="1084.6" r="4.3"/>
<circle cx="516.0" cy="1047.3" r="4.3"/>
<circle cx="523.5" cy="1027.2" r="4.3"/>
<circle cx="529.9" cy="1096.6" r="4.3"/>
<circle cx="574.1" cy="1094.1" r="4.3"/>
<circle cx="529.5" cy="1095.4" r="4.3"/>
<circle cx="528.1" cy="1072.6" r="4.3"/>
<circle cx="575.0" cy="1095.7" r="4.3"/>
<circle cx="548.2" cy="1025.2" r="4.3"/>
<circle cx="536.6" cy="1021.1" r="4.3"/>
<circle cx="528.6" cy="1019.2" r="4.3"/>
<circle cx="534.7" cy="1025.4" r="4.3"/>
<circle cx="548.6" cy="1063.3" r="4.3"/>
<circle cx="568.1" cy="1095.5" r="4.3"/>
<circle cx="521.8" cy="1021.5" r="4.3"/>
<circle cx="536.1" cy="1093.6" r="4.3"/>
<circle cx="547.7" cy="1043.1" r="4.3"/>
<circle cx="554.5" cy="1082.4" r="4.3"/>
<circle cx="580.9" cy="1066.3" r="4.3"/>
<circle cx="567.9" cy="1031.2" r="4.3"/>
<circle cx="575.6" cy="1017.1" r="4.3"/>
<circle cx="567.8" cy="1019.4" r="4.3"/>
<circle cx="528.2" cy="1077.6" r="4.3"/>
<circle cx="527.8" cy="1033.7" r="4.3"/>
<circle cx="568.0" cy="1070.5" r="4.3"/>
<circle cx="547.7" cy="1016.3" r="4.3"/>
<circle cx="534.4" cy="1037.1" r="4.3"/>
<circle cx="554.7" cy="1055.2" r="4.3"/>
<circle cx="554.6" cy="1045.3" r="4.3"/>
<circle cx="574.7" cy="1050.4" r="4.3"/>
<circle cx="548.4" cy="1043.3" r="4.3"/>
<circle cx="573.9" cy="1094.5" r="4.3"/>
<circle cx="568.9" cy="1028.8" r="4.3"/>
<circle cx="549.7" cy="1039.5" r="4.3"/>
<circle cx="529.5" cy="1035.0" r="4.3"/>
<circle cx="554.2" cy="1095.5" r="4.3"/>
<circle cx="534.5" cy="1073.4" r="4.3"/>
<circle cx="542.1" cy="1057.3" r="4.3"/>
<circle cx="574.5" cy="1047.2" r="4.3"/>
<circle cx="516.0" cy="1037.9" r="4.3"/>
<circle cx="555.3" cy="1054.3" r="4.3"/>
<circle cx="522.5" cy="1056.0" r="4.3"/>
<circle cx="556.1" cy="1038.8" r="4.3"/>
<circle cx="541.0" cy="1083.0" r="4.3"/>
<circle cx="529.8" cy="1082.8" r="4.3"/>
<circle cx="536.5" cy="1057.8" r="4.3"/>
<circle cx="542.1" cy="1095.4" r="4.3"/>
<circle cx="548.5" cy="1039.7" r="4.3"/>
<circle cx="568.0" cy="1044.1" r="4.3"/>
<circle cx="528.3" cy="1085.9" r="4.3"/>
<circle cx="569.1" cy="1093.0" r="4.3"/>
<circle cx="562.2" cy="1075.5" r="4.3"/>
<circle cx="568.7" cy="1030.0" r="4.3"/>
<circle cx="567.5" cy="1035.7" r="4.3"/>
<circle cx="573.4" cy="1058.5" r="4.3"/>
<circle cx="542.7" cy="1066.9" r="4.3"/>
<circle cx="575.5" cy="1069.8" r="4.3"/>
<circle cx="522.9" cy="1024.3" r="4.3"/>
<circle cx="581.9" cy="1041.4" r="4.3"/>
<circle cx="529.5" cy="1079.4" r="4.3"/>
<circle cx="581.3" cy="1025.6" r="4.3"/>
<circle cx="560.4" cy="1088.8" r="4.3"/>
<circle cx="568.7" cy="1089.3" r="4.3"/>
<circle cx="556.1" cy="1069.3" r="4.3"/>
<circle cx="548.2" cy="1045.0" r="4.3"/>
<circle cx="515.2" cy="1082.6" r="4.3"/>
<circle cx="529.4" cy="1080.9" r="4.3"/>
<circle cx="561.5" cy="1041.9" r="4.3"/>
<circle cx="534.7" cy="1070.1" r="4.3"/>
<circle cx="562.6" cy="1043.1" r="4.3"/>
<circle cx="575.5" cy="1039.7" r="4.3"/>
<circle cx="574.8" cy="1096.8" r="4.3"/>
<circle cx="567.6" cy="1038.7" r="4.3"/>
<circle cx="548.5" cy="1018.0" r="4.3"/>
<circle cx="568.1" cy="1055.2" r="4.3"/>
<circle cx="560.9" cy="1031.9" r="4.3"/>
<circle cx="554.4" cy="1042.8" r="4.3"/>
<circle cx="521.4" cy="1045.2" r="4.3"/>
<circle cx="549.6" cy="1069.4" r="4.3"/>
<circle cx="541.8" cy="1035.0" r="4.3"/>
<circle cx="549.6" cy="1025.4" r="4.3"/>
<circle cx="542.4" cy="1079.8" r="4.3"/>
<circle cx="555.3" cy="1094.8" r="4.3"/>
<circle cx="573.9" cy="1061.0" r="4.3"/>
<circle cx="581.1" cy="1031.1" r="4.3"/>
<circle cx="566.9" cy="1027.8" r="4.3"/>
<circle cx="548.0" cy="1076.2" r="4.3"/>
<circle cx="561.1" cy="1080.2" r="4.3"/>
<circle cx="555.5" cy="1053.8" r="4.3"/>
<circle cx="541.1" cy="1055.4" r="4.3"/>
<circle cx="575.4" cy="1019.8" r="4.3"/>
<circle cx="521.9" cy="1074.0" r="4.3"/>
<circle cx="541.1" cy="1051.2" r="4.3"/>
<circle cx="555.6" cy="1049.3" r="4.3"/>
<circle cx="555.4" cy="1067.3" r="4.3"/>
<circle cx="523.0" cy="1025.9" r="4.3"/>
<circle cx="522.4" cy="1016.4" r="4.3"/>
<circle cx="522.2" cy="1054.8" r="4.3"/>
<circle cx="523.6" cy="1087.4" r="4.3"/>
<circle cx="548.7" cy="1041.8" r="4.3"/>
<circle cx="580.1" cy="1040.9" r="4.3"/>
<circle cx="529.9" cy="1058.2" r="4.3"/>
<circle cx="541.8" cy="1090.4" r="4.3"/>
<circle cx="536.2" cy="1075.2" r="4.3"/>
<circle cx="548.2" cy="1052.1" r="4.3"/>
<circle cx="548.1" cy="1068.0" r="4.3"/>
<circle cx="541.5" cy="1080.7" r="4.3"/>
<circle cx="548.4" cy="1089.8" r="4.3"/>
<circle cx="548.2" cy="1091.3" r="4.3"/>
<circle cx="581.7" cy="1049.1" r="4.3"/>
<circle cx="562.1" cy="1040.2" r="4.3"/>
<circle cx="562.6" cy="1070.7" r="4.3"/>
<circle cx="561.3" cy="1070.5" r="4.3"/>
<circle cx="529.6" cy="1060.8" r="4.3"/>
<circle cx="580.6" cy="1075.5" r="4.3"/>
<circle cx="515.8" cy="1080.1" r="4.3"/>
<circle cx="535.8" cy="1033.8" r="4.3"/>
<circle cx="543.2" cy="1031.7" r="4.3"/>
<circle cx="573.4" cy="1064.6" r="4.3"/>
<circle cx="568.8" cy="1048.3" r="4.3"/>
<circle cx="555.5" cy="1079.7" r="4.3"/>
<circle cx="561.7" cy="1036.4" r="4.3"/>
<circle cx="561.6" cy="1061.3" r="4.3"/>
<circle cx="580.1" cy="1081.4" r="4.3"/>
<circle cx="536.0" cy="1095.8" r="4.3"/>
<circle cx="535.7" cy="1059.9" r="4.3"/>
<circle cx="547.7" cy="1068.2" r="4.3"/>
<circle cx="574.9" cy="1039.6" r="4.3"/>
<circle cx="567.8" cy="1027.3" r="4.3"/>
<circle cx="554.9" cy="1060.0" r="4.3"/>
<circle cx="581.2" cy="1096.0" r="4.3"/>
<circle cx="542.6" cy="1021.4" r="4.3"/>
<circle cx="536.0" cy="1073.7" r="4.3"/>
<circle cx="567.7" cy="1038.3" r="4.3"/>
<circle cx="542.1" cy="1017.1" r="4.3"/>
<circle cx="542.4" cy="1114.9" r="4.3"/>
<circle cx="536.4" cy="1193.4" r="4.3"/>
<circle cx="534.7" cy="1111.8" r="4.3"/>
<circle cx="523.2" cy="1173.9" r="4.3"/>
<circle cx="535.5" cy="1169.5" r="4.3"/>
<circle cx="523.3" cy="1186.0" r="4.3"/>
<circle cx="529.5" cy="1169.9" r="4.3"/>
<circle cx="536.4" cy="1121.8" r="4.3"/>
<circle cx="548.1" cy="1144.2" r="4.3"/>
<circle cx="568.2" cy="1160.9" r="4.3"/>
<circle cx="573.8" cy="1122.3" r="4.3"/>
<circle cx="554.2" cy="1196.4" r="4.3"/>
<circle cx="541.9" cy="1143.1" r="4.3"/>
<circle cx="569.0" cy="1167.7" r="4.3"/>
<circle cx="528.7" cy="1170.6" r="4.3"/>
<circle cx="529.9" cy="1187.2" r="4.3"/>
<circle cx="528.7" cy="1122.9" r="4.3"/>
<circle cx="560.4" cy="1169.6" r="4.3"/>
<circle cx="523.3" cy="1154.3" r="4.3"/>
<circle cx="554.0" cy="1104.4" r="4.3"/>
<circle cx="543.2" cy="1160.0" r="4.3"/>
<circle cx="567.0" cy="1110.2" r="4.3"/>
<circle cx="523.0" cy="1117.6" r="4.3"/>
<circle cx="535.9" cy="1169.5" r="4.3"/>
<circle cx="535.4" cy="1128.9" r="4.3"/>
<circle cx="554.7" cy="1136.0" r="4.3"/>
<circle cx="535.0" cy="1126.1" r="4.3"/>
<circle cx="522.0" cy="1159.2" r="4.3"/>
<circle cx="534.6" cy="1184.6" r="4.3"/>
<circle cx="548.5" cy="1131.2" r="4.3"/>
<circle cx="575.1" cy="1162.3" r="4.3"/>
<circle cx="555.5" cy="1150.0" r="4.3"/>
<circle cx="541.7" cy="1150.4" r="4.3"/>
<circle cx="548.6" cy="1153.3" r="4.3"/>
<circle cx="568.9" cy="1122.4" r="4.3"/>
<circle cx="522.0" cy="1103.2" r="4.3"/>
<circle cx="568.3" cy="1128.6" r="4.3"/>
<circle cx="529.9" cy="1183.6" r="4.3"/>
<circle cx="562.0" cy="1174.5" r="4.3"/>
<circle cx="548.3" cy="1155.3" r="4.3"/>
<circle cx="575.7" cy="1191.7" r="4.3"/>
<circle cx="567.0" cy="1124.7" r="4.3"/>
<circle cx="574.6" cy="1151.5" r="4.3"/>
<circle cx="536.4" cy="1151.7" r="4.3"/>
<circle cx="580.0" cy="1199.3" r="4.3"/>
<circle cx="521.7" cy="1139.0" r="4.3"/>
<circle cx="554.1" cy="1156.2" r="4.3"/>
<circle cx="574.3" cy="1176.2" r="4.3"/>
<circle cx="555.2" cy="1117.3" r="4.3"/>
<circle cx="549.5" cy="1167.4" r="4.3"/>
<circle cx="528.9" cy="1154.4" r="4.3"/>
<circle cx="535.7" cy="1163.2" r="4.3"/>
<circle cx="521.8" cy="1165.7" r="4.3"/>
<circle cx="528.0" cy="1176.2" r="4.3"/>
<circle cx="536.6" cy="1155.9" r="4.3"/>
<circle cx="522.8" cy="1126.2" r="4.3"/>
<circle cx="568.5" cy="1175.8" r="4.3"/>
<circle cx="521.4" cy="1179.8" r="4.3"/>
<circle cx="528.3" cy="1103.0" r="4.3"/>
<circle cx="528.9" cy="1195.8" r="4.3"/>
<circle cx="534.9" cy="1182.8" r="4.3"/>
<circle cx="529.3" cy="1161.5" r="4.3"/>
<circle cx="573.4" cy="1156.3" r="4.3"/>
<circle cx="542.8" cy="1125.2" r="4.3"/>
<circle cx="560.7" cy="1149.5" r="4.3"/>
<circle cx="573.9" cy="1127.9" r="4.3"/>
<circle cx="574.9" cy="1106.6" r="4.3"/>
<circle cx="528.4" cy="1129.0" r="4.3"/>
<circle cx="568.5" cy="1198.0" r="4.3"/>
<circle cx="561.8" cy="1138.3" r="4.3"/>
<circle cx="561.5" cy="1105.9" r="4.3"/>
<circle cx="548.2" cy="1153.1" r="4.3"/>
<circle cx="521.4" cy="1198.3" r="4.3"/>
<circle cx="541.6" cy="1114.8" r="4.3"/>
<circle cx="556.0" cy="1118.0" r="4.3"/>
<circle cx="548.5" cy="1176.6" r="4.3"/>
<circle cx="554.4" cy="1119.0" r="4.3"/>
<circle cx="560.5" cy="1186.5" r="4.3"/>
<circle cx="521.8" cy="1146.8" r="4.3"/>
<circle cx="568.3" cy="1174.6" r="4.3"/>
<circle cx="562.0" cy="1105.2" r="4.3"/>
<circle cx="567.2" cy="1116.2" r="4.3"/>
<circle cx="521.4" cy="1187.7" r="4.3"/>
<circle cx="541.0" cy="1104.7" r="4.3"/>
<circle cx="568.2" cy="1191.6" r="4.3"/>
<circle cx="521.6" cy="1128.7" r="4.3"/>
<circle cx="528.1" cy="1120.1" r="4.3"/>
<circle cx="554.2" cy="1116.9" r="4.3"/>
<circle cx="548.2" cy="1115.0" r="4.3"/>
<circle cx="555.0" cy="1138.8" r="4.3"/>
<circle cx="547.4" cy="1161.5" r="4.3"/>
<circle cx="528.6" cy="1100.9" r="4.3"/>
<circle cx="574.7" cy="1139.2" r="4.3"/>
<circle cx="549.6" cy="1113.2" r="4.3"/>
<circle cx="542.5" cy="1137.2" r="4.3"/>
<circle cx="562.5" cy="1104.1" r="4.3"/>
<circle cx="535.0" cy="1175.0" r="4.3"/>
<circle cx="568.5" cy="1192.5" r="4.3"/>
<circle cx="528.7" cy="1185.3" r="4.3"/>
<circle cx="560.6" cy="1198.0" r="4.3"/>
<circle cx="562.4" cy="1238.0" r="4.3"/>
<circle cx="556.1" cy="1294.3" r="4.3"/>
<circle cx="555.9" cy="1304.9" r="4.3"/>
<circle cx="568.4" cy="1300.8" r="4.3"/>
<circle cx="528.8" cy="1259.2" r="4.3"/>
<circle cx="529.7" cy="1206.5" r="4.3"/>
<circle cx="554.5" cy="1233.9" r="4.3"/>
<circle cx="554.3" cy="1247.0" r="4.3"/>
<circle cx="569.2" cy="1227.6" r="4.3"/>
<circle cx="542.5" cy="1219.9" r="4.3"/>
<circle cx="567.3" cy="1258.5" r="4.3"/>
<circle cx="540.8" cy="1200.1" r="4.3"/>
<circle cx="522.1" cy="1228.9" r="4.3"/>
<circle cx="574.8" cy="1206.9" r="4.3"/>
<circle cx="560.9" cy="1250.6" r="4.3"/>
<circle cx="562.4" cy="1298.2" r="4.3"/>
<circle cx="541.6" cy="1241.7" r="4.3"/>
<circle cx="536.1" cy="1248.6" r="4.3"/>
<circle cx="560.7" cy="1282.2" r="4.3"/>
<circle cx="573.8" cy="1264.7" r="4.3"/>
<circle cx="527.9" cy="1243.5" r="4.3"/>
<circle cx="529.6" cy="1260.1" r="4.3"/>
<circle cx="562.6" cy="1206.1" r="4.3"/>
<circle cx="527.9" cy="1248.2" r="4.3"/>
<circle cx="568.4" cy="1257.5" r="4.3"/>
<circle cx="567.7" cy="1211.9" r="4.3"/>
<circle cx="553.9" cy="1224.1" r="4.3"/>
<circle cx="521.7" cy="1206.7" r="4.3"/>
<circle cx="547.6" cy="1263.4" r="4.3"/>
<circle cx="567.6" cy="1212.6" r="4.3"/>
<circle cx="555.5" cy="1292.8" r="4.3"/>
<circle cx="548.7" cy="1290.6" r="4.3"/>
<circle cx="562.6" cy="1230.1" r="4.3"/>
<circle cx="561.8" cy="1249.2" r="4.3"/>
<circle cx="522.4" cy="1227.7" r="4.3"/>
<circle cx="555.0" cy="1253.6" r="4.3"/>
<circle cx="521.6" cy="1263.7" r="4.3"/>
<circle cx="562.7" cy="1283.2" r="4.3"/>
<circle cx="535.4" cy="1253.1" r="4.3"/>
<circle cx="567.7" cy="1296.7" r="4.3"/>
<circle cx="548.3" cy="1250.4" r="4.3"/>
<circle cx="543.2" cy="1204.9" r="4.3"/>
<circle cx="541.0" cy="1271.2" r="4.3"/>
<circle cx="528.2" cy="1244.5" r="4.3"/>
<circle cx="555.6" cy="1246.7" r="4.3"/>
<circle cx="535.2" cy="1293.3" r="4.3"/>
<circle cx="534.3" cy="1293.0" r="4.3"/>
<circle cx="547.6" cy="1214.3" r="4.3"/>
<circle cx="568.6" cy="1206.8" r="4.3"/>
<circle cx="560.8" cy="1246.8" r="4.3"/>
<circle cx="553.9" cy="1298.2" r="4.3"/>
<circle cx="541.1" cy="1281.9" r="4.3"/>
<circle cx="527.9" cy="1268.5" r="4.3"/>
<circle cx="549.5" cy="1283.0" r="4.3"/>
<circle cx="527.9" cy="1263.4" r="4.3"/>
<circle cx="548.0" cy="1296.3" r="4.3"/>
<circle cx="529.3" cy="1207.7" r="4.3"/>
<circle cx="575.6" cy="1264.9" r="4.3"/>
<circle cx="536.0" cy="1294.9" r="4.3"/>
<circle cx="566.9" cy="1252.9" r="4.3"/>
<circle cx="529.1" cy="1299.8" r="4.3"/>
<circle cx="567.4" cy="1258.0" r="4.3"/>
<circle cx="534.7" cy="1278.1" r="4.3"/>
<circle cx="561.1" cy="1244.1" r="4.3"/>
<circle cx="562.0" cy="1248.7" r="4.3"/>
<circle cx="528.0" cy="1217.8" r="4.3"/>
<circle cx="568.0" cy="1267.7" r="4.3"/>
<circle cx="541.7" cy="1218.5" r="4.3"/>
<circle cx="574.8" cy="1213.5" r="4.3"/>
<circle cx="561.7" cy="1264.4" r="4.3"/>
</g>
<g fill="url(#pg4)" stroke="rgb(158,66,238)" stroke-width="0.8" stroke-opacity="0.7">
<circle cx="664.8" cy="1005.8" r="4.3"/>
<circle cx="670.8" cy="998.0" r="4.3"/>
<circle cx="651.3" cy="988.4" r="4.3"/>
<circle cx="664.1" cy="988.0" r="4.3"/>
<circle cx="671.7" cy="999.0" r="4.3"/>
<circle cx="670.7" cy="997.9" r="4.3"/>
<circle cx="651.1" cy="979.4" r="4.3"/>
<circle cx="665.5" cy="986.3" r="4.3"/>
<circle cx="650.6" cy="980.8" r="4.3"/>
<circle cx="665.4" cy="978.9" r="4.3"/>
<circle cx="652.1" cy="983.7" r="4.3"/>
<circle cx="670.6" cy="992.1" r="4.3"/>
<circle cx="651.0" cy="990.4" r="4.3"/>
<circle cx="652.0" cy="977.0" r="4.3"/>
<circle cx="665.2" cy="987.1" r="4.3"/>
<circle cx="644.1" cy="978.6" r="4.3"/>
<circle cx="664.7" cy="976.5" r="4.3"/>
<circle cx="658.2" cy="986.9" r="4.3"/>
<circle cx="644.8" cy="988.0" r="4.3"/>
<circle cx="670.7" cy="1007.4" r="4.3"/>
<circle cx="671.2" cy="980.3" r="4.3"/>
<circle cx="670.0" cy="994.9" r="4.3"/>
<circle cx="644.0" cy="990.0" r="4.3"/>
<circle cx="646.2" cy="995.7" r="4.3"/>
<circle cx="678.6" cy="1032.7" r="4.3"/>
<circle cx="664.4" cy="1033.3" r="4.3"/>
<circle cx="663.7" cy="1025.9" r="4.3"/>
<circle cx="651.5" cy="1031.4" r="4.3"/>
<circle cx="671.2" cy="1033.7" r="4.3"/>
<circle cx="676.5" cy="1014.4" r="4.3"/>
<circle cx="631.2" cy="1038.8" r="4.3"/>
<circle cx="644.9" cy="1024.0" r="4.3"/>
<circle cx="664.0" cy="1033.4" r="4.3"/>
<circle cx="652.3" cy="1034.1" r="4.3"/>
<circle cx="632.1" cy="1012.8" r="4.3"/>
<circle cx="676.5" cy="1018.0" r="4.3"/>
<circle cx="671.2" cy="1030.0" r="4.3"/>
<circle cx="651.5" cy="1016.1" r="4.3"/>
<circle cx="657.4" cy="1030.3" r="4.3"/>
<circle cx="637.6" cy="1015.9" r="4.3"/>
<circle cx="658.2" cy="1010.1" r="4.3"/>
<circle cx="684.8" cy="1021.4" r="4.3"/>
<circle cx="639.3" cy="1039.3" r="4.3"/>
<circle cx="639.1" cy="1034.5" r="4.3"/>
<circle cx="683.3" cy="1013.6" r="4.3"/>
<circle cx="637.9" cy="1037.0" r="4.3"/>
<circle cx="683.9" cy="1013.8" r="4.3"/>
<circle cx="650.9" cy="1029.5" r="4.3"/>
<circle cx="671.7" cy="1023.1" r="4.3"/>
<circle cx="657.9" cy="1021.1" r="4.3"/>
<circle cx="658.4" cy="1031.3" r="4.3"/>
<circle cx="651.7" cy="1014.4" r="4.3"/>
<circle cx="631.7" cy="1020.8" r="4.3"/>
<circle cx="631.0" cy="1022.8" r="4.3"/>
<circle cx="633.5" cy="1058.4" r="4.3"/>
<circle cx="626.2" cy="1047.0" r="4.3"/>
<circle cx="628.9" cy="1046.8" r="4.3"/>
<circle cx="627.1" cy="1053.0" r="4.3"/>
<circle cx="632.7" cy="1048.4" r="4.3"/>
<circle cx="627.4" cy="1042.3" r="4.3"/>
<circle cx="626.1" cy="1056.8" r="4.3"/>
<circle cx="627.8" cy="1055.9" r="4.3"/>
<circle cx="688.3" cy="1041.8" r="4.3"/>
<circle cx="683.5" cy="1046.9" r="4.3"/>
<circle cx="688.2" cy="1056.2" r="4.3"/>
<circle cx="684.4" cy="1049.9" r="4.3"/>
<circle cx="684.8" cy="1050.4" r="4.3"/>
<circle cx="688.3" cy="1045.8" r="4.3"/>
<circle cx="688.5" cy="1060.2" r="4.3"/>
<circle cx="686.8" cy="1061.1" r="4.3"/>
<circle cx="683.2" cy="1308.2" r="4.3"/>
<circle cx="639.2" cy="1121.1" r="4.3"/>
<circle cx="644.9" cy="1275.4" r="4.3"/>
<circle cx="670.3" cy="1288.0" r="4.3"/>
<circle cx="677.5" cy="1105.9" r="4.3"/>
<circle cx="644.5" cy="1185.0" r="4.3"/>
<circle cx="684.2" cy="1271.2" r="4.3"/>
<circle cx="631.4" cy="1252.2" r="4.3"/>
<circle cx="644.3" cy="1108.6" r="4.3"/>
<circle cx="631.8" cy="1212.5" r="4.3"/>
<circle cx="651.7" cy="1157.5" r="4.3"/>
<circle cx="625.9" cy="1167.2" r="4.3"/>
<circle cx="657.7" cy="1153.0" r="4.3"/>
<circle cx="631.5" cy="1159.1" r="4.3"/>
<circle cx="630.9" cy="1198.3" r="4.3"/>
<circle cx="626.4" cy="1172.5" r="4.3"/>
<circle cx="651.6" cy="1100.2" r="4.3"/>
<circle cx="632.7" cy="1214.6" r="4.3"/>
<circle cx="657.6" cy="1256.5" r="4.3"/>
<circle cx="658.7" cy="1274.7" r="4.3"/>
<circle cx="684.5" cy="1239.9" r="4.3"/>
<circle cx="658.1" cy="1219.5" r="4.3"/>
<circle cx="658.8" cy="1279.5" r="4.3"/>
<circle cx="632.6" cy="1227.5" r="4.3"/>
<circle cx="665.5" cy="1105.7" r="4.3"/>
<circle cx="657.7" cy="1298.9" r="4.3"/>
<circle cx="638.7" cy="1126.0" r="4.3"/>
<circle cx="671.0" cy="1253.1" r="4.3"/>
<circle cx="645.9" cy="1096.5" r="4.3"/>
<circle cx="639.1" cy="1284.0" r="4.3"/>
<circle cx="677.0" cy="1112.4" r="4.3"/>
<circle cx="671.6" cy="1108.0" r="4.3"/>
<circle cx="684.1" cy="1102.2" r="4.3"/>
<circle cx="657.6" cy="1117.4" r="4.3"/>
<circle cx="685.0" cy="1121.7" r="4.3"/>
<circle cx="651.0" cy="1239.5" r="4.3"/>
<circle cx="631.6" cy="1183.2" r="4.3"/>
<circle cx="657.8" cy="1223.1" r="4.3"/>
<circle cx="685.0" cy="1290.1" r="4.3"/>
<circle cx="676.8" cy="1147.6" r="4.3"/>
<circle cx="658.3" cy="1225.4" r="4.3"/>
<circle cx="652.7" cy="1162.2" r="4.3"/>
<circle cx="624.5" cy="1140.0" r="4.3"/>
<circle cx="671.8" cy="1104.0" r="4.3"/>
<circle cx="637.9" cy="1264.1" r="4.3"/>
<circle cx="683.4" cy="1117.0" r="4.3"/>
<circle cx="685.1" cy="1249.1" r="4.3"/>
<circle cx="658.6" cy="1260.0" r="4.3"/>
<circle cx="657.5" cy="1207.9" r="4.3"/>
<circle cx="670.6" cy="1232.4" r="4.3"/>
<circle cx="639.6" cy="1140.5" r="4.3"/>
<circle cx="639.6" cy="1299.3" r="4.3"/>
<circle cx="684.8" cy="1277.4" r="4.3"/>
<circle cx="677.7" cy="1111.0" r="4.3"/>
<circle cx="671.8" cy="1275.1" r="4.3"/>
<circle cx="630.9" cy="1252.1" r="4.3"/>
<circle cx="658.9" cy="1308.0" r="4.3"/>
<circle cx="651.9" cy="1238.0" r="4.3"/>
<circle cx="670.7" cy="1232.5" r="4.3"/>
<circle cx="633.0" cy="1250.6" r="4.3"/>
<circle cx="677.4" cy="1139.1" r="4.3"/>
<circle cx="658.4" cy="1212.9" r="4.3"/>
<circle cx="630.8" cy="1180.5" r="4.3"/>
<circle cx="644.3" cy="1142.6" r="4.3"/>
<circle cx="652.0" cy="1291.3" r="4.3"/>
<circle cx="669.8" cy="1281.5" r="4.3"/>
<circle cx="665.1" cy="1226.9" r="4.3"/>
<circle cx="651.1" cy="1110.3" r="4.3"/>
<circle cx="669.9" cy="1241.4" r="4.3"/>
<circle cx="684.4" cy="1225.3" r="4.3"/>
<circle cx="678.6" cy="1269.7" r="4.3"/>
<circle cx="690.4" cy="1098.1" r="4.3"/>
<circle cx="664.8" cy="1280.6" r="4.3"/>
<circle cx="664.2" cy="1096.0" r="4.3"/>
<circle cx="677.8" cy="1306.8" r="4.3"/>
<circle cx="665.3" cy="1261.0" r="4.3"/>
<circle cx="690.4" cy="1287.9" r="4.3"/>
<circle cx="650.3" cy="1165.1" r="4.3"/>
<circle cx="652.7" cy="1179.9" r="4.3"/>
<circle cx="645.5" cy="1115.9" r="4.3"/>
<circle cx="644.7" cy="1121.7" r="4.3"/>
<circle cx="664.3" cy="1267.4" r="4.3"/>
<circle cx="646.1" cy="1137.1" r="4.3"/>
<circle cx="657.3" cy="1098.1" r="4.3"/>
<circle cx="645.9" cy="1157.7" r="4.3"/>
<circle cx="658.1" cy="1152.2" r="4.3"/>
<circle cx="657.0" cy="1170.1" r="4.3"/>
<circle cx="645.8" cy="1260.6" r="4.3"/>
<circle cx="671.2" cy="1281.3" r="4.3"/>
<circle cx="669.9" cy="1123.0" r="4.3"/>
<circle cx="671.8" cy="1307.7" r="4.3"/>
<circle cx="676.7" cy="1216.9" r="4.3"/>
<circle cx="664.8" cy="1123.9" r="4.3"/>
<circle cx="684.0" cy="1152.8" r="4.3"/>
<circle cx="690.2" cy="1110.0" r="4.3"/>
<circle cx="670.4" cy="1141.9" r="4.3"/>
<circle cx="645.3" cy="1163.8" r="4.3"/>
<circle cx="672.0" cy="1308.0" r="4.3"/>
<circle cx="685.0" cy="1149.4" r="4.3"/>
<circle cx="676.5" cy="1220.1" r="4.3"/>
<circle cx="631.0" cy="1299.0" r="4.3"/>
<circle cx="632.5" cy="1208.3" r="4.3"/>
<circle cx="626.2" cy="1108.1" r="4.3"/>
<circle cx="684.8" cy="1201.7" r="4.3"/>
<circle cx="650.4" cy="1245.5" r="4.3"/>
<circle cx="632.1" cy="1294.0" r="4.3"/>
<circle cx="670.1" cy="1250.0" r="4.3"/>
<circle cx="670.6" cy="1260.9" r="4.3"/>
<circle cx="664.3" cy="1208.1" r="4.3"/>
<circle cx="644.5" cy="1286.1" r="4.3"/>
<circle cx="652.2" cy="1173.9" r="4.3"/>
<circle cx="637.3" cy="1302.1" r="4.3"/>
<circle cx="672.2" cy="1221.6" r="4.3"/>
<circle cx="631.2" cy="1105.6" r="4.3"/>
<circle cx="664.8" cy="1300.4" r="4.3"/>
<circle cx="644.4" cy="1142.6" r="4.3"/>
<circle cx="637.4" cy="1201.1" r="4.3"/>
<circle cx="651.2" cy="1299.5" r="4.3"/>
<circle cx="645.8" cy="1209.5" r="4.3"/>
<circle cx="630.9" cy="1226.0" r="4.3"/>
<circle cx="682.9" cy="1245.9" r="4.3"/>
<circle cx="638.9" cy="1274.1" r="4.3"/>
<circle cx="670.4" cy="1128.5" r="4.3"/>
<circle cx="685.0" cy="1293.5" r="4.3"/>
<circle cx="656.9" cy="1174.3" r="4.3"/>
<circle cx="683.0" cy="1158.5" r="4.3"/>
<circle cx="632.9" cy="1171.0" r="4.3"/>
<circle cx="631.7" cy="1138.8" r="4.3"/>
<circle cx="651.8" cy="1236.5" r="4.3"/>
<circle cx="632.1" cy="1107.1" r="4.3"/>
<circle cx="652.2" cy="1151.4" r="4.3"/>
<circle cx="676.9" cy="1179.5" r="4.3"/>
<circle cx="676.3" cy="1214.1" r="4.3"/>
<circle cx="658.5" cy="1298.8" r="4.3"/>
<circle cx="670.3" cy="1137.8" r="4.3"/>
<circle cx="657.5" cy="1214.0" r="4.3"/>
<circle cx="632.5" cy="1184.6" r="4.3"/>
<circle cx="631.1" cy="1296.1" r="4.3"/>
<circle cx="678.4" cy="1178.8" r="4.3"/>
<circle cx="689.7" cy="1251.1" r="4.3"/>
<circle cx="683.3" cy="1095.9" r="4.3"/>
<circle cx="631.0" cy="1267.8" r="4.3"/>
<circle cx="664.4" cy="1119.6" r="4.3"/>
<circle cx="663.6" cy="1123.7" r="4.3"/>
<circle cx="664.8" cy="1267.2" r="4.3"/>
<circle cx="676.6" cy="1160.4" r="4.3"/>
<circle cx="638.5" cy="1101.1" r="4.3"/>
<circle cx="684.4" cy="1268.8" r="4.3"/>
<circle cx="659.0" cy="1274.5" r="4.3"/>
<circle cx="678.2" cy="1141.4" r="4.3"/>
<circle cx="650.4" cy="1259.3" r="4.3"/>
<circle cx="659.2" cy="1157.3" r="4.3"/>
<circle cx="652.4" cy="1303.3" r="4.3"/>
<circle cx="671.9" cy="1293.6" r="4.3"/>
<circle cx="645.3" cy="1108.7" r="4.3"/>
<circle cx="672.1" cy="1203.7" r="4.3"/>
<circle cx="638.7" cy="1109.1" r="4.3"/>
<circle cx="657.0" cy="1184.7" r="4.3"/>
<circle cx="678.1" cy="1278.5" r="4.3"/>
<circle cx="657.9" cy="1106.8" r="4.3"/>
<circle cx="677.7" cy="1182.7" r="4.3"/>
<circle cx="638.4" cy="1108.5" r="4.3"/>
<circle cx="631.0" cy="1186.4" r="4.3"/>
<circle cx="639.3" cy="1226.1" r="4.3"/>
<circle cx="677.6" cy="1129.3" r="4.3"/>
<circle cx="645.8" cy="1220.8" r="4.3"/>
<circle cx="664.8" cy="1105.3" r="4.3"/>
<circle cx="638.3" cy="1276.5" r="4.3"/>
<circle cx="684.2" cy="1150.8" r="4.3"/>
<circle cx="632.1" cy="1183.0" r="4.3"/>
<circle cx="683.3" cy="1139.0" r="4.3"/>
<circle cx="624.4" cy="1268.6" r="4.3"/>
<circle cx="683.2" cy="1098.3" r="4.3"/>
<circle cx="663.9" cy="1227.1" r="4.3"/>
<circle cx="684.6" cy="1155.2" r="4.3"/>
<circle cx="664.0" cy="1258.3" r="4.3"/>
<circle cx="645.9" cy="1240.8" r="4.3"/>
<circle cx="683.6" cy="1300.1" r="4.3"/>
<circle cx="663.9" cy="1234.1" r="4.3"/>
<circle cx="644.1" cy="1103.5" r="4.3"/>
<circle cx="663.9" cy="1116.5" r="4.3"/>
<circle cx="676.6" cy="1257.3" r="4.3"/>
<circle cx="644.7" cy="1295.5" r="4.3"/>
<circle cx="678.3" cy="1305.8" r="4.3"/>
<circle cx="665.5" cy="1228.8" r="4.3"/>
<circle cx="664.1" cy="1176.5" r="4.3"/>
<circle cx="663.9" cy="1233.0" r="4.3"/>
<circle cx="678.0" cy="1143.4" r="4.3"/>
<circle cx="625.2" cy="1188.3" r="4.3"/>
<circle cx="677.6" cy="1206.4" r="4.3"/>
<circle cx="664.6" cy="1240.8" r="4.3"/>
<circle cx="664.6" cy="1145.7" r="4.3"/>
<circle cx="631.9" cy="1285.6" r="4.3"/>
<circle cx="683.5" cy="1218.6" r="4.3"/>
<circle cx="657.9" cy="1133.3" r="4.3"/>
<circle cx="676.5" cy="1144.0" r="4.3"/>
<circle cx="644.3" cy="1136.6" r="4.3"/>
<circle cx="632.1" cy="1132.0" r="4.3"/>
<circle cx="664.7" cy="1229.3" r="4.3"/>
<circle cx="658.3" cy="1158.6" r="4.3"/>
<circle cx="658.5" cy="1141.3" r="4.3"/>
<circle cx="671.2" cy="1304.6" r="4.3"/>
<circle cx="664.6" cy="1260.2" r="4.3"/>
<circle cx="644.7" cy="1188.0" r="4.3"/>
<circle cx="671.5" cy="1134.8" r="4.3"/>
<circle cx="685.2" cy="1201.5" r="4.3"/>
<circle cx="690.8" cy="1177.7" r="4.3"/>
<circle cx="630.8" cy="1222.1" r="4.3"/>
<circle cx="671.3" cy="1263.3" r="4.3"/>
<circle cx="652.1" cy="1224.8" r="4.3"/>
<circle cx="664.6" cy="1238.4" r="4.3"/>
<circle cx="663.5" cy="1240.1" r="4.3"/>
<circle cx="670.8" cy="1303.5" r="4.3"/>
<circle cx="657.2" cy="1204.9" r="4.3"/>
<circle cx="650.7" cy="1286.0" r="4.3"/>
<circle cx="639.0" cy="1131.6" r="4.3"/>
<circle cx="659.2" cy="1114.1" r="4.3"/>
<circle cx="676.3" cy="1305.2" r="4.3"/>
<circle cx="683.9" cy="1232.1" r="4.3"/>
<circle cx="657.2" cy="1171.5" r="4.3"/>
<circle cx="652.4" cy="1119.5" r="4.3"/>
<circle cx="657.9" cy="1213.9" r="4.3"/>
<circle cx="677.7" cy="1164.5" r="4.3"/>
<circle cx="684.2" cy="1153.3" r="4.3"/>
<circle cx="658.9" cy="1105.0" r="4.3"/>
<circle cx="664.5" cy="1156.9" r="4.3"/>
<circle cx="637.9" cy="1189.1" r="4.3"/>
<circle cx="651.7" cy="1153.1" r="4.3"/>
<circle cx="664.4" cy="1266.1" r="4.3"/>
<circle cx="676.9" cy="1305.0" r="4.3"/>
<circle cx="657.6" cy="1149.7" r="4.3"/>
<circle cx="670.8" cy="1242.0" r="4.3"/>
<circle cx="645.9" cy="1151.9" r="4.3"/>
<circle cx="683.9" cy="1181.2" r="4.3"/>
<circle cx="664.6" cy="1212.8" r="4.3"/>
<circle cx="665.6" cy="1254.7" r="4.3"/>
<circle cx="633.2" cy="1098.3" r="4.3"/>
<circle cx="632.8" cy="1154.2" r="4.3"/>
<circle cx="631.2" cy="1201.5" r="4.3"/>
<circle cx="676.3" cy="1130.5" r="4.3"/>
<circle cx="624.4" cy="1162.8" r="4.3"/>
<circle cx="659.1" cy="1234.4" r="4.3"/>
<circle cx="677.7" cy="1290.7" r="4.3"/>
<circle cx="670.4" cy="1175.0" r="4.3"/>
<circle cx="657.1" cy="1293.7" r="4.3"/>
<circle cx="657.3" cy="1200.7" r="4.3"/>
<circle cx="677.0" cy="1221.3" r="4.3"/>
<circle cx="631.4" cy="1135.3" r="4.3"/>
<circle cx="658.5" cy="1143.9" r="4.3"/>
<circle cx="671.2" cy="1256.4" r="4.3"/>
</g>
</g>
<line x1="219.5" y1="973.8" x2="219.5" y2="1018.7" stroke="#000" stroke-width="4.5"/>
<line x1="219.5" y1="1071.4" x2="219.5" y2="1106.0" stroke="#000" stroke-width="4.5"/>
<line x1="204.5" y1="973.8" x2="234.5" y2="973.8" stroke="#000" stroke-width="4.5"/>
<line x1="204.5" y1="1106.0" x2="234.5" y2="1106.0" stroke="#000" stroke-width="4.5"/>
<path d="M219.5 1018.7 L251.0 1045.0 L219.5 1071.4 L188.0 1045.0 Z" fill="rgba(150,150,150,0.55)" stroke="rgb(80,80,80)" stroke-width="3"/>
<line x1="187.0" y1="1045.0" x2="252.0" y2="1045.0" stroke="#000" stroke-width="4.5"/>
<line x1="329.2" y1="952.3" x2="329.2" y2="983.0" stroke="#000" stroke-width="4.5"/>
<line x1="329.2" y1="1053.0" x2="329.2" y2="1098.8" stroke="#000" stroke-width="4.5"/>
<line x1="314.2" y1="952.3" x2="344.2" y2="952.3" stroke="#000" stroke-width="4.5"/>
<line x1="314.2" y1="1098.8" x2="344.2" y2="1098.8" stroke="#000" stroke-width="4.5"/>
<path d="M329.2 983.0 L360.7 1010.6 L329.2 1053.0 L297.7 1010.6 Z" fill="rgba(200,40,130,0.45)" stroke="rgb(80,80,80)" stroke-width="3"/>
<line x1="296.7" y1="1010.6" x2="361.7" y2="1010.6" stroke="#000" stroke-width="4.5"/>
<line x1="439.5" y1="1021.6" x2="439.5" y2="1057.5" stroke="#000" stroke-width="4.5"/>
<line x1="439.5" y1="1094.8" x2="439.5" y2="1122.8" stroke="#000" stroke-width="4.5"/>
<line x1="424.5" y1="1021.6" x2="454.5" y2="1021.6" stroke="#000" stroke-width="4.5"/>
<line x1="424.5" y1="1122.8" x2="454.5" y2="1122.8" stroke="#000" stroke-width="4.5"/>
<path d="M439.5 1057.5 L469.5 1078.3 L439.5 1094.8 L409.5 1078.3 Z" fill="rgba(110,120,220,0.5)" stroke="rgb(80,80,80)" stroke-width="3"/>
<line x1="408.5" y1="1078.3" x2="470.5" y2="1078.3" stroke="#000" stroke-width="4.5"/>
<line x1="548.5" y1="1049.7" x2="548.5" y2="1079.0" stroke="#000" stroke-width="4.5"/>
<line x1="548.5" y1="1210.0" x2="548.5" y2="1274.7" stroke="#000" stroke-width="4.5"/>
<line x1="533.5" y1="1049.7" x2="563.5" y2="1049.7" stroke="#000" stroke-width="4.5"/>
<line x1="533.5" y1="1274.7" x2="563.5" y2="1274.7" stroke="#000" stroke-width="4.5"/>
<path d="M548.5 1079.0 L579.5 1132.0 L548.5 1210.0 L517.5 1132.0 Z" fill="rgba(70,90,230,0.45)" stroke="rgb(80,80,80)" stroke-width="3"/>
<line x1="516.5" y1="1132.0" x2="580.5" y2="1132.0" stroke="#000" stroke-width="4.5"/>
<line x1="658.0" y1="1044.0" x2="658.0" y2="1113.5" stroke="#000" stroke-width="4.5"/>
<line x1="658.0" y1="1253.5" x2="658.0" y2="1305.0" stroke="#000" stroke-width="4.5"/>
<line x1="643.0" y1="1044.0" x2="673.0" y2="1044.0" stroke="#000" stroke-width="4.5"/>
<line x1="643.0" y1="1305.0" x2="673.0" y2="1305.0" stroke="#000" stroke-width="4.5"/>
<path d="M658.0 1113.5 L689.0 1210.0 L658.0 1253.5 L627.0 1210.0 Z" fill="rgba(170,90,240,0.45)" stroke="rgb(80,80,80)" stroke-width="3"/>
<line x1="626.0" y1="1210.0" x2="690.0" y2="1210.0" stroke="#000" stroke-width="4.5"/>
<path d="M160.4 1302.5H164.9M160.4 1294.9H164.9M160.4 1288.2H164.9M156.4 1282.2H164.9M160.4 1242.8H164.9M160.4 1219.8H164.9M160.4 1203.5H164.9M160.4 1190.8H164.9M160.4 1180.4H164.9M160.4 1171.7H164.9M160.4 1164.1H164.9M160.4 1157.4H164.9M156.4 1151.4H164.9M160.4 1112.0H164.9M160.4 1089.0H164.9M160.4 1072.7H164.9M160.4 1060.0H164.9M160.4 1049.6H164.9M160.4 1040.9H164.9M160.4 1033.3H164.9M160.4 1026.6H164.9M156.4 1020.6H164.9M160.4 981.2H164.9M160.4 958.2H164.9M160.4 941.9H164.9M160.4 929.2H164.9M160.4 918.8H164.9M160.4 910.1H164.9M160.4 902.5H164.9M160.4 895.8H164.9M156.4 889.8H164.9M160.4 850.4H164.9M160.4 827.4H164.9" stroke="#444" stroke-width="1.6" fill="none"/>
<path d="M219.8 1310.2V1318.7M329.2 1310.2V1318.7M439.5 1310.2V1318.7M548.4 1310.2V1318.7M657.9 1310.2V1318.7" stroke="#444" stroke-width="1.8" fill="none"/>
<text x="219.8" y="1351.4" font-size="30" text-anchor="middle" stroke="#111" stroke-width="0.4">0</text>
<text x="329.2" y="1351.4" font-size="30" text-anchor="middle" stroke="#111" stroke-width="0.4">5</text>
<text x="439.5" y="1351.4" font-size="30" text-anchor="middle" stroke="#111" stroke-width="0.4">15</text>
<text x="548.4" y="1351.4" font-size="30" text-anchor="middle" stroke="#111" stroke-width="0.4">25</text>
<text x="657.9" y="1351.4" font-size="30" text-anchor="middle" stroke="#111" stroke-width="0.4">40</text>
<text x="450" y="1398.2" font-size="30" text-anchor="middle" stroke="#111" stroke-width="0.4">Br(%)</text>
<text x="103" y="898.7" font-size="30.5" stroke="#111" stroke-width="0.4">10<tspan font-size="22" dy="-12">5</tspan></text>
<text x="103" y="1029.5" font-size="30.5" stroke="#111" stroke-width="0.4">10<tspan font-size="22" dy="-12">4</tspan></text>
<text x="103" y="1160.3" font-size="30.5" stroke="#111" stroke-width="0.4">10<tspan font-size="22" dy="-12">4</tspan></text>
<text x="103" y="1291.1" font-size="30.5" stroke="#111" stroke-width="0.4">10<tspan font-size="22" dy="-12">2</tspan></text>
<text transform="translate(67.7 1124) rotate(-90)" font-size="31" stroke="#111" stroke-width="0.4"><tspan font-style="italic">T</tspan><tspan font-size="22" dy="13" dx="6">80</tspan><tspan dy="-13"> (h)</tspan></text>
</svg>
</body></html>
